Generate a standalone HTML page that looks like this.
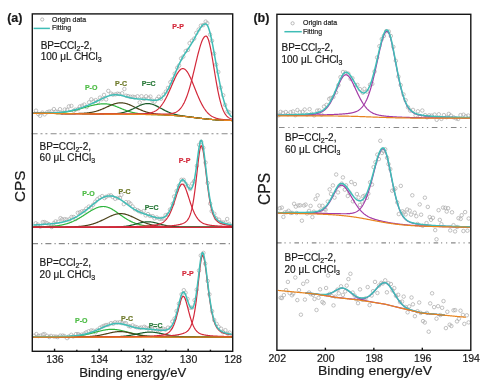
<!DOCTYPE html>
<html><head><meta charset="utf-8"><style>
html,body{margin:0;padding:0;background:#fff;}
body{filter:blur(0.3px);width:488px;height:388px;position:relative;overflow:hidden;font-family:"Liberation Sans",sans-serif;color:#1a1a1a;}
svg{position:absolute;left:0;top:0;}
.t{-webkit-text-stroke:0.2px currentColor;position:absolute;white-space:nowrap;line-height:1;}
.s{font-size:10px;}
.s sub{font-size:7px;vertical-align:baseline;position:relative;top:2px;}
.lg{font-size:7px;}
.tk{font-size:10.5px;}
.lab{font-size:13px;}
.b{font-weight:bold;}
.pk{font-size:7px;font-weight:bold;}
</style></head><body>
<svg width="488" height="388" viewBox="0 0 488 388">
<rect width="488" height="388" fill="#fff"/>
<g fill="none" stroke="#a8a8a8" stroke-width="0.7">
<circle cx="36.0" cy="110.7" r="1.75"/>
<circle cx="38.3" cy="114.1" r="1.75"/>
<circle cx="40.1" cy="115.8" r="1.75"/>
<circle cx="42.4" cy="112.6" r="1.75"/>
<circle cx="44.6" cy="114.4" r="1.75"/>
<circle cx="47.3" cy="112.2" r="1.75"/>
<circle cx="49.2" cy="111.6" r="1.75"/>
<circle cx="51.5" cy="111.4" r="1.75"/>
<circle cx="53.9" cy="109.1" r="1.75"/>
<circle cx="55.9" cy="111.5" r="1.75"/>
<circle cx="57.7" cy="111.9" r="1.75"/>
<circle cx="60.0" cy="109.2" r="1.75"/>
<circle cx="62.0" cy="112.8" r="1.75"/>
<circle cx="64.8" cy="109.5" r="1.75"/>
<circle cx="67.1" cy="109.8" r="1.75"/>
<circle cx="68.9" cy="106.4" r="1.75"/>
<circle cx="71.4" cy="105.9" r="1.75"/>
<circle cx="73.7" cy="110.8" r="1.75"/>
<circle cx="75.3" cy="109.7" r="1.75"/>
<circle cx="78.2" cy="109.0" r="1.75"/>
<circle cx="79.9" cy="106.5" r="1.75"/>
<circle cx="82.2" cy="105.7" r="1.75"/>
<circle cx="84.3" cy="104.6" r="1.75"/>
<circle cx="86.7" cy="107.0" r="1.75"/>
<circle cx="89.1" cy="102.3" r="1.75"/>
<circle cx="91.3" cy="99.3" r="1.75"/>
<circle cx="93.6" cy="101.5" r="1.75"/>
<circle cx="95.7" cy="100.1" r="1.75"/>
<circle cx="98.0" cy="101.8" r="1.75"/>
<circle cx="100.0" cy="97.6" r="1.75"/>
<circle cx="101.8" cy="99.2" r="1.75"/>
<circle cx="104.0" cy="94.9" r="1.75"/>
<circle cx="106.1" cy="99.4" r="1.75"/>
<circle cx="108.3" cy="90.9" r="1.75"/>
<circle cx="111.0" cy="93.6" r="1.75"/>
<circle cx="112.8" cy="94.7" r="1.75"/>
<circle cx="115.4" cy="94.4" r="1.75"/>
<circle cx="117.5" cy="93.7" r="1.75"/>
<circle cx="119.2" cy="94.0" r="1.75"/>
<circle cx="122.1" cy="93.3" r="1.75"/>
<circle cx="124.4" cy="89.0" r="1.75"/>
<circle cx="126.0" cy="95.7" r="1.75"/>
<circle cx="128.1" cy="96.1" r="1.75"/>
<circle cx="130.4" cy="96.8" r="1.75"/>
<circle cx="132.7" cy="96.7" r="1.75"/>
<circle cx="134.6" cy="97.2" r="1.75"/>
<circle cx="137.5" cy="96.3" r="1.75"/>
<circle cx="139.7" cy="102.4" r="1.75"/>
<circle cx="141.5" cy="96.2" r="1.75"/>
<circle cx="143.9" cy="99.0" r="1.75"/>
<circle cx="146.1" cy="96.3" r="1.75"/>
<circle cx="148.6" cy="98.0" r="1.75"/>
<circle cx="150.4" cy="96.6" r="1.75"/>
<circle cx="152.4" cy="100.6" r="1.75"/>
<circle cx="154.6" cy="101.7" r="1.75"/>
<circle cx="157.0" cy="99.0" r="1.75"/>
<circle cx="158.8" cy="96.7" r="1.75"/>
<circle cx="161.0" cy="98.7" r="1.75"/>
<circle cx="163.7" cy="94.6" r="1.75"/>
<circle cx="165.9" cy="91.6" r="1.75"/>
<circle cx="168.0" cy="87.9" r="1.75"/>
<circle cx="170.4" cy="82.2" r="1.75"/>
<circle cx="172.6" cy="79.3" r="1.75"/>
<circle cx="174.7" cy="73.7" r="1.75"/>
<circle cx="177.2" cy="67.8" r="1.75"/>
<circle cx="179.1" cy="65.5" r="1.75"/>
<circle cx="181.1" cy="58.5" r="1.75"/>
<circle cx="183.3" cy="56.6" r="1.75"/>
<circle cx="185.7" cy="51.1" r="1.75"/>
<circle cx="188.0" cy="49.9" r="1.75"/>
<circle cx="189.6" cy="43.2" r="1.75"/>
<circle cx="192.0" cy="40.7" r="1.75"/>
<circle cx="194.2" cy="38.6" r="1.75"/>
<circle cx="196.3" cy="32.9" r="1.75"/>
<circle cx="198.7" cy="29.5" r="1.75"/>
<circle cx="200.9" cy="25.7" r="1.75"/>
<circle cx="203.1" cy="25.1" r="1.75"/>
<circle cx="205.7" cy="21.6" r="1.75"/>
<circle cx="207.3" cy="23.2" r="1.75"/>
<circle cx="210.1" cy="34.6" r="1.75"/>
<circle cx="212.0" cy="40.8" r="1.75"/>
<circle cx="214.2" cy="53.5" r="1.75"/>
<circle cx="216.2" cy="64.5" r="1.75"/>
<circle cx="218.3" cy="72.0" r="1.75"/>
<circle cx="220.6" cy="87.5" r="1.75"/>
<circle cx="223.2" cy="95.3" r="1.75"/>
<circle cx="225.1" cy="104.9" r="1.75"/>
<circle cx="227.6" cy="111.4" r="1.75"/>
<circle cx="229.4" cy="112.4" r="1.75"/>
<circle cx="35.7" cy="223.3" r="1.75"/>
<circle cx="37.9" cy="224.6" r="1.75"/>
<circle cx="40.3" cy="226.6" r="1.75"/>
<circle cx="42.8" cy="222.1" r="1.75"/>
<circle cx="44.6" cy="222.1" r="1.75"/>
<circle cx="46.7" cy="223.1" r="1.75"/>
<circle cx="48.9" cy="224.1" r="1.75"/>
<circle cx="51.7" cy="227.0" r="1.75"/>
<circle cx="53.8" cy="223.1" r="1.75"/>
<circle cx="55.6" cy="221.4" r="1.75"/>
<circle cx="58.1" cy="221.8" r="1.75"/>
<circle cx="60.5" cy="218.2" r="1.75"/>
<circle cx="62.1" cy="219.3" r="1.75"/>
<circle cx="64.6" cy="219.2" r="1.75"/>
<circle cx="66.5" cy="219.5" r="1.75"/>
<circle cx="69.3" cy="219.4" r="1.75"/>
<circle cx="71.5" cy="217.0" r="1.75"/>
<circle cx="73.7" cy="217.0" r="1.75"/>
<circle cx="75.7" cy="219.0" r="1.75"/>
<circle cx="77.8" cy="212.8" r="1.75"/>
<circle cx="79.9" cy="212.3" r="1.75"/>
<circle cx="81.9" cy="211.3" r="1.75"/>
<circle cx="84.2" cy="211.0" r="1.75"/>
<circle cx="86.2" cy="208.7" r="1.75"/>
<circle cx="88.9" cy="206.6" r="1.75"/>
<circle cx="91.0" cy="207.5" r="1.75"/>
<circle cx="93.1" cy="204.8" r="1.75"/>
<circle cx="95.3" cy="201.7" r="1.75"/>
<circle cx="97.4" cy="199.2" r="1.75"/>
<circle cx="99.7" cy="197.5" r="1.75"/>
<circle cx="102.2" cy="196.1" r="1.75"/>
<circle cx="104.5" cy="198.1" r="1.75"/>
<circle cx="106.1" cy="196.8" r="1.75"/>
<circle cx="108.8" cy="195.6" r="1.75"/>
<circle cx="110.9" cy="195.3" r="1.75"/>
<circle cx="112.7" cy="197.0" r="1.75"/>
<circle cx="115.2" cy="198.8" r="1.75"/>
<circle cx="117.7" cy="197.9" r="1.75"/>
<circle cx="120.0" cy="198.0" r="1.75"/>
<circle cx="121.4" cy="194.8" r="1.75"/>
<circle cx="123.8" cy="204.1" r="1.75"/>
<circle cx="126.1" cy="202.1" r="1.75"/>
<circle cx="128.8" cy="202.4" r="1.75"/>
<circle cx="130.4" cy="203.7" r="1.75"/>
<circle cx="132.6" cy="206.5" r="1.75"/>
<circle cx="134.9" cy="209.2" r="1.75"/>
<circle cx="137.6" cy="210.2" r="1.75"/>
<circle cx="139.0" cy="211.2" r="1.75"/>
<circle cx="141.3" cy="212.3" r="1.75"/>
<circle cx="143.6" cy="211.1" r="1.75"/>
<circle cx="145.7" cy="215.4" r="1.75"/>
<circle cx="148.0" cy="214.1" r="1.75"/>
<circle cx="150.0" cy="216.0" r="1.75"/>
<circle cx="152.7" cy="216.2" r="1.75"/>
<circle cx="154.5" cy="218.4" r="1.75"/>
<circle cx="156.8" cy="217.5" r="1.75"/>
<circle cx="159.6" cy="218.9" r="1.75"/>
<circle cx="161.6" cy="218.7" r="1.75"/>
<circle cx="163.5" cy="218.6" r="1.75"/>
<circle cx="165.6" cy="215.1" r="1.75"/>
<circle cx="167.9" cy="214.5" r="1.75"/>
<circle cx="170.0" cy="209.6" r="1.75"/>
<circle cx="172.7" cy="203.8" r="1.75"/>
<circle cx="174.2" cy="196.5" r="1.75"/>
<circle cx="176.6" cy="191.0" r="1.75"/>
<circle cx="178.8" cy="185.7" r="1.75"/>
<circle cx="181.5" cy="179.8" r="1.75"/>
<circle cx="183.7" cy="179.9" r="1.75"/>
<circle cx="185.7" cy="183.8" r="1.75"/>
<circle cx="188.1" cy="186.2" r="1.75"/>
<circle cx="190.1" cy="189.1" r="1.75"/>
<circle cx="192.2" cy="183.7" r="1.75"/>
<circle cx="194.1" cy="181.2" r="1.75"/>
<circle cx="196.9" cy="165.8" r="1.75"/>
<circle cx="199.1" cy="144.8" r="1.75"/>
<circle cx="201.2" cy="141.8" r="1.75"/>
<circle cx="203.3" cy="147.8" r="1.75"/>
<circle cx="205.5" cy="162.5" r="1.75"/>
<circle cx="207.7" cy="183.0" r="1.75"/>
<circle cx="210.2" cy="203.7" r="1.75"/>
<circle cx="211.7" cy="211.2" r="1.75"/>
<circle cx="214.3" cy="213.8" r="1.75"/>
<circle cx="216.0" cy="218.2" r="1.75"/>
<circle cx="219.0" cy="219.7" r="1.75"/>
<circle cx="220.9" cy="222.3" r="1.75"/>
<circle cx="223.1" cy="222.5" r="1.75"/>
<circle cx="225.3" cy="222.6" r="1.75"/>
<circle cx="227.2" cy="219.0" r="1.75"/>
<circle cx="229.2" cy="223.8" r="1.75"/>
<circle cx="33.9" cy="335.8" r="1.75"/>
<circle cx="36.4" cy="334.1" r="1.75"/>
<circle cx="38.4" cy="336.0" r="1.75"/>
<circle cx="40.4" cy="335.7" r="1.75"/>
<circle cx="43.0" cy="334.5" r="1.75"/>
<circle cx="44.5" cy="334.1" r="1.75"/>
<circle cx="47.0" cy="335.8" r="1.75"/>
<circle cx="49.3" cy="337.0" r="1.75"/>
<circle cx="51.0" cy="335.9" r="1.75"/>
<circle cx="53.9" cy="336.5" r="1.75"/>
<circle cx="56.0" cy="336.6" r="1.75"/>
<circle cx="57.7" cy="337.1" r="1.75"/>
<circle cx="60.3" cy="335.6" r="1.75"/>
<circle cx="62.7" cy="335.6" r="1.75"/>
<circle cx="64.4" cy="336.1" r="1.75"/>
<circle cx="67.1" cy="338.1" r="1.75"/>
<circle cx="68.8" cy="336.5" r="1.75"/>
<circle cx="71.3" cy="334.8" r="1.75"/>
<circle cx="73.2" cy="336.4" r="1.75"/>
<circle cx="76.0" cy="334.1" r="1.75"/>
<circle cx="78.1" cy="334.1" r="1.75"/>
<circle cx="79.7" cy="335.1" r="1.75"/>
<circle cx="81.9" cy="334.6" r="1.75"/>
<circle cx="84.5" cy="333.6" r="1.75"/>
<circle cx="86.2" cy="332.4" r="1.75"/>
<circle cx="88.6" cy="331.3" r="1.75"/>
<circle cx="91.3" cy="330.4" r="1.75"/>
<circle cx="93.2" cy="330.7" r="1.75"/>
<circle cx="95.6" cy="332.2" r="1.75"/>
<circle cx="97.2" cy="329.9" r="1.75"/>
<circle cx="100.0" cy="327.8" r="1.75"/>
<circle cx="102.2" cy="326.6" r="1.75"/>
<circle cx="104.1" cy="325.8" r="1.75"/>
<circle cx="106.0" cy="325.0" r="1.75"/>
<circle cx="108.3" cy="324.8" r="1.75"/>
<circle cx="111.0" cy="323.2" r="1.75"/>
<circle cx="113.3" cy="323.7" r="1.75"/>
<circle cx="115.1" cy="322.3" r="1.75"/>
<circle cx="117.4" cy="322.6" r="1.75"/>
<circle cx="119.8" cy="322.2" r="1.75"/>
<circle cx="122.0" cy="323.2" r="1.75"/>
<circle cx="124.4" cy="323.3" r="1.75"/>
<circle cx="125.9" cy="323.2" r="1.75"/>
<circle cx="128.7" cy="326.0" r="1.75"/>
<circle cx="130.5" cy="326.5" r="1.75"/>
<circle cx="132.6" cy="325.4" r="1.75"/>
<circle cx="134.9" cy="326.7" r="1.75"/>
<circle cx="136.9" cy="327.3" r="1.75"/>
<circle cx="139.6" cy="327.9" r="1.75"/>
<circle cx="141.2" cy="327.5" r="1.75"/>
<circle cx="144.2" cy="326.8" r="1.75"/>
<circle cx="145.8" cy="327.7" r="1.75"/>
<circle cx="148.3" cy="328.6" r="1.75"/>
<circle cx="150.3" cy="327.3" r="1.75"/>
<circle cx="152.2" cy="328.7" r="1.75"/>
<circle cx="154.8" cy="328.6" r="1.75"/>
<circle cx="157.3" cy="330.1" r="1.75"/>
<circle cx="159.6" cy="330.4" r="1.75"/>
<circle cx="161.5" cy="329.4" r="1.75"/>
<circle cx="163.5" cy="328.9" r="1.75"/>
<circle cx="165.5" cy="329.6" r="1.75"/>
<circle cx="168.0" cy="327.6" r="1.75"/>
<circle cx="170.6" cy="327.9" r="1.75"/>
<circle cx="172.4" cy="321.6" r="1.75"/>
<circle cx="174.6" cy="318.6" r="1.75"/>
<circle cx="176.6" cy="311.0" r="1.75"/>
<circle cx="178.9" cy="303.7" r="1.75"/>
<circle cx="181.6" cy="294.3" r="1.75"/>
<circle cx="183.8" cy="290.2" r="1.75"/>
<circle cx="185.5" cy="292.7" r="1.75"/>
<circle cx="187.5" cy="298.9" r="1.75"/>
<circle cx="190.3" cy="307.8" r="1.75"/>
<circle cx="192.1" cy="307.6" r="1.75"/>
<circle cx="194.6" cy="300.2" r="1.75"/>
<circle cx="196.7" cy="289.7" r="1.75"/>
<circle cx="199.0" cy="270.6" r="1.75"/>
<circle cx="200.8" cy="255.5" r="1.75"/>
<circle cx="203.4" cy="252.9" r="1.75"/>
<circle cx="205.2" cy="263.6" r="1.75"/>
<circle cx="207.7" cy="281.0" r="1.75"/>
<circle cx="209.4" cy="294.3" r="1.75"/>
<circle cx="212.1" cy="311.2" r="1.75"/>
<circle cx="214.2" cy="320.0" r="1.75"/>
<circle cx="216.6" cy="323.9" r="1.75"/>
<circle cx="218.5" cy="326.8" r="1.75"/>
<circle cx="221.1" cy="328.7" r="1.75"/>
<circle cx="222.9" cy="332.1" r="1.75"/>
<circle cx="225.4" cy="330.2" r="1.75"/>
<circle cx="227.8" cy="333.7" r="1.75"/>
<circle cx="229.6" cy="332.6" r="1.75"/>
<circle cx="278.6" cy="115.3" r="1.75"/>
<circle cx="280.6" cy="111.9" r="1.75"/>
<circle cx="282.8" cy="112.9" r="1.75"/>
<circle cx="285.8" cy="112.0" r="1.75"/>
<circle cx="287.9" cy="114.3" r="1.75"/>
<circle cx="290.6" cy="112.2" r="1.75"/>
<circle cx="293.0" cy="111.5" r="1.75"/>
<circle cx="295.3" cy="115.2" r="1.75"/>
<circle cx="297.4" cy="110.0" r="1.75"/>
<circle cx="299.8" cy="112.3" r="1.75"/>
<circle cx="302.6" cy="111.8" r="1.75"/>
<circle cx="304.7" cy="109.5" r="1.75"/>
<circle cx="306.9" cy="114.5" r="1.75"/>
<circle cx="309.6" cy="109.2" r="1.75"/>
<circle cx="311.7" cy="113.8" r="1.75"/>
<circle cx="314.2" cy="115.4" r="1.75"/>
<circle cx="317.2" cy="110.6" r="1.75"/>
<circle cx="319.3" cy="110.4" r="1.75"/>
<circle cx="321.5" cy="114.6" r="1.75"/>
<circle cx="324.0" cy="106.6" r="1.75"/>
<circle cx="326.5" cy="104.9" r="1.75"/>
<circle cx="329.2" cy="98.9" r="1.75"/>
<circle cx="330.8" cy="98.0" r="1.75"/>
<circle cx="333.4" cy="96.9" r="1.75"/>
<circle cx="336.1" cy="92.4" r="1.75"/>
<circle cx="338.4" cy="85.2" r="1.75"/>
<circle cx="340.5" cy="77.1" r="1.75"/>
<circle cx="343.0" cy="72.0" r="1.75"/>
<circle cx="345.6" cy="72.5" r="1.75"/>
<circle cx="348.3" cy="73.6" r="1.75"/>
<circle cx="350.6" cy="78.8" r="1.75"/>
<circle cx="352.4" cy="78.2" r="1.75"/>
<circle cx="355.1" cy="85.1" r="1.75"/>
<circle cx="357.4" cy="84.9" r="1.75"/>
<circle cx="359.9" cy="89.1" r="1.75"/>
<circle cx="362.8" cy="92.7" r="1.75"/>
<circle cx="364.4" cy="88.8" r="1.75"/>
<circle cx="367.1" cy="91.6" r="1.75"/>
<circle cx="370.0" cy="84.7" r="1.75"/>
<circle cx="372.3" cy="83.9" r="1.75"/>
<circle cx="374.5" cy="71.5" r="1.75"/>
<circle cx="377.1" cy="57.5" r="1.75"/>
<circle cx="379.4" cy="46.2" r="1.75"/>
<circle cx="381.8" cy="39.1" r="1.75"/>
<circle cx="383.9" cy="35.9" r="1.75"/>
<circle cx="386.2" cy="31.2" r="1.75"/>
<circle cx="388.8" cy="31.5" r="1.75"/>
<circle cx="390.8" cy="36.0" r="1.75"/>
<circle cx="393.3" cy="46.9" r="1.75"/>
<circle cx="395.8" cy="60.8" r="1.75"/>
<circle cx="398.4" cy="76.6" r="1.75"/>
<circle cx="400.7" cy="85.1" r="1.75"/>
<circle cx="403.5" cy="94.4" r="1.75"/>
<circle cx="405.6" cy="100.2" r="1.75"/>
<circle cx="408.0" cy="107.3" r="1.75"/>
<circle cx="410.2" cy="110.6" r="1.75"/>
<circle cx="413.0" cy="109.9" r="1.75"/>
<circle cx="415.6" cy="115.5" r="1.75"/>
<circle cx="417.9" cy="111.3" r="1.75"/>
<circle cx="419.9" cy="116.0" r="1.75"/>
<circle cx="422.3" cy="110.5" r="1.75"/>
<circle cx="425.1" cy="115.1" r="1.75"/>
<circle cx="427.0" cy="117.4" r="1.75"/>
<circle cx="429.2" cy="115.3" r="1.75"/>
<circle cx="431.6" cy="115.6" r="1.75"/>
<circle cx="434.6" cy="114.6" r="1.75"/>
<circle cx="436.7" cy="119.8" r="1.75"/>
<circle cx="438.8" cy="114.3" r="1.75"/>
<circle cx="441.4" cy="118.9" r="1.75"/>
<circle cx="443.9" cy="115.1" r="1.75"/>
<circle cx="446.6" cy="117.2" r="1.75"/>
<circle cx="448.8" cy="113.9" r="1.75"/>
<circle cx="450.9" cy="115.6" r="1.75"/>
<circle cx="453.7" cy="117.4" r="1.75"/>
<circle cx="456.1" cy="118.4" r="1.75"/>
<circle cx="458.1" cy="119.0" r="1.75"/>
<circle cx="460.5" cy="115.1" r="1.75"/>
<circle cx="463.5" cy="114.7" r="1.75"/>
<circle cx="465.7" cy="116.3" r="1.75"/>
<circle cx="468.3" cy="115.6" r="1.75"/>
<circle cx="279.8" cy="208.2" r="1.75"/>
<circle cx="281.8" cy="207.6" r="1.75"/>
<circle cx="283.4" cy="216.9" r="1.75"/>
<circle cx="284.8" cy="212.4" r="1.75"/>
<circle cx="286.8" cy="212.2" r="1.75"/>
<circle cx="288.5" cy="210.8" r="1.75"/>
<circle cx="290.6" cy="212.9" r="1.75"/>
<circle cx="292.1" cy="212.9" r="1.75"/>
<circle cx="294.1" cy="203.8" r="1.75"/>
<circle cx="295.8" cy="206.6" r="1.75"/>
<circle cx="296.7" cy="213.0" r="1.75"/>
<circle cx="298.5" cy="205.4" r="1.75"/>
<circle cx="300.2" cy="205.3" r="1.75"/>
<circle cx="301.9" cy="220.7" r="1.75"/>
<circle cx="304.0" cy="205.5" r="1.75"/>
<circle cx="305.6" cy="204.6" r="1.75"/>
<circle cx="307.0" cy="213.5" r="1.75"/>
<circle cx="309.1" cy="210.9" r="1.75"/>
<circle cx="310.6" cy="205.9" r="1.75"/>
<circle cx="312.4" cy="217.1" r="1.75"/>
<circle cx="313.9" cy="211.7" r="1.75"/>
<circle cx="315.6" cy="199.1" r="1.75"/>
<circle cx="317.6" cy="195.3" r="1.75"/>
<circle cx="319.4" cy="205.7" r="1.75"/>
<circle cx="320.7" cy="210.5" r="1.75"/>
<circle cx="322.5" cy="205.8" r="1.75"/>
<circle cx="324.5" cy="209.0" r="1.75"/>
<circle cx="325.6" cy="209.7" r="1.75"/>
<circle cx="327.8" cy="201.6" r="1.75"/>
<circle cx="329.7" cy="189.4" r="1.75"/>
<circle cx="331.0" cy="193.9" r="1.75"/>
<circle cx="332.9" cy="185.4" r="1.75"/>
<circle cx="334.5" cy="197.6" r="1.75"/>
<circle cx="336.2" cy="174.5" r="1.75"/>
<circle cx="338.0" cy="192.4" r="1.75"/>
<circle cx="339.7" cy="185.5" r="1.75"/>
<circle cx="341.7" cy="183.6" r="1.75"/>
<circle cx="342.9" cy="177.4" r="1.75"/>
<circle cx="344.8" cy="189.7" r="1.75"/>
<circle cx="346.1" cy="185.3" r="1.75"/>
<circle cx="347.8" cy="196.0" r="1.75"/>
<circle cx="349.5" cy="192.5" r="1.75"/>
<circle cx="351.3" cy="182.0" r="1.75"/>
<circle cx="352.9" cy="201.3" r="1.75"/>
<circle cx="354.9" cy="184.1" r="1.75"/>
<circle cx="356.9" cy="194.0" r="1.75"/>
<circle cx="358.6" cy="197.6" r="1.75"/>
<circle cx="359.9" cy="205.0" r="1.75"/>
<circle cx="362.0" cy="201.5" r="1.75"/>
<circle cx="363.1" cy="196.3" r="1.75"/>
<circle cx="364.9" cy="195.6" r="1.75"/>
<circle cx="366.9" cy="197.9" r="1.75"/>
<circle cx="368.3" cy="193.7" r="1.75"/>
<circle cx="370.1" cy="182.3" r="1.75"/>
<circle cx="372.0" cy="184.6" r="1.75"/>
<circle cx="373.6" cy="167.1" r="1.75"/>
<circle cx="375.4" cy="162.2" r="1.75"/>
<circle cx="377.3" cy="154.6" r="1.75"/>
<circle cx="378.9" cy="159.1" r="1.75"/>
<circle cx="380.3" cy="140.8" r="1.75"/>
<circle cx="382.0" cy="153.0" r="1.75"/>
<circle cx="383.4" cy="151.2" r="1.75"/>
<circle cx="385.2" cy="149.3" r="1.75"/>
<circle cx="387.1" cy="157.8" r="1.75"/>
<circle cx="388.5" cy="164.1" r="1.75"/>
<circle cx="390.3" cy="169.1" r="1.75"/>
<circle cx="392.2" cy="190.7" r="1.75"/>
<circle cx="394.1" cy="189.7" r="1.75"/>
<circle cx="395.4" cy="188.4" r="1.75"/>
<circle cx="397.3" cy="202.5" r="1.75"/>
<circle cx="398.8" cy="214.1" r="1.75"/>
<circle cx="400.8" cy="185.9" r="1.75"/>
<circle cx="402.5" cy="211.3" r="1.75"/>
<circle cx="404.1" cy="212.4" r="1.75"/>
<circle cx="405.7" cy="214.4" r="1.75"/>
<circle cx="407.2" cy="209.5" r="1.75"/>
<circle cx="409.7" cy="210.6" r="1.75"/>
<circle cx="411.0" cy="214.6" r="1.75"/>
<circle cx="412.3" cy="195.3" r="1.75"/>
<circle cx="414.7" cy="212.7" r="1.75"/>
<circle cx="416.3" cy="216.2" r="1.75"/>
<circle cx="417.5" cy="224.0" r="1.75"/>
<circle cx="419.7" cy="204.4" r="1.75"/>
<circle cx="421.1" cy="214.7" r="1.75"/>
<circle cx="422.7" cy="225.8" r="1.75"/>
<circle cx="424.9" cy="197.7" r="1.75"/>
<circle cx="426.5" cy="223.1" r="1.75"/>
<circle cx="427.8" cy="206.9" r="1.75"/>
<circle cx="429.7" cy="217.1" r="1.75"/>
<circle cx="431.0" cy="219.8" r="1.75"/>
<circle cx="432.9" cy="217.8" r="1.75"/>
<circle cx="435.2" cy="230.1" r="1.75"/>
<circle cx="436.5" cy="239.3" r="1.75"/>
<circle cx="438.6" cy="210.2" r="1.75"/>
<circle cx="439.8" cy="219.9" r="1.75"/>
<circle cx="441.4" cy="224.2" r="1.75"/>
<circle cx="443.1" cy="207.6" r="1.75"/>
<circle cx="445.3" cy="207.8" r="1.75"/>
<circle cx="446.7" cy="211.5" r="1.75"/>
<circle cx="448.1" cy="208.2" r="1.75"/>
<circle cx="450.2" cy="230.4" r="1.75"/>
<circle cx="452.0" cy="212.3" r="1.75"/>
<circle cx="453.5" cy="225.2" r="1.75"/>
<circle cx="455.1" cy="231.4" r="1.75"/>
<circle cx="457.1" cy="227.0" r="1.75"/>
<circle cx="458.5" cy="218.2" r="1.75"/>
<circle cx="460.7" cy="218.9" r="1.75"/>
<circle cx="461.7" cy="215.2" r="1.75"/>
<circle cx="463.4" cy="231.0" r="1.75"/>
<circle cx="465.1" cy="212.1" r="1.75"/>
<circle cx="467.4" cy="230.7" r="1.75"/>
<circle cx="468.7" cy="218.5" r="1.75"/>
<circle cx="280.7" cy="297.8" r="1.75"/>
<circle cx="281.9" cy="298.1" r="1.75"/>
<circle cx="283.9" cy="295.1" r="1.75"/>
<circle cx="286.1" cy="290.1" r="1.75"/>
<circle cx="287.9" cy="281.9" r="1.75"/>
<circle cx="289.6" cy="293.0" r="1.75"/>
<circle cx="292.0" cy="295.3" r="1.75"/>
<circle cx="293.2" cy="293.7" r="1.75"/>
<circle cx="295.3" cy="277.5" r="1.75"/>
<circle cx="297.3" cy="300.1" r="1.75"/>
<circle cx="299.0" cy="290.1" r="1.75"/>
<circle cx="300.9" cy="314.7" r="1.75"/>
<circle cx="303.2" cy="283.8" r="1.75"/>
<circle cx="304.9" cy="299.6" r="1.75"/>
<circle cx="307.1" cy="281.3" r="1.75"/>
<circle cx="309.1" cy="292.5" r="1.75"/>
<circle cx="310.8" cy="294.2" r="1.75"/>
<circle cx="313.0" cy="294.8" r="1.75"/>
<circle cx="314.5" cy="299.0" r="1.75"/>
<circle cx="316.5" cy="310.0" r="1.75"/>
<circle cx="318.5" cy="297.8" r="1.75"/>
<circle cx="320.1" cy="289.3" r="1.75"/>
<circle cx="322.4" cy="302.0" r="1.75"/>
<circle cx="323.7" cy="303.2" r="1.75"/>
<circle cx="326.1" cy="288.0" r="1.75"/>
<circle cx="328.1" cy="275.5" r="1.75"/>
<circle cx="329.7" cy="293.9" r="1.75"/>
<circle cx="331.6" cy="295.8" r="1.75"/>
<circle cx="333.5" cy="305.4" r="1.75"/>
<circle cx="335.4" cy="296.7" r="1.75"/>
<circle cx="337.5" cy="289.6" r="1.75"/>
<circle cx="338.8" cy="293.4" r="1.75"/>
<circle cx="341.0" cy="286.3" r="1.75"/>
<circle cx="342.9" cy="294.9" r="1.75"/>
<circle cx="345.2" cy="291.4" r="1.75"/>
<circle cx="346.7" cy="285.6" r="1.75"/>
<circle cx="348.4" cy="279.1" r="1.75"/>
<circle cx="350.4" cy="273.8" r="1.75"/>
<circle cx="352.7" cy="292.6" r="1.75"/>
<circle cx="354.6" cy="295.5" r="1.75"/>
<circle cx="356.2" cy="299.2" r="1.75"/>
<circle cx="358.0" cy="303.2" r="1.75"/>
<circle cx="360.0" cy="289.4" r="1.75"/>
<circle cx="362.1" cy="299.7" r="1.75"/>
<circle cx="363.7" cy="299.7" r="1.75"/>
<circle cx="365.5" cy="298.5" r="1.75"/>
<circle cx="367.7" cy="287.1" r="1.75"/>
<circle cx="369.6" cy="305.1" r="1.75"/>
<circle cx="371.7" cy="295.5" r="1.75"/>
<circle cx="373.0" cy="291.2" r="1.75"/>
<circle cx="375.0" cy="281.9" r="1.75"/>
<circle cx="377.4" cy="293.0" r="1.75"/>
<circle cx="379.0" cy="285.5" r="1.75"/>
<circle cx="381.3" cy="282.8" r="1.75"/>
<circle cx="382.7" cy="283.5" r="1.75"/>
<circle cx="385.2" cy="280.3" r="1.75"/>
<circle cx="386.9" cy="292.3" r="1.75"/>
<circle cx="388.3" cy="283.1" r="1.75"/>
<circle cx="390.9" cy="284.0" r="1.75"/>
<circle cx="392.5" cy="290.5" r="1.75"/>
<circle cx="394.3" cy="288.1" r="1.75"/>
<circle cx="395.9" cy="295.8" r="1.75"/>
<circle cx="398.2" cy="294.8" r="1.75"/>
<circle cx="400.0" cy="302.1" r="1.75"/>
<circle cx="402.1" cy="301.6" r="1.75"/>
<circle cx="403.7" cy="296.6" r="1.75"/>
<circle cx="405.6" cy="307.0" r="1.75"/>
<circle cx="407.6" cy="312.3" r="1.75"/>
<circle cx="409.2" cy="306.4" r="1.75"/>
<circle cx="411.5" cy="297.5" r="1.75"/>
<circle cx="412.9" cy="304.3" r="1.75"/>
<circle cx="414.9" cy="316.2" r="1.75"/>
<circle cx="417.5" cy="311.2" r="1.75"/>
<circle cx="419.2" cy="302.5" r="1.75"/>
<circle cx="420.7" cy="312.9" r="1.75"/>
<circle cx="423.0" cy="321.1" r="1.75"/>
<circle cx="424.8" cy="322.5" r="1.75"/>
<circle cx="426.9" cy="312.9" r="1.75"/>
<circle cx="428.7" cy="331.7" r="1.75"/>
<circle cx="430.2" cy="303.4" r="1.75"/>
<circle cx="432.1" cy="293.3" r="1.75"/>
<circle cx="434.1" cy="307.1" r="1.75"/>
<circle cx="436.5" cy="318.7" r="1.75"/>
<circle cx="438.1" cy="306.2" r="1.75"/>
<circle cx="440.3" cy="315.1" r="1.75"/>
<circle cx="442.1" cy="307.8" r="1.75"/>
<circle cx="443.5" cy="301.1" r="1.75"/>
<circle cx="445.9" cy="328.1" r="1.75"/>
<circle cx="447.3" cy="311.8" r="1.75"/>
<circle cx="449.7" cy="324.7" r="1.75"/>
<circle cx="451.4" cy="326.0" r="1.75"/>
<circle cx="453.5" cy="310.3" r="1.75"/>
<circle cx="455.2" cy="310.1" r="1.75"/>
<circle cx="457.0" cy="321.4" r="1.75"/>
<circle cx="458.9" cy="318.7" r="1.75"/>
<circle cx="460.5" cy="310.7" r="1.75"/>
<circle cx="462.9" cy="314.9" r="1.75"/>
<circle cx="464.3" cy="323.9" r="1.75"/>
<circle cx="466.8" cy="315.3" r="1.75"/>
<circle cx="468.6" cy="322.4" r="1.75"/>
</g>
<path d="M33.30,113.29 L33.80,113.29 L34.30,113.30 L34.80,113.30 L35.30,113.30 L35.80,113.30 L36.30,113.31 L36.80,113.31 L37.30,113.31 L37.80,113.31 L38.30,113.31 L38.80,113.31 L39.30,113.31 L39.80,113.31 L40.30,113.31 L40.80,113.31 L41.30,113.31 L41.80,113.31 L42.30,113.31 L42.80,113.31 L43.30,113.30 L43.80,113.30 L44.30,113.29 L44.80,113.29 L45.30,113.28 L45.80,113.28 L46.30,113.27 L46.80,113.26 L47.30,113.26 L47.80,113.25 L48.30,113.24 L48.80,113.23 L49.30,113.22 L49.80,113.20 L50.30,113.19 L50.80,113.17 L51.30,113.16 L51.80,113.14 L52.30,113.12 L52.80,113.10 L53.30,113.08 L53.80,113.06 L54.30,113.04 L54.80,113.01 L55.30,112.99 L55.80,112.96 L56.30,112.93 L56.80,112.90 L57.30,112.86 L57.80,112.83 L58.30,112.79 L58.80,112.75 L59.30,112.71 L59.80,112.67 L60.30,112.62 L60.80,112.57 L61.30,112.52 L61.80,112.47 L62.30,112.42 L62.80,112.36 L63.30,112.30 L63.80,112.24 L64.30,112.18 L64.80,112.11 L65.30,112.04 L65.80,111.97 L66.30,111.90 L66.80,111.82 L67.30,111.74 L67.80,111.66 L68.30,111.57 L68.80,111.49 L69.30,111.40 L69.80,111.30 L70.30,111.21 L70.80,111.11 L71.30,111.01 L71.80,110.90 L72.30,110.80 L72.80,110.69 L73.30,110.58 L73.80,110.46 L74.30,110.34 L74.80,110.22 L75.30,110.10 L75.80,109.98 L76.30,109.85 L76.80,109.72 L77.30,109.59 L77.80,109.46 L78.30,109.33 L78.80,109.19 L79.30,109.05 L79.80,108.91 L80.30,108.77 L80.80,108.63 L81.30,108.49 L81.80,108.34 L82.30,108.20 L82.80,108.05 L83.30,107.90 L83.80,107.76 L84.30,107.61 L84.80,107.46 L85.30,107.32 L85.80,107.17 L86.30,107.03 L86.80,106.88 L87.30,106.74 L87.80,106.60 L88.30,106.46 L88.80,106.32 L89.30,106.18 L89.80,106.04 L90.30,105.91 L90.80,105.78 L91.30,105.65 L91.80,105.52 L92.30,105.40 L92.80,105.28 L93.30,105.17 L93.80,105.05 L94.30,104.95 L94.80,104.84 L95.30,104.74 L95.80,104.65 L96.30,104.56 L96.80,104.47 L97.30,104.39 L97.80,104.31 L98.30,104.24 L98.80,104.17 L99.30,104.11 L99.80,104.06 L100.30,104.01 L100.80,103.97 L101.30,103.93 L101.80,103.90 L102.30,103.87 L102.80,103.85 L103.30,103.84 L103.80,103.83 L104.30,103.83 L104.80,103.83 L105.30,103.85 L105.80,103.87 L106.30,103.91 L106.80,103.96 L107.30,104.01 L107.80,104.08 L108.30,104.16 L108.80,104.25 L109.30,104.35 L109.80,104.46 L110.30,104.57 L110.80,104.70 L111.30,104.83 L111.80,104.97 L112.30,105.12 L112.80,105.28 L113.30,105.44 L113.80,105.61 L114.30,105.79 L114.80,105.97 L115.30,106.16 L115.80,106.35 L116.30,106.54 L116.80,106.74 L117.30,106.94 L117.80,107.14 L118.30,107.35 L118.80,107.55 L119.30,107.76 L119.80,107.97 L120.30,108.17 L120.80,108.38 L121.30,108.59 L121.80,108.79 L122.30,109.00 L122.80,109.20 L123.30,109.40 L123.80,109.60 L124.30,109.79 L124.80,109.98 L125.30,110.17 L125.80,110.36 L126.30,110.54 L126.80,110.71 L127.30,110.89 L127.80,111.05 L128.30,111.22 L128.80,111.38 L129.30,111.53 L129.80,111.68 L130.30,111.83 L130.80,111.97 L131.30,112.10 L131.80,112.23 L132.30,112.36 L132.80,112.48 L133.30,112.59 L133.80,112.71 L134.30,112.81 L134.80,112.91 L135.30,113.01 L135.80,113.11 L136.30,113.20 L136.80,113.28 L137.30,113.36 L137.80,113.44 L138.30,113.51 L138.80,113.58 L139.30,113.65 L139.80,113.71 L140.30,113.77 L140.80,113.83 L141.30,113.88 L141.80,113.93 L142.30,113.98 L142.80,114.03 L143.30,114.07 L143.80,114.11 L144.30,114.15 L144.80,114.19 L145.30,114.22 L145.80,114.26 L146.30,114.29 L146.80,114.32 L147.30,114.35 L147.80,114.38 L148.30,114.40 L148.80,114.43 L149.30,114.45 L149.80,114.47 L150.30,114.50 L150.80,114.52 L151.30,114.54 L151.80,114.56 L152.30,114.58 L152.80,114.60 L153.30,114.61 L153.80,114.63 L154.30,114.65 L154.80,114.67 L155.30,114.69 L155.80,114.70 L156.30,114.72 L156.80,114.74 L157.30,114.75 L157.80,114.77 L158.30,114.79 L158.80,114.81 L159.30,114.82 L159.80,114.84 L160.30,114.86 L160.80,114.88 L161.30,114.90 L161.80,114.91 L162.30,114.93 L162.80,114.95 L163.30,114.97 L163.80,114.99 L164.30,115.01 L164.80,115.03 L165.30,115.06 L165.80,115.08 L166.30,115.10 L166.80,115.12 L167.30,115.15 L167.80,115.17 L168.30,115.20 L168.80,115.22 L169.30,115.25 L169.80,115.28 L170.30,115.30 L170.80,115.33 L171.30,115.36 L171.80,115.39 L172.30,115.42 L172.80,115.45 L173.30,115.49 L173.80,115.52 L174.30,115.55 L174.80,115.59 L175.30,115.63 L175.80,115.66 L176.30,115.70 L176.80,115.74 L177.30,115.78 L177.80,115.82 L178.30,115.86 L178.80,115.90 L179.30,115.94 L179.80,115.99 L180.30,116.03 L180.80,116.08 L181.30,116.12 L181.80,116.17 L182.30,116.22 L182.80,116.27 L183.30,116.32 L183.80,116.37 L184.30,116.42 L184.80,116.47 L185.30,116.53 L185.80,116.58 L186.30,116.64 L186.80,116.69 L187.30,116.75 L187.80,116.81 L188.30,116.86 L188.80,116.92 L189.30,116.98 L189.80,117.04 L190.30,117.10 L190.80,117.16 L191.30,117.22 L191.80,117.28 L192.30,117.34 L192.80,117.41 L193.30,117.47 L193.80,117.53 L194.30,117.59 L194.80,117.66 L195.30,117.72 L195.80,117.78 L196.30,117.84 L196.80,117.90 L197.30,117.97 L197.80,118.03 L198.30,118.09 L198.80,118.15 L199.30,118.21 L199.80,118.27 L200.30,118.33 L200.80,118.39 L201.30,118.45 L201.80,118.51 L202.30,118.56 L202.80,118.62 L203.30,118.68 L203.80,118.73 L204.30,118.79 L204.80,118.84 L205.30,118.90 L205.80,118.95 L206.30,119.00 L206.80,119.05 L207.30,119.10 L207.80,119.15 L208.30,119.20 L208.80,119.25 L209.30,119.29 L209.80,119.34 L210.30,119.38 L210.80,119.43 L211.30,119.47 L211.80,119.51 L212.30,119.55 L212.80,119.59 L213.30,119.63 L213.80,119.67 L214.30,119.71 L214.80,119.74 L215.30,119.78 L215.80,119.81 L216.30,119.85 L216.80,119.88 L217.30,119.91 L217.80,119.94 L218.30,119.97 L218.80,120.00 L219.30,120.03 L219.80,120.06 L220.30,120.09 L220.80,120.11 L221.30,120.14 L221.80,120.17 L222.30,120.19 L222.80,120.21 L223.30,120.24 L223.80,120.26 L224.30,120.28 L224.80,120.30 L225.30,120.33 L225.80,120.35 L226.30,120.37 L226.80,120.39 L227.30,120.40 L227.80,120.42 L228.30,120.44 L228.80,120.46 L229.30,120.47 L229.80,120.49 L230.30,120.51 L230.80,120.52 L231.30,120.54 L231.80,120.55" fill="none" stroke="#2db43c" stroke-width="1.2"/>
<path d="M33.30,113.27 L33.80,113.28 L34.30,113.28 L34.80,113.29 L35.30,113.29 L35.80,113.29 L36.30,113.30 L36.80,113.30 L37.30,113.31 L37.80,113.31 L38.30,113.32 L38.80,113.32 L39.30,113.33 L39.80,113.33 L40.30,113.33 L40.80,113.34 L41.30,113.34 L41.80,113.35 L42.30,113.35 L42.80,113.36 L43.30,113.36 L43.80,113.37 L44.30,113.37 L44.80,113.37 L45.30,113.38 L45.80,113.38 L46.30,113.39 L46.80,113.39 L47.30,113.40 L47.80,113.40 L48.30,113.40 L48.80,113.41 L49.30,113.41 L49.80,113.42 L50.30,113.42 L50.80,113.42 L51.30,113.43 L51.80,113.43 L52.30,113.44 L52.80,113.44 L53.30,113.45 L53.80,113.45 L54.30,113.45 L54.80,113.46 L55.30,113.46 L55.80,113.47 L56.30,113.47 L56.80,113.47 L57.30,113.48 L57.80,113.48 L58.30,113.48 L58.80,113.49 L59.30,113.49 L59.80,113.50 L60.30,113.50 L60.80,113.50 L61.30,113.51 L61.80,113.51 L62.30,113.51 L62.80,113.52 L63.30,113.52 L63.80,113.52 L64.30,113.52 L64.80,113.53 L65.30,113.53 L65.80,113.53 L66.30,113.53 L66.80,113.54 L67.30,113.54 L67.80,113.54 L68.30,113.54 L68.80,113.54 L69.30,113.55 L69.80,113.55 L70.30,113.55 L70.80,113.55 L71.30,113.55 L71.80,113.55 L72.30,113.54 L72.80,113.54 L73.30,113.54 L73.80,113.54 L74.30,113.53 L74.80,113.53 L75.30,113.53 L75.80,113.52 L76.30,113.51 L76.80,113.51 L77.30,113.50 L77.80,113.49 L78.30,113.48 L78.80,113.47 L79.30,113.45 L79.80,113.44 L80.30,113.42 L80.80,113.40 L81.30,113.38 L81.80,113.36 L82.30,113.34 L82.80,113.31 L83.30,113.28 L83.80,113.25 L84.30,113.22 L84.80,113.18 L85.30,113.14 L85.80,113.10 L86.30,113.05 L86.80,113.00 L87.30,112.95 L87.80,112.89 L88.30,112.83 L88.80,112.77 L89.30,112.70 L89.80,112.62 L90.30,112.55 L90.80,112.46 L91.30,112.38 L91.80,112.28 L92.30,112.19 L92.80,112.08 L93.30,111.97 L93.80,111.86 L94.30,111.74 L94.80,111.61 L95.30,111.48 L95.80,111.35 L96.30,111.20 L96.80,111.05 L97.30,110.90 L97.80,110.74 L98.30,110.57 L98.80,110.40 L99.30,110.23 L99.80,110.04 L100.30,109.85 L100.80,109.66 L101.30,109.46 L101.80,109.26 L102.30,109.05 L102.80,108.84 L103.30,108.63 L103.80,108.41 L104.30,108.19 L104.80,107.97 L105.30,107.74 L105.80,107.51 L106.30,107.28 L106.80,107.05 L107.30,106.82 L107.80,106.60 L108.30,106.37 L108.80,106.14 L109.30,105.92 L109.80,105.69 L110.30,105.47 L110.80,105.26 L111.30,105.05 L111.80,104.85 L112.30,104.65 L112.80,104.46 L113.30,104.27 L113.80,104.10 L114.30,103.93 L114.80,103.77 L115.30,103.62 L115.80,103.49 L116.30,103.36 L116.80,103.25 L117.30,103.14 L117.80,103.05 L118.30,102.98 L118.80,102.91 L119.30,102.87 L119.80,102.83 L120.30,102.81 L120.80,102.80 L121.30,102.81 L121.80,102.83 L122.30,102.86 L122.80,102.91 L123.30,102.98 L123.80,103.05 L124.30,103.14 L124.80,103.25 L125.30,103.36 L125.80,103.49 L126.30,103.63 L126.80,103.78 L127.30,103.94 L127.80,104.11 L128.30,104.29 L128.80,104.48 L129.30,104.68 L129.80,104.88 L130.30,105.09 L130.80,105.31 L131.30,105.53 L131.80,105.76 L132.30,105.99 L132.80,106.22 L133.30,106.46 L133.80,106.70 L134.30,106.94 L134.80,107.18 L135.30,107.42 L135.80,107.66 L136.30,107.90 L136.80,108.14 L137.30,108.38 L137.80,108.61 L138.30,108.85 L138.80,109.08 L139.30,109.30 L139.80,109.52 L140.30,109.74 L140.80,109.96 L141.30,110.17 L141.80,110.37 L142.30,110.57 L142.80,110.77 L143.30,110.95 L143.80,111.14 L144.30,111.32 L144.80,111.49 L145.30,111.66 L145.80,111.82 L146.30,111.97 L146.80,112.12 L147.30,112.27 L147.80,112.40 L148.30,112.54 L148.80,112.66 L149.30,112.79 L149.80,112.90 L150.30,113.02 L150.80,113.12 L151.30,113.23 L151.80,113.32 L152.30,113.42 L152.80,113.51 L153.30,113.59 L153.80,113.67 L154.30,113.75 L154.80,113.82 L155.30,113.89 L155.80,113.96 L156.30,114.02 L156.80,114.08 L157.30,114.14 L157.80,114.20 L158.30,114.25 L158.80,114.30 L159.30,114.35 L159.80,114.39 L160.30,114.44 L160.80,114.48 L161.30,114.52 L161.80,114.57 L162.30,114.60 L162.80,114.64 L163.30,114.68 L163.80,114.72 L164.30,114.75 L164.80,114.79 L165.30,114.82 L165.80,114.85 L166.30,114.89 L166.80,114.92 L167.30,114.95 L167.80,114.99 L168.30,115.02 L168.80,115.05 L169.30,115.09 L169.80,115.12 L170.30,115.15 L170.80,115.19 L171.30,115.22 L171.80,115.26 L172.30,115.29 L172.80,115.33 L173.30,115.36 L173.80,115.40 L174.30,115.44 L174.80,115.48 L175.30,115.51 L175.80,115.55 L176.30,115.59 L176.80,115.64 L177.30,115.68 L177.80,115.72 L178.30,115.76 L178.80,115.81 L179.30,115.85 L179.80,115.90 L180.30,115.94 L180.80,115.99 L181.30,116.04 L181.80,116.09 L182.30,116.14 L182.80,116.19 L183.30,116.24 L183.80,116.29 L184.30,116.34 L184.80,116.40 L185.30,116.45 L185.80,116.51 L186.30,116.56 L186.80,116.62 L187.30,116.68 L187.80,116.74 L188.30,116.80 L188.80,116.86 L189.30,116.92 L189.80,116.98 L190.30,117.04 L190.80,117.10 L191.30,117.16 L191.80,117.22 L192.30,117.28 L192.80,117.35 L193.30,117.41 L193.80,117.47 L194.30,117.53 L194.80,117.60 L195.30,117.66 L195.80,117.72 L196.30,117.79 L196.80,117.85 L197.30,117.91 L197.80,117.97 L198.30,118.04 L198.80,118.10 L199.30,118.16 L199.80,118.22 L200.30,118.28 L200.80,118.34 L201.30,118.40 L201.80,118.46 L202.30,118.52 L202.80,118.57 L203.30,118.63 L203.80,118.69 L204.30,118.74 L204.80,118.80 L205.30,118.85 L205.80,118.90 L206.30,118.96 L206.80,119.01 L207.30,119.06 L207.80,119.11 L208.30,119.16 L208.80,119.20 L209.30,119.25 L209.80,119.30 L210.30,119.34 L210.80,119.39 L211.30,119.43 L211.80,119.47 L212.30,119.51 L212.80,119.55 L213.30,119.59 L213.80,119.63 L214.30,119.67 L214.80,119.71 L215.30,119.74 L215.80,119.78 L216.30,119.81 L216.80,119.84 L217.30,119.88 L217.80,119.91 L218.30,119.94 L218.80,119.97 L219.30,120.00 L219.80,120.03 L220.30,120.05 L220.80,120.08 L221.30,120.11 L221.80,120.13 L222.30,120.16 L222.80,120.18 L223.30,120.21 L223.80,120.23 L224.30,120.25 L224.80,120.27 L225.30,120.30 L225.80,120.32 L226.30,120.34 L226.80,120.36 L227.30,120.38 L227.80,120.39 L228.30,120.41 L228.80,120.43 L229.30,120.45 L229.80,120.46 L230.30,120.48 L230.80,120.50 L231.30,120.51 L231.80,120.53" fill="none" stroke="#4a4018" stroke-width="1.2"/>
<path d="M33.30,113.30 L33.80,113.31 L34.30,113.31 L34.80,113.32 L35.30,113.32 L35.80,113.33 L36.30,113.33 L36.80,113.34 L37.30,113.34 L37.80,113.35 L38.30,113.35 L38.80,113.36 L39.30,113.36 L39.80,113.37 L40.30,113.37 L40.80,113.38 L41.30,113.38 L41.80,113.39 L42.30,113.39 L42.80,113.40 L43.30,113.40 L43.80,113.41 L44.30,113.41 L44.80,113.42 L45.30,113.42 L45.80,113.43 L46.30,113.43 L46.80,113.44 L47.30,113.44 L47.80,113.45 L48.30,113.45 L48.80,113.46 L49.30,113.46 L49.80,113.47 L50.30,113.47 L50.80,113.48 L51.30,113.48 L51.80,113.48 L52.30,113.49 L52.80,113.49 L53.30,113.50 L53.80,113.50 L54.30,113.51 L54.80,113.51 L55.30,113.52 L55.80,113.52 L56.30,113.53 L56.80,113.53 L57.30,113.54 L57.80,113.54 L58.30,113.55 L58.80,113.55 L59.30,113.56 L59.80,113.56 L60.30,113.57 L60.80,113.57 L61.30,113.58 L61.80,113.58 L62.30,113.59 L62.80,113.59 L63.30,113.60 L63.80,113.60 L64.30,113.61 L64.80,113.61 L65.30,113.62 L65.80,113.62 L66.30,113.63 L66.80,113.63 L67.30,113.63 L67.80,113.64 L68.30,113.64 L68.80,113.65 L69.30,113.65 L69.80,113.66 L70.30,113.66 L70.80,113.67 L71.30,113.67 L71.80,113.68 L72.30,113.68 L72.80,113.69 L73.30,113.69 L73.80,113.70 L74.30,113.70 L74.80,113.71 L75.30,113.71 L75.80,113.72 L76.30,113.72 L76.80,113.72 L77.30,113.73 L77.80,113.73 L78.30,113.74 L78.80,113.74 L79.30,113.75 L79.80,113.75 L80.30,113.76 L80.80,113.76 L81.30,113.77 L81.80,113.77 L82.30,113.78 L82.80,113.78 L83.30,113.79 L83.80,113.79 L84.30,113.79 L84.80,113.80 L85.30,113.80 L85.80,113.81 L86.30,113.81 L86.80,113.82 L87.30,113.82 L87.80,113.83 L88.30,113.83 L88.80,113.84 L89.30,113.84 L89.80,113.84 L90.30,113.85 L90.80,113.85 L91.30,113.86 L91.80,113.86 L92.30,113.87 L92.80,113.87 L93.30,113.87 L93.80,113.88 L94.30,113.88 L94.80,113.89 L95.30,113.89 L95.80,113.90 L96.30,113.90 L96.80,113.90 L97.30,113.91 L97.80,113.91 L98.30,113.91 L98.80,113.92 L99.30,113.92 L99.80,113.92 L100.30,113.93 L100.80,113.93 L101.30,113.93 L101.80,113.93 L102.30,113.94 L102.80,113.94 L103.30,113.94 L103.80,113.94 L104.30,113.94 L104.80,113.94 L105.30,113.94 L105.80,113.94 L106.30,113.93 L106.80,113.93 L107.30,113.93 L107.80,113.92 L108.30,113.92 L108.80,113.91 L109.30,113.90 L109.80,113.89 L110.30,113.88 L110.80,113.87 L111.30,113.85 L111.80,113.84 L112.30,113.82 L112.80,113.80 L113.30,113.78 L113.80,113.75 L114.30,113.72 L114.80,113.69 L115.30,113.66 L115.80,113.62 L116.30,113.58 L116.80,113.53 L117.30,113.48 L117.80,113.43 L118.30,113.37 L118.80,113.31 L119.30,113.24 L119.80,113.17 L120.30,113.09 L120.80,113.00 L121.30,112.91 L121.80,112.81 L122.30,112.71 L122.80,112.60 L123.30,112.48 L123.80,112.36 L124.30,112.23 L124.80,112.09 L125.30,111.95 L125.80,111.79 L126.30,111.63 L126.80,111.47 L127.30,111.29 L127.80,111.11 L128.30,110.92 L128.80,110.72 L129.30,110.52 L129.80,110.31 L130.30,110.10 L130.80,109.88 L131.30,109.65 L131.80,109.42 L132.30,109.18 L132.80,108.94 L133.30,108.69 L133.80,108.45 L134.30,108.20 L134.80,107.94 L135.30,107.69 L135.80,107.44 L136.30,107.19 L136.80,106.94 L137.30,106.69 L137.80,106.44 L138.30,106.20 L138.80,105.97 L139.30,105.74 L139.80,105.51 L140.30,105.30 L140.80,105.09 L141.30,104.90 L141.80,104.71 L142.30,104.53 L142.80,104.37 L143.30,104.22 L143.80,104.09 L144.30,103.97 L144.80,103.86 L145.30,103.77 L145.80,103.69 L146.30,103.64 L146.80,103.60 L147.30,103.57 L147.80,103.56 L148.30,103.58 L148.80,103.60 L149.30,103.65 L149.80,103.71 L150.30,103.79 L150.80,103.89 L151.30,104.00 L151.80,104.13 L152.30,104.28 L152.80,104.43 L153.30,104.61 L153.80,104.79 L154.30,104.99 L154.80,105.20 L155.30,105.41 L155.80,105.64 L156.30,105.88 L156.80,106.13 L157.30,106.38 L157.80,106.64 L158.30,106.90 L158.80,107.17 L159.30,107.44 L159.80,107.71 L160.30,107.99 L160.80,108.26 L161.30,108.54 L161.80,108.81 L162.30,109.09 L162.80,109.36 L163.30,109.63 L163.80,109.89 L164.30,110.16 L164.80,110.41 L165.30,110.67 L165.80,110.92 L166.30,111.16 L166.80,111.40 L167.30,111.63 L167.80,111.85 L168.30,112.07 L168.80,112.28 L169.30,112.49 L169.80,112.68 L170.30,112.88 L170.80,113.06 L171.30,113.24 L171.80,113.41 L172.30,113.58 L172.80,113.74 L173.30,113.89 L173.80,114.04 L174.30,114.18 L174.80,114.32 L175.30,114.45 L175.80,114.57 L176.30,114.69 L176.80,114.81 L177.30,114.92 L177.80,115.03 L178.30,115.13 L178.80,115.23 L179.30,115.33 L179.80,115.42 L180.30,115.51 L180.80,115.60 L181.30,115.69 L181.80,115.77 L182.30,115.85 L182.80,115.93 L183.30,116.01 L183.80,116.09 L184.30,116.16 L184.80,116.24 L185.30,116.31 L185.80,116.38 L186.30,116.45 L186.80,116.52 L187.30,116.59 L187.80,116.66 L188.30,116.73 L188.80,116.80 L189.30,116.86 L189.80,116.93 L190.30,117.00 L190.80,117.06 L191.30,117.13 L191.80,117.20 L192.30,117.26 L192.80,117.33 L193.30,117.40 L193.80,117.46 L194.30,117.53 L194.80,117.59 L195.30,117.66 L195.80,117.72 L196.30,117.79 L196.80,117.85 L197.30,117.91 L197.80,117.98 L198.30,118.04 L198.80,118.10 L199.30,118.16 L199.80,118.23 L200.30,118.29 L200.80,118.35 L201.30,118.41 L201.80,118.47 L202.30,118.52 L202.80,118.58 L203.30,118.64 L203.80,118.70 L204.30,118.75 L204.80,118.81 L205.30,118.86 L205.80,118.91 L206.30,118.97 L206.80,119.02 L207.30,119.07 L207.80,119.12 L208.30,119.17 L208.80,119.21 L209.30,119.26 L209.80,119.31 L210.30,119.35 L210.80,119.40 L211.30,119.44 L211.80,119.48 L212.30,119.52 L212.80,119.56 L213.30,119.60 L213.80,119.64 L214.30,119.68 L214.80,119.72 L215.30,119.75 L215.80,119.79 L216.30,119.82 L216.80,119.85 L217.30,119.89 L217.80,119.92 L218.30,119.95 L218.80,119.98 L219.30,120.01 L219.80,120.04 L220.30,120.06 L220.80,120.09 L221.30,120.12 L221.80,120.14 L222.30,120.17 L222.80,120.19 L223.30,120.22 L223.80,120.24 L224.30,120.26 L224.80,120.28 L225.30,120.31 L225.80,120.33 L226.30,120.35 L226.80,120.37 L227.30,120.38 L227.80,120.40 L228.30,120.42 L228.80,120.44 L229.30,120.46 L229.80,120.47 L230.30,120.49 L230.80,120.51 L231.30,120.52 L231.80,120.54" fill="none" stroke="#1a5a2a" stroke-width="1.2"/>
<path d="M33.30,113.27 L33.80,113.28 L34.30,113.28 L34.80,113.29 L35.30,113.29 L35.80,113.30 L36.30,113.30 L36.80,113.30 L37.30,113.31 L37.80,113.31 L38.30,113.32 L38.80,113.32 L39.30,113.33 L39.80,113.33 L40.30,113.34 L40.80,113.34 L41.30,113.35 L41.80,113.35 L42.30,113.36 L42.80,113.36 L43.30,113.37 L43.80,113.37 L44.30,113.38 L44.80,113.38 L45.30,113.38 L45.80,113.39 L46.30,113.39 L46.80,113.40 L47.30,113.40 L47.80,113.41 L48.30,113.41 L48.80,113.42 L49.30,113.42 L49.80,113.43 L50.30,113.43 L50.80,113.44 L51.30,113.44 L51.80,113.44 L52.30,113.45 L52.80,113.45 L53.30,113.46 L53.80,113.46 L54.30,113.47 L54.80,113.47 L55.30,113.48 L55.80,113.48 L56.30,113.49 L56.80,113.49 L57.30,113.49 L57.80,113.50 L58.30,113.50 L58.80,113.51 L59.30,113.51 L59.80,113.52 L60.30,113.52 L60.80,113.53 L61.30,113.53 L61.80,113.54 L62.30,113.54 L62.80,113.54 L63.30,113.55 L63.80,113.55 L64.30,113.56 L64.80,113.56 L65.30,113.57 L65.80,113.57 L66.30,113.58 L66.80,113.58 L67.30,113.58 L67.80,113.59 L68.30,113.59 L68.80,113.60 L69.30,113.60 L69.80,113.61 L70.30,113.61 L70.80,113.62 L71.30,113.62 L71.80,113.62 L72.30,113.63 L72.80,113.63 L73.30,113.64 L73.80,113.64 L74.30,113.65 L74.80,113.65 L75.30,113.65 L75.80,113.66 L76.30,113.66 L76.80,113.67 L77.30,113.67 L77.80,113.68 L78.30,113.68 L78.80,113.68 L79.30,113.69 L79.80,113.69 L80.30,113.70 L80.80,113.70 L81.30,113.70 L81.80,113.71 L82.30,113.71 L82.80,113.72 L83.30,113.72 L83.80,113.73 L84.30,113.73 L84.80,113.73 L85.30,113.74 L85.80,113.74 L86.30,113.75 L86.80,113.75 L87.30,113.75 L87.80,113.76 L88.30,113.76 L88.80,113.77 L89.30,113.77 L89.80,113.77 L90.30,113.78 L90.80,113.78 L91.30,113.79 L91.80,113.79 L92.30,113.79 L92.80,113.80 L93.30,113.80 L93.80,113.80 L94.30,113.81 L94.80,113.81 L95.30,113.82 L95.80,113.82 L96.30,113.82 L96.80,113.83 L97.30,113.83 L97.80,113.83 L98.30,113.84 L98.80,113.84 L99.30,113.85 L99.80,113.85 L100.30,113.85 L100.80,113.86 L101.30,113.86 L101.80,113.86 L102.30,113.87 L102.80,113.87 L103.30,113.87 L103.80,113.88 L104.30,113.88 L104.80,113.88 L105.30,113.89 L105.80,113.89 L106.30,113.89 L106.80,113.90 L107.30,113.90 L107.80,113.90 L108.30,113.91 L108.80,113.91 L109.30,113.91 L109.80,113.91 L110.30,113.92 L110.80,113.92 L111.30,113.92 L111.80,113.93 L112.30,113.93 L112.80,113.93 L113.30,113.93 L113.80,113.94 L114.30,113.94 L114.80,113.94 L115.30,113.95 L115.80,113.95 L116.30,113.95 L116.80,113.95 L117.30,113.96 L117.80,113.96 L118.30,113.96 L118.80,113.96 L119.30,113.96 L119.80,113.97 L120.30,113.97 L120.80,113.97 L121.30,113.97 L121.80,113.97 L122.30,113.98 L122.80,113.98 L123.30,113.98 L123.80,113.98 L124.30,113.98 L124.80,113.98 L125.30,113.99 L125.80,113.99 L126.30,113.99 L126.80,113.99 L127.30,113.99 L127.80,113.99 L128.30,113.99 L128.80,113.99 L129.30,113.99 L129.80,113.99 L130.30,113.99 L130.80,113.99 L131.30,113.99 L131.80,113.99 L132.30,113.99 L132.80,113.99 L133.30,113.99 L133.80,113.99 L134.30,113.99 L134.80,113.98 L135.30,113.98 L135.80,113.98 L136.30,113.97 L136.80,113.97 L137.30,113.97 L137.80,113.96 L138.30,113.95 L138.80,113.95 L139.30,113.94 L139.80,113.93 L140.30,113.92 L140.80,113.90 L141.30,113.89 L141.80,113.87 L142.30,113.85 L142.80,113.83 L143.30,113.81 L143.80,113.78 L144.30,113.75 L144.80,113.71 L145.30,113.68 L145.80,113.63 L146.30,113.58 L146.80,113.53 L147.30,113.47 L147.80,113.40 L148.30,113.33 L148.80,113.24 L149.30,113.15 L149.80,113.05 L150.30,112.94 L150.80,112.81 L151.30,112.68 L151.80,112.53 L152.30,112.36 L152.80,112.18 L153.30,111.98 L153.80,111.77 L154.30,111.54 L154.80,111.28 L155.30,111.01 L155.80,110.71 L156.30,110.39 L156.80,110.04 L157.30,109.67 L157.80,109.27 L158.30,108.84 L158.80,108.38 L159.30,107.89 L159.80,107.36 L160.30,106.81 L160.80,106.22 L161.30,105.60 L161.80,104.94 L162.30,104.25 L162.80,103.52 L163.30,102.75 L163.80,101.96 L164.30,101.12 L164.80,100.25 L165.30,99.35 L165.80,98.41 L166.30,97.45 L166.80,96.45 L167.30,95.42 L167.80,94.37 L168.30,93.30 L168.80,92.20 L169.30,91.08 L169.80,89.95 L170.30,88.80 L170.80,87.64 L171.30,86.48 L171.80,85.32 L172.30,84.16 L172.80,83.00 L173.30,81.86 L173.80,80.73 L174.30,79.63 L174.80,78.54 L175.30,77.49 L175.80,76.48 L176.30,75.50 L176.80,74.58 L177.30,73.70 L177.80,72.87 L178.30,72.11 L178.80,71.41 L179.30,70.78 L179.80,70.23 L180.30,69.75 L180.80,69.35 L181.30,69.03 L181.80,68.80 L182.30,68.65 L182.80,68.59 L183.30,68.62 L183.80,68.74 L184.30,68.95 L184.80,69.25 L185.30,69.63 L185.80,70.09 L186.30,70.64 L186.80,71.26 L187.30,71.96 L187.80,72.73 L188.30,73.56 L188.80,74.46 L189.30,75.41 L189.80,76.42 L190.30,77.47 L190.80,78.56 L191.30,79.70 L191.80,80.86 L192.30,82.05 L192.80,83.27 L193.30,84.50 L193.80,85.74 L194.30,86.99 L194.80,88.25 L195.30,89.50 L195.80,90.75 L196.30,91.99 L196.80,93.22 L197.30,94.44 L197.80,95.63 L198.30,96.80 L198.80,97.95 L199.30,99.08 L199.80,100.17 L200.30,101.23 L200.80,102.26 L201.30,103.26 L201.80,104.22 L202.30,105.15 L202.80,106.04 L203.30,106.90 L203.80,107.71 L204.30,108.50 L204.80,109.24 L205.30,109.95 L205.80,110.62 L206.30,111.26 L206.80,111.86 L207.30,112.43 L207.80,112.97 L208.30,113.48 L208.80,113.95 L209.30,114.40 L209.80,114.82 L210.30,115.21 L210.80,115.57 L211.30,115.91 L211.80,116.23 L212.30,116.53 L212.80,116.80 L213.30,117.06 L213.80,117.29 L214.30,117.51 L214.80,117.72 L215.30,117.90 L215.80,118.08 L216.30,118.24 L216.80,118.39 L217.30,118.53 L217.80,118.66 L218.30,118.77 L218.80,118.88 L219.30,118.99 L219.80,119.08 L220.30,119.17 L220.80,119.25 L221.30,119.32 L221.80,119.39 L222.30,119.46 L222.80,119.52 L223.30,119.58 L223.80,119.63 L224.30,119.68 L224.80,119.73 L225.30,119.77 L225.80,119.81 L226.30,119.85 L226.80,119.89 L227.30,119.92 L227.80,119.96 L228.30,119.99 L228.80,120.02 L229.30,120.05 L229.80,120.08 L230.30,120.10 L230.80,120.13 L231.30,120.15 L231.80,120.18" fill="none" stroke="#d3283a" stroke-width="1.2"/>
<path d="M33.30,113.26 L33.80,113.27 L34.30,113.27 L34.80,113.28 L35.30,113.28 L35.80,113.29 L36.30,113.29 L36.80,113.30 L37.30,113.30 L37.80,113.31 L38.30,113.31 L38.80,113.32 L39.30,113.32 L39.80,113.32 L40.30,113.33 L40.80,113.33 L41.30,113.34 L41.80,113.34 L42.30,113.35 L42.80,113.35 L43.30,113.36 L43.80,113.36 L44.30,113.37 L44.80,113.37 L45.30,113.38 L45.80,113.38 L46.30,113.39 L46.80,113.39 L47.30,113.39 L47.80,113.40 L48.30,113.40 L48.80,113.41 L49.30,113.41 L49.80,113.42 L50.30,113.42 L50.80,113.43 L51.30,113.43 L51.80,113.44 L52.30,113.44 L52.80,113.45 L53.30,113.45 L53.80,113.45 L54.30,113.46 L54.80,113.46 L55.30,113.47 L55.80,113.47 L56.30,113.48 L56.80,113.48 L57.30,113.49 L57.80,113.49 L58.30,113.50 L58.80,113.50 L59.30,113.51 L59.80,113.51 L60.30,113.51 L60.80,113.52 L61.30,113.52 L61.80,113.53 L62.30,113.53 L62.80,113.54 L63.30,113.54 L63.80,113.55 L64.30,113.55 L64.80,113.55 L65.30,113.56 L65.80,113.56 L66.30,113.57 L66.80,113.57 L67.30,113.58 L67.80,113.58 L68.30,113.59 L68.80,113.59 L69.30,113.59 L69.80,113.60 L70.30,113.60 L70.80,113.61 L71.30,113.61 L71.80,113.62 L72.30,113.62 L72.80,113.63 L73.30,113.63 L73.80,113.63 L74.30,113.64 L74.80,113.64 L75.30,113.65 L75.80,113.65 L76.30,113.66 L76.80,113.66 L77.30,113.67 L77.80,113.67 L78.30,113.67 L78.80,113.68 L79.30,113.68 L79.80,113.69 L80.30,113.69 L80.80,113.70 L81.30,113.70 L81.80,113.70 L82.30,113.71 L82.80,113.71 L83.30,113.72 L83.80,113.72 L84.30,113.73 L84.80,113.73 L85.30,113.73 L85.80,113.74 L86.30,113.74 L86.80,113.75 L87.30,113.75 L87.80,113.75 L88.30,113.76 L88.80,113.76 L89.30,113.77 L89.80,113.77 L90.30,113.78 L90.80,113.78 L91.30,113.78 L91.80,113.79 L92.30,113.79 L92.80,113.80 L93.30,113.80 L93.80,113.80 L94.30,113.81 L94.80,113.81 L95.30,113.82 L95.80,113.82 L96.30,113.82 L96.80,113.83 L97.30,113.83 L97.80,113.84 L98.30,113.84 L98.80,113.84 L99.30,113.85 L99.80,113.85 L100.30,113.86 L100.80,113.86 L101.30,113.86 L101.80,113.87 L102.30,113.87 L102.80,113.87 L103.30,113.88 L103.80,113.88 L104.30,113.89 L104.80,113.89 L105.30,113.89 L105.80,113.90 L106.30,113.90 L106.80,113.90 L107.30,113.91 L107.80,113.91 L108.30,113.92 L108.80,113.92 L109.30,113.92 L109.80,113.93 L110.30,113.93 L110.80,113.93 L111.30,113.94 L111.80,113.94 L112.30,113.94 L112.80,113.95 L113.30,113.95 L113.80,113.95 L114.30,113.96 L114.80,113.96 L115.30,113.96 L115.80,113.97 L116.30,113.97 L116.80,113.97 L117.30,113.98 L117.80,113.98 L118.30,113.98 L118.80,113.99 L119.30,113.99 L119.80,113.99 L120.30,114.00 L120.80,114.00 L121.30,114.00 L121.80,114.01 L122.30,114.01 L122.80,114.01 L123.30,114.02 L123.80,114.02 L124.30,114.02 L124.80,114.03 L125.30,114.03 L125.80,114.03 L126.30,114.04 L126.80,114.04 L127.30,114.04 L127.80,114.04 L128.30,114.05 L128.80,114.05 L129.30,114.05 L129.80,114.06 L130.30,114.06 L130.80,114.06 L131.30,114.06 L131.80,114.07 L132.30,114.07 L132.80,114.07 L133.30,114.08 L133.80,114.08 L134.30,114.08 L134.80,114.08 L135.30,114.09 L135.80,114.09 L136.30,114.09 L136.80,114.09 L137.30,114.10 L137.80,114.10 L138.30,114.10 L138.80,114.10 L139.30,114.11 L139.80,114.11 L140.30,114.11 L140.80,114.11 L141.30,114.12 L141.80,114.12 L142.30,114.12 L142.80,114.13 L143.30,114.13 L143.80,114.13 L144.30,114.13 L144.80,114.14 L145.30,114.14 L145.80,114.14 L146.30,114.14 L146.80,114.15 L147.30,114.15 L147.80,114.15 L148.30,114.15 L148.80,114.16 L149.30,114.16 L149.80,114.16 L150.30,114.16 L150.80,114.17 L151.30,114.17 L151.80,114.17 L152.30,114.17 L152.80,114.18 L153.30,114.18 L153.80,114.18 L154.30,114.18 L154.80,114.19 L155.30,114.19 L155.80,114.19 L156.30,114.19 L156.80,114.19 L157.30,114.20 L157.80,114.20 L158.30,114.20 L158.80,114.20 L159.30,114.20 L159.80,114.20 L160.30,114.20 L160.80,114.20 L161.30,114.20 L161.80,114.20 L162.30,114.19 L162.80,114.19 L163.30,114.18 L163.80,114.18 L164.30,114.17 L164.80,114.16 L165.30,114.14 L165.80,114.13 L166.30,114.11 L166.80,114.09 L167.30,114.06 L167.80,114.03 L168.30,113.99 L168.80,113.95 L169.30,113.90 L169.80,113.85 L170.30,113.78 L170.80,113.71 L171.30,113.63 L171.80,113.53 L172.30,113.43 L172.80,113.31 L173.30,113.17 L173.80,113.02 L174.30,112.85 L174.80,112.66 L175.30,112.45 L175.80,112.21 L176.30,111.95 L176.80,111.67 L177.30,111.35 L177.80,111.00 L178.30,110.61 L178.80,110.19 L179.30,109.73 L179.80,109.22 L180.30,108.68 L180.80,108.08 L181.30,107.44 L181.80,106.74 L182.30,105.99 L182.80,105.19 L183.30,104.32 L183.80,103.40 L184.30,102.41 L184.80,101.36 L185.30,100.24 L185.80,99.06 L186.30,97.81 L186.80,96.49 L187.30,95.10 L187.80,93.64 L188.30,92.12 L188.80,90.53 L189.30,88.88 L189.80,87.17 L190.30,85.39 L190.80,83.56 L191.30,81.67 L191.80,79.74 L192.30,77.76 L192.80,75.75 L193.30,73.70 L193.80,71.62 L194.30,69.53 L194.80,67.42 L195.30,65.31 L195.80,63.20 L196.30,61.10 L196.80,59.02 L197.30,56.98 L197.80,54.97 L198.30,53.02 L198.80,51.12 L199.30,49.30 L199.80,47.55 L200.30,45.90 L200.80,44.34 L201.30,42.89 L201.80,41.56 L202.30,40.36 L202.80,39.29 L203.30,38.37 L203.80,37.59 L204.30,36.97 L204.80,36.51 L205.30,36.21 L205.80,36.08 L206.30,36.13 L206.80,36.47 L207.30,37.14 L207.80,38.13 L208.30,39.41 L208.80,40.98 L209.30,42.81 L209.80,44.89 L210.30,47.19 L210.80,49.67 L211.30,52.32 L211.80,55.11 L212.30,58.01 L212.80,60.99 L213.30,64.03 L213.80,67.10 L214.30,70.18 L214.80,73.24 L215.30,76.26 L215.80,79.24 L216.30,82.14 L216.80,84.95 L217.30,87.66 L217.80,90.27 L218.30,92.75 L218.80,95.11 L219.30,97.34 L219.80,99.43 L220.30,101.39 L220.80,103.21 L221.30,104.91 L221.80,106.47 L222.30,107.90 L222.80,109.21 L223.30,110.41 L223.80,111.49 L224.30,112.47 L224.80,113.36 L225.30,114.15 L225.80,114.86 L226.30,115.49 L226.80,116.06 L227.30,116.55 L227.80,116.99 L228.30,117.38 L228.80,117.73 L229.30,118.03 L229.80,118.29 L230.30,118.52 L230.80,118.72 L231.30,118.90 L231.80,119.05" fill="none" stroke="#d3283a" stroke-width="1.2"/>
<path d="M33.30,113.15 L33.80,113.15 L34.30,113.15 L34.80,113.15 L35.30,113.16 L35.80,113.16 L36.30,113.16 L36.80,113.16 L37.30,113.16 L37.80,113.16 L38.30,113.16 L38.80,113.16 L39.30,113.16 L39.80,113.16 L40.30,113.15 L40.80,113.15 L41.30,113.15 L41.80,113.15 L42.30,113.14 L42.80,113.14 L43.30,113.14 L43.80,113.13 L44.30,113.13 L44.80,113.12 L45.30,113.11 L45.80,113.11 L46.30,113.10 L46.80,113.09 L47.30,113.08 L47.80,113.07 L48.30,113.06 L48.80,113.04 L49.30,113.03 L49.80,113.02 L50.30,113.00 L50.80,112.99 L51.30,112.97 L51.80,112.95 L52.30,112.93 L52.80,112.91 L53.30,112.88 L53.80,112.86 L54.30,112.83 L54.80,112.81 L55.30,112.78 L55.80,112.75 L56.30,112.72 L56.80,112.68 L57.30,112.65 L57.80,112.61 L58.30,112.57 L58.80,112.53 L59.30,112.48 L59.80,112.44 L60.30,112.39 L60.80,112.34 L61.30,112.29 L61.80,112.23 L62.30,112.18 L62.80,112.12 L63.30,112.06 L63.80,111.99 L64.30,111.92 L64.80,111.85 L65.30,111.78 L65.80,111.71 L66.30,111.63 L66.80,111.55 L67.30,111.46 L67.80,111.38 L68.30,111.29 L68.80,111.20 L69.30,111.10 L69.80,111.00 L70.30,110.90 L70.80,110.79 L71.30,110.69 L71.80,110.58 L72.30,110.46 L72.80,110.34 L73.30,110.22 L73.80,110.10 L74.30,109.97 L74.80,109.84 L75.30,109.71 L75.80,109.57 L76.30,109.43 L76.80,109.29 L77.30,109.14 L77.80,109.00 L78.30,108.84 L78.80,108.69 L79.30,108.53 L79.80,108.37 L80.30,108.20 L80.80,108.04 L81.30,107.87 L81.80,107.69 L82.30,107.52 L82.80,107.34 L83.30,107.16 L83.80,106.97 L84.30,106.78 L84.80,106.59 L85.30,106.40 L85.80,106.20 L86.30,106.00 L86.80,105.80 L87.30,105.60 L87.80,105.39 L88.30,105.18 L88.80,104.97 L89.30,104.76 L89.80,104.54 L90.30,104.32 L90.80,104.10 L91.30,103.88 L91.80,103.65 L92.30,103.42 L92.80,103.19 L93.30,102.96 L93.80,102.72 L94.30,102.49 L94.80,102.25 L95.30,102.01 L95.80,101.77 L96.30,101.53 L96.80,101.28 L97.30,101.04 L97.80,100.79 L98.30,100.55 L98.80,100.30 L99.30,100.05 L99.80,99.81 L100.30,99.56 L100.80,99.31 L101.30,99.06 L101.80,98.82 L102.30,98.58 L102.80,98.33 L103.30,98.09 L103.80,97.85 L104.30,97.62 L104.80,97.39 L105.30,97.16 L105.80,96.94 L106.30,96.74 L106.80,96.54 L107.30,96.35 L107.80,96.17 L108.30,96.00 L108.80,95.84 L109.30,95.69 L109.80,95.55 L110.30,95.43 L110.80,95.31 L111.30,95.21 L111.80,95.11 L112.30,95.03 L112.80,94.96 L113.30,94.90 L113.80,94.86 L114.30,94.82 L114.80,94.80 L115.30,94.79 L115.80,94.79 L116.30,94.80 L116.80,94.82 L117.30,94.85 L117.80,94.90 L118.30,94.95 L118.80,95.01 L119.30,95.09 L119.80,95.17 L120.30,95.26 L120.80,95.36 L121.30,95.46 L121.80,95.58 L122.30,95.70 L122.80,95.82 L123.30,95.95 L123.80,96.08 L124.30,96.22 L124.80,96.36 L125.30,96.50 L125.80,96.64 L126.30,96.78 L126.80,96.92 L127.30,97.06 L127.80,97.20 L128.30,97.33 L128.80,97.46 L129.30,97.59 L129.80,97.72 L130.30,97.83 L130.80,97.95 L131.30,98.06 L131.80,98.16 L132.30,98.26 L132.80,98.35 L133.30,98.43 L133.80,98.51 L134.30,98.58 L134.80,98.65 L135.30,98.71 L135.80,98.77 L136.30,98.82 L136.80,98.86 L137.30,98.90 L137.80,98.94 L138.30,98.97 L138.80,99.00 L139.30,99.03 L139.80,99.06 L140.30,99.08 L140.80,99.11 L141.30,99.13 L141.80,99.16 L142.30,99.18 L142.80,99.21 L143.30,99.24 L143.80,99.27 L144.30,99.31 L144.80,99.34 L145.30,99.38 L145.80,99.43 L146.30,99.48 L146.80,99.53 L147.30,99.58 L147.80,99.64 L148.30,99.70 L148.80,99.76 L149.30,99.83 L149.80,99.89 L150.30,99.96 L150.80,100.02 L151.30,100.08 L151.80,100.13 L152.30,100.18 L152.80,100.23 L153.30,100.26 L153.80,100.29 L154.30,100.30 L154.80,100.30 L155.30,100.28 L155.80,100.24 L156.30,100.19 L156.80,100.11 L157.30,100.01 L157.80,99.89 L158.30,99.73 L158.80,99.55 L159.30,99.34 L159.80,99.09 L160.30,98.81 L160.80,98.49 L161.30,98.13 L161.80,97.74 L162.30,97.30 L162.80,96.82 L163.30,96.30 L163.80,95.74 L164.30,95.14 L164.80,94.49 L165.30,93.80 L165.80,93.06 L166.30,92.29 L166.80,91.47 L167.30,90.61 L167.80,89.71 L168.30,88.78 L168.80,87.81 L169.30,86.80 L169.80,85.76 L170.30,84.69 L170.80,83.60 L171.30,82.48 L171.80,81.34 L172.30,80.18 L172.80,79.01 L173.30,77.82 L173.80,76.63 L174.30,75.43 L174.80,74.23 L175.30,73.03 L175.80,71.83 L176.30,70.65 L176.80,69.47 L177.30,68.31 L177.80,67.17 L178.30,66.04 L178.80,64.94 L179.30,63.86 L179.80,62.81 L180.30,61.79 L180.80,60.79 L181.30,59.82 L181.80,58.88 L182.30,57.97 L182.80,57.09 L183.30,56.24 L183.80,55.41 L184.30,54.60 L184.80,53.81 L185.30,53.04 L185.80,52.29 L186.30,51.55 L186.80,50.81 L187.30,50.08 L187.80,49.34 L188.30,48.61 L188.80,47.87 L189.30,47.12 L189.80,46.36 L190.30,45.58 L190.80,44.79 L191.30,43.98 L191.80,43.16 L192.30,42.31 L192.80,41.45 L193.30,40.57 L193.80,39.67 L194.30,38.76 L194.80,37.83 L195.30,36.90 L195.80,35.96 L196.30,35.02 L196.80,34.08 L197.30,33.15 L197.80,32.24 L198.30,31.34 L198.80,30.47 L199.30,29.63 L199.80,28.82 L200.30,28.06 L200.80,27.35 L201.30,26.69 L201.80,26.09 L202.30,25.56 L202.80,25.10 L203.30,24.72 L203.80,24.42 L204.30,24.20 L204.80,24.07 L205.30,24.03 L205.80,24.09 L206.30,24.25 L206.80,24.64 L207.30,25.28 L207.80,26.17 L208.30,27.30 L208.80,28.65 L209.30,30.22 L209.80,31.99 L210.30,33.93 L210.80,36.03 L211.30,38.28 L211.80,40.65 L212.30,43.13 L212.80,45.70 L213.30,48.34 L213.80,51.04 L214.30,53.78 L214.80,56.55 L215.30,59.34 L215.80,62.13 L216.30,64.91 L216.80,67.68 L217.30,70.43 L217.80,73.14 L218.30,75.80 L218.80,78.42 L219.30,80.98 L219.80,83.47 L220.30,85.90 L220.80,88.25 L221.30,90.52 L221.80,92.71 L222.30,94.80 L222.80,96.81 L223.30,98.72 L223.80,100.53 L224.30,102.25 L224.80,103.86 L225.30,105.37 L225.80,106.79 L226.30,108.10 L226.80,109.32 L227.30,110.44 L227.80,111.48 L228.30,112.42 L228.80,113.28 L229.30,114.06 L229.80,114.76 L230.30,115.39 L230.80,115.96 L231.30,116.46 L231.80,116.91" fill="none" stroke="#3fbdb6" stroke-width="1.5"/>
<path d="M33.30,113.31 L33.80,113.32 L34.30,113.32 L34.80,113.33 L35.30,113.33 L35.80,113.34 L36.30,113.34 L36.80,113.35 L37.30,113.35 L37.80,113.36 L38.30,113.36 L38.80,113.37 L39.30,113.37 L39.80,113.38 L40.30,113.38 L40.80,113.39 L41.30,113.39 L41.80,113.40 L42.30,113.40 L42.80,113.41 L43.30,113.41 L43.80,113.42 L44.30,113.42 L44.80,113.43 L45.30,113.43 L45.80,113.44 L46.30,113.44 L46.80,113.45 L47.30,113.45 L47.80,113.46 L48.30,113.46 L48.80,113.47 L49.30,113.47 L49.80,113.48 L50.30,113.48 L50.80,113.49 L51.30,113.49 L51.80,113.50 L52.30,113.50 L52.80,113.51 L53.30,113.51 L53.80,113.52 L54.30,113.52 L54.80,113.53 L55.30,113.53 L55.80,113.54 L56.30,113.54 L56.80,113.55 L57.30,113.55 L57.80,113.56 L58.30,113.56 L58.80,113.57 L59.30,113.57 L59.80,113.58 L60.30,113.58 L60.80,113.59 L61.30,113.59 L61.80,113.60 L62.30,113.60 L62.80,113.61 L63.30,113.61 L63.80,113.62 L64.30,113.62 L64.80,113.63 L65.30,113.63 L65.80,113.64 L66.30,113.64 L66.80,113.65 L67.30,113.65 L67.80,113.66 L68.30,113.66 L68.80,113.67 L69.30,113.67 L69.80,113.68 L70.30,113.68 L70.80,113.69 L71.30,113.69 L71.80,113.70 L72.30,113.70 L72.80,113.71 L73.30,113.71 L73.80,113.72 L74.30,113.72 L74.80,113.73 L75.30,113.73 L75.80,113.74 L76.30,113.74 L76.80,113.75 L77.30,113.75 L77.80,113.76 L78.30,113.76 L78.80,113.77 L79.30,113.77 L79.80,113.78 L80.30,113.78 L80.80,113.79 L81.30,113.79 L81.80,113.80 L82.30,113.80 L82.80,113.81 L83.30,113.81 L83.80,113.82 L84.30,113.82 L84.80,113.83 L85.30,113.83 L85.80,113.84 L86.30,113.84 L86.80,113.85 L87.30,113.85 L87.80,113.86 L88.30,113.86 L88.80,113.87 L89.30,113.87 L89.80,113.88 L90.30,113.88 L90.80,113.89 L91.30,113.89 L91.80,113.90 L92.30,113.90 L92.80,113.91 L93.30,113.91 L93.80,113.92 L94.30,113.92 L94.80,113.93 L95.30,113.93 L95.80,113.94 L96.30,113.94 L96.80,113.95 L97.30,113.95 L97.80,113.96 L98.30,113.96 L98.80,113.97 L99.30,113.97 L99.80,113.98 L100.30,113.99 L100.80,113.99 L101.30,114.00 L101.80,114.00 L102.30,114.01 L102.80,114.01 L103.30,114.02 L103.80,114.02 L104.30,114.03 L104.80,114.03 L105.30,114.04 L105.80,114.04 L106.30,114.05 L106.80,114.05 L107.30,114.06 L107.80,114.06 L108.30,114.07 L108.80,114.07 L109.30,114.08 L109.80,114.08 L110.30,114.09 L110.80,114.09 L111.30,114.10 L111.80,114.10 L112.30,114.11 L112.80,114.11 L113.30,114.12 L113.80,114.12 L114.30,114.13 L114.80,114.13 L115.30,114.14 L115.80,114.15 L116.30,114.15 L116.80,114.16 L117.30,114.16 L117.80,114.17 L118.30,114.17 L118.80,114.18 L119.30,114.18 L119.80,114.19 L120.30,114.19 L120.80,114.20 L121.30,114.20 L121.80,114.21 L122.30,114.22 L122.80,114.22 L123.30,114.23 L123.80,114.23 L124.30,114.24 L124.80,114.24 L125.30,114.25 L125.80,114.26 L126.30,114.26 L126.80,114.27 L127.30,114.27 L127.80,114.28 L128.30,114.28 L128.80,114.29 L129.30,114.30 L129.80,114.30 L130.30,114.31 L130.80,114.31 L131.30,114.32 L131.80,114.33 L132.30,114.33 L132.80,114.34 L133.30,114.34 L133.80,114.35 L134.30,114.36 L134.80,114.36 L135.30,114.37 L135.80,114.38 L136.30,114.38 L136.80,114.39 L137.30,114.40 L137.80,114.40 L138.30,114.41 L138.80,114.42 L139.30,114.43 L139.80,114.43 L140.30,114.44 L140.80,114.45 L141.30,114.45 L141.80,114.46 L142.30,114.47 L142.80,114.48 L143.30,114.49 L143.80,114.49 L144.30,114.50 L144.80,114.51 L145.30,114.52 L145.80,114.53 L146.30,114.54 L146.80,114.55 L147.30,114.55 L147.80,114.56 L148.30,114.57 L148.80,114.58 L149.30,114.59 L149.80,114.60 L150.30,114.61 L150.80,114.62 L151.30,114.63 L151.80,114.64 L152.30,114.66 L152.80,114.67 L153.30,114.68 L153.80,114.69 L154.30,114.70 L154.80,114.71 L155.30,114.73 L155.80,114.74 L156.30,114.75 L156.80,114.77 L157.30,114.78 L157.80,114.80 L158.30,114.81 L158.80,114.82 L159.30,114.84 L159.80,114.86 L160.30,114.87 L160.80,114.89 L161.30,114.91 L161.80,114.92 L162.30,114.94 L162.80,114.96 L163.30,114.98 L163.80,115.00 L164.30,115.02 L164.80,115.04 L165.30,115.06 L165.80,115.08 L166.30,115.10 L166.80,115.13 L167.30,115.15 L167.80,115.17 L168.30,115.20 L168.80,115.22 L169.30,115.25 L169.80,115.28 L170.30,115.31 L170.80,115.33 L171.30,115.36 L171.80,115.39 L172.30,115.42 L172.80,115.46 L173.30,115.49 L173.80,115.52 L174.30,115.55 L174.80,115.59 L175.30,115.63 L175.80,115.66 L176.30,115.70 L176.80,115.74 L177.30,115.78 L177.80,115.82 L178.30,115.86 L178.80,115.90 L179.30,115.94 L179.80,115.99 L180.30,116.03 L180.80,116.08 L181.30,116.12 L181.80,116.17 L182.30,116.22 L182.80,116.27 L183.30,116.32 L183.80,116.37 L184.30,116.42 L184.80,116.47 L185.30,116.53 L185.80,116.58 L186.30,116.64 L186.80,116.69 L187.30,116.75 L187.80,116.81 L188.30,116.86 L188.80,116.92 L189.30,116.98 L189.80,117.04 L190.30,117.10 L190.80,117.16 L191.30,117.22 L191.80,117.28 L192.30,117.34 L192.80,117.41 L193.30,117.47 L193.80,117.53 L194.30,117.59 L194.80,117.66 L195.30,117.72 L195.80,117.78 L196.30,117.84 L196.80,117.90 L197.30,117.97 L197.80,118.03 L198.30,118.09 L198.80,118.15 L199.30,118.21 L199.80,118.27 L200.30,118.33 L200.80,118.39 L201.30,118.45 L201.80,118.51 L202.30,118.56 L202.80,118.62 L203.30,118.68 L203.80,118.73 L204.30,118.79 L204.80,118.84 L205.30,118.90 L205.80,118.95 L206.30,119.00 L206.80,119.05 L207.30,119.10 L207.80,119.15 L208.30,119.20 L208.80,119.25 L209.30,119.29 L209.80,119.34 L210.30,119.38 L210.80,119.43 L211.30,119.47 L211.80,119.51 L212.30,119.55 L212.80,119.59 L213.30,119.63 L213.80,119.67 L214.30,119.71 L214.80,119.74 L215.30,119.78 L215.80,119.81 L216.30,119.85 L216.80,119.88 L217.30,119.91 L217.80,119.94 L218.30,119.97 L218.80,120.00 L219.30,120.03 L219.80,120.06 L220.30,120.09 L220.80,120.11 L221.30,120.14 L221.80,120.17 L222.30,120.19 L222.80,120.21 L223.30,120.24 L223.80,120.26 L224.30,120.28 L224.80,120.30 L225.30,120.33 L225.80,120.35 L226.30,120.37 L226.80,120.39 L227.30,120.40 L227.80,120.42 L228.30,120.44 L228.80,120.46 L229.30,120.47 L229.80,120.49 L230.30,120.51 L230.80,120.52 L231.30,120.54 L231.80,120.55" fill="none" stroke="#e8841e" stroke-width="1.2"/>
<path d="M33.30,226.91 L33.80,226.90 L34.30,226.90 L34.80,226.89 L35.30,226.88 L35.80,226.88 L36.30,226.87 L36.80,226.86 L37.30,226.85 L37.80,226.84 L38.30,226.83 L38.80,226.82 L39.30,226.81 L39.80,226.80 L40.30,226.79 L40.80,226.78 L41.30,226.77 L41.80,226.75 L42.30,226.74 L42.80,226.73 L43.30,226.71 L43.80,226.70 L44.30,226.68 L44.80,226.66 L45.30,226.64 L45.80,226.62 L46.30,226.60 L46.80,226.58 L47.30,226.56 L47.80,226.53 L48.30,226.51 L48.80,226.48 L49.30,226.45 L49.80,226.42 L50.30,226.39 L50.80,226.36 L51.30,226.32 L51.80,226.29 L52.30,226.25 L52.80,226.20 L53.30,226.16 L53.80,226.12 L54.30,226.07 L54.80,226.02 L55.30,225.96 L55.80,225.91 L56.30,225.85 L56.80,225.79 L57.30,225.72 L57.80,225.65 L58.30,225.58 L58.80,225.51 L59.30,225.43 L59.80,225.35 L60.30,225.26 L60.80,225.17 L61.30,225.07 L61.80,224.97 L62.30,224.87 L62.80,224.76 L63.30,224.65 L63.80,224.53 L64.30,224.41 L64.80,224.28 L65.30,224.15 L65.80,224.01 L66.30,223.87 L66.80,223.72 L67.30,223.57 L67.80,223.41 L68.30,223.24 L68.80,223.07 L69.30,222.89 L69.80,222.71 L70.30,222.52 L70.80,222.33 L71.30,222.13 L71.80,221.92 L72.30,221.70 L72.80,221.49 L73.30,221.26 L73.80,221.03 L74.30,220.79 L74.80,220.55 L75.30,220.30 L75.80,220.04 L76.30,219.78 L76.80,219.52 L77.30,219.24 L77.80,218.97 L78.30,218.69 L78.80,218.40 L79.30,218.11 L79.80,217.81 L80.30,217.51 L80.80,217.21 L81.30,216.90 L81.80,216.59 L82.30,216.27 L82.80,215.96 L83.30,215.64 L83.80,215.32 L84.30,214.99 L84.80,214.67 L85.30,214.35 L85.80,214.02 L86.30,213.69 L86.80,213.37 L87.30,213.05 L87.80,212.72 L88.30,212.40 L88.80,212.09 L89.30,211.77 L89.80,211.46 L90.30,211.15 L90.80,210.85 L91.30,210.55 L91.80,210.26 L92.30,209.98 L92.80,209.70 L93.30,209.43 L93.80,209.17 L94.30,208.92 L94.80,208.68 L95.30,208.44 L95.80,208.22 L96.30,208.01 L96.80,207.81 L97.30,207.62 L97.80,207.45 L98.30,207.29 L98.80,207.14 L99.30,207.01 L99.80,206.89 L100.30,206.79 L100.80,206.70 L101.30,206.63 L101.80,206.57 L102.30,206.53 L102.80,206.51 L103.30,206.50 L103.80,206.51 L104.30,206.54 L104.80,206.59 L105.30,206.66 L105.80,206.74 L106.30,206.85 L106.80,206.97 L107.30,207.12 L107.80,207.27 L108.30,207.45 L108.80,207.64 L109.30,207.85 L109.80,208.07 L110.30,208.31 L110.80,208.56 L111.30,208.82 L111.80,209.09 L112.30,209.38 L112.80,209.67 L113.30,209.98 L113.80,210.29 L114.30,210.61 L114.80,210.94 L115.30,211.28 L115.80,211.62 L116.30,211.96 L116.80,212.31 L117.30,212.66 L117.80,213.01 L118.30,213.37 L118.80,213.73 L119.30,214.09 L119.80,214.44 L120.30,214.80 L120.80,215.16 L121.30,215.51 L121.80,215.86 L122.30,216.21 L122.80,216.56 L123.30,216.90 L123.80,217.24 L124.30,217.57 L124.80,217.90 L125.30,218.22 L125.80,218.54 L126.30,218.86 L126.80,219.16 L127.30,219.46 L127.80,219.76 L128.30,220.04 L128.80,220.32 L129.30,220.60 L129.80,220.86 L130.30,221.12 L130.80,221.37 L131.30,221.62 L131.80,221.85 L132.30,222.08 L132.80,222.31 L133.30,222.52 L133.80,222.73 L134.30,222.93 L134.80,223.12 L135.30,223.31 L135.80,223.49 L136.30,223.66 L136.80,223.83 L137.30,223.99 L137.80,224.14 L138.30,224.28 L138.80,224.42 L139.30,224.56 L139.80,224.69 L140.30,224.81 L140.80,224.92 L141.30,225.03 L141.80,225.14 L142.30,225.24 L142.80,225.34 L143.30,225.43 L143.80,225.51 L144.30,225.60 L144.80,225.67 L145.30,225.75 L145.80,225.82 L146.30,225.88 L146.80,225.95 L147.30,226.01 L147.80,226.06 L148.30,226.12 L148.80,226.17 L149.30,226.21 L149.80,226.26 L150.30,226.30 L150.80,226.34 L151.30,226.38 L151.80,226.41 L152.30,226.45 L152.80,226.48 L153.30,226.51 L153.80,226.54 L154.30,226.56 L154.80,226.59 L155.30,226.61 L155.80,226.63 L156.30,226.65 L156.80,226.67 L157.30,226.69 L157.80,226.71 L158.30,226.73 L158.80,226.74 L159.30,226.76 L159.80,226.77 L160.30,226.78 L160.80,226.80 L161.30,226.81 L161.80,226.82 L162.30,226.83 L162.80,226.84 L163.30,226.85 L163.80,226.86 L164.30,226.87 L164.80,226.88 L165.30,226.89 L165.80,226.89 L166.30,226.90 L166.80,226.91 L167.30,226.92 L167.80,226.92 L168.30,226.93 L168.80,226.94 L169.30,226.94 L169.80,226.95 L170.30,226.95 L170.80,226.96 L171.30,226.96 L171.80,226.97 L172.30,226.97 L172.80,226.98 L173.30,226.98 L173.80,226.99 L174.30,226.99 L174.80,227.00 L175.30,227.00 L175.80,227.00 L176.30,227.01 L176.80,227.01 L177.30,227.02 L177.80,227.02 L178.30,227.02 L178.80,227.03 L179.30,227.03 L179.80,227.03 L180.30,227.04 L180.80,227.04 L181.30,227.04 L181.80,227.05 L182.30,227.05 L182.80,227.05 L183.30,227.06 L183.80,227.06 L184.30,227.06 L184.80,227.06 L185.30,227.07 L185.80,227.07 L186.30,227.07 L186.80,227.07 L187.30,227.08 L187.80,227.08 L188.30,227.08 L188.80,227.08 L189.30,227.09 L189.80,227.09 L190.30,227.09 L190.80,227.09 L191.30,227.10 L191.80,227.10 L192.30,227.10 L192.80,227.10 L193.30,227.10 L193.80,227.11 L194.30,227.11 L194.80,227.11 L195.30,227.11 L195.80,227.11 L196.30,227.12 L196.80,227.12 L197.30,227.12 L197.80,227.12 L198.30,227.12 L198.80,227.13 L199.30,227.13 L199.80,227.13 L200.30,227.13 L200.80,227.13 L201.30,227.13 L201.80,227.14 L202.30,227.14 L202.80,227.14 L203.30,227.14 L203.80,227.14 L204.30,227.14 L204.80,227.14 L205.30,227.15 L205.80,227.15 L206.30,227.15 L206.80,227.15 L207.30,227.15 L207.80,227.15 L208.30,227.15 L208.80,227.16 L209.30,227.16 L209.80,227.16 L210.30,227.16 L210.80,227.16 L211.30,227.16 L211.80,227.16 L212.30,227.16 L212.80,227.17 L213.30,227.17 L213.80,227.17 L214.30,227.17 L214.80,227.17 L215.30,227.17 L215.80,227.17 L216.30,227.17 L216.80,227.17 L217.30,227.18 L217.80,227.18 L218.30,227.18 L218.80,227.18 L219.30,227.18 L219.80,227.18 L220.30,227.18 L220.80,227.18 L221.30,227.18 L221.80,227.18 L222.30,227.19 L222.80,227.19 L223.30,227.19 L223.80,227.19 L224.30,227.19 L224.80,227.19 L225.30,227.19 L225.80,227.19 L226.30,227.19 L226.80,227.19 L227.30,227.19 L227.80,227.20 L228.30,227.20 L228.80,227.20 L229.30,227.20 L229.80,227.20 L230.30,227.20 L230.80,227.20 L231.30,227.20 L231.80,227.20" fill="none" stroke="#2db43c" stroke-width="1.2"/>
<path d="M33.30,227.18 L33.80,227.17 L34.30,227.17 L34.80,227.17 L35.30,227.17 L35.80,227.17 L36.30,227.17 L36.80,227.17 L37.30,227.16 L37.80,227.16 L38.30,227.16 L38.80,227.16 L39.30,227.16 L39.80,227.16 L40.30,227.16 L40.80,227.15 L41.30,227.15 L41.80,227.15 L42.30,227.15 L42.80,227.15 L43.30,227.14 L43.80,227.14 L44.30,227.14 L44.80,227.14 L45.30,227.14 L45.80,227.13 L46.30,227.13 L46.80,227.13 L47.30,227.13 L47.80,227.13 L48.30,227.12 L48.80,227.12 L49.30,227.12 L49.80,227.12 L50.30,227.11 L50.80,227.11 L51.30,227.11 L51.80,227.11 L52.30,227.10 L52.80,227.10 L53.30,227.10 L53.80,227.09 L54.30,227.09 L54.80,227.09 L55.30,227.08 L55.80,227.08 L56.30,227.08 L56.80,227.07 L57.30,227.07 L57.80,227.07 L58.30,227.06 L58.80,227.06 L59.30,227.05 L59.80,227.05 L60.30,227.04 L60.80,227.04 L61.30,227.03 L61.80,227.03 L62.30,227.02 L62.80,227.02 L63.30,227.01 L63.80,227.00 L64.30,227.00 L64.80,226.99 L65.30,226.98 L65.80,226.97 L66.30,226.96 L66.80,226.96 L67.30,226.95 L67.80,226.94 L68.30,226.93 L68.80,226.91 L69.30,226.90 L69.80,226.89 L70.30,226.88 L70.80,226.86 L71.30,226.85 L71.80,226.83 L72.30,226.81 L72.80,226.79 L73.30,226.77 L73.80,226.75 L74.30,226.73 L74.80,226.71 L75.30,226.68 L75.80,226.66 L76.30,226.63 L76.80,226.60 L77.30,226.56 L77.80,226.53 L78.30,226.49 L78.80,226.46 L79.30,226.42 L79.80,226.37 L80.30,226.33 L80.80,226.28 L81.30,226.23 L81.80,226.17 L82.30,226.12 L82.80,226.05 L83.30,225.99 L83.80,225.92 L84.30,225.85 L84.80,225.78 L85.30,225.70 L85.80,225.62 L86.30,225.53 L86.80,225.44 L87.30,225.34 L87.80,225.24 L88.30,225.14 L88.80,225.03 L89.30,224.92 L89.80,224.80 L90.30,224.67 L90.80,224.54 L91.30,224.41 L91.80,224.27 L92.30,224.12 L92.80,223.97 L93.30,223.82 L93.80,223.66 L94.30,223.49 L94.80,223.32 L95.30,223.14 L95.80,222.96 L96.30,222.77 L96.80,222.58 L97.30,222.38 L97.80,222.18 L98.30,221.97 L98.80,221.76 L99.30,221.54 L99.80,221.32 L100.30,221.10 L100.80,220.87 L101.30,220.64 L101.80,220.40 L102.30,220.16 L102.80,219.92 L103.30,219.68 L103.80,219.44 L104.30,219.19 L104.80,218.94 L105.30,218.70 L105.80,218.45 L106.30,218.20 L106.80,217.95 L107.30,217.71 L107.80,217.46 L108.30,217.22 L108.80,216.98 L109.30,216.75 L109.80,216.51 L110.30,216.29 L110.80,216.07 L111.30,215.85 L111.80,215.64 L112.30,215.44 L112.80,215.24 L113.30,215.05 L113.80,214.88 L114.30,214.71 L114.80,214.55 L115.30,214.40 L115.80,214.26 L116.30,214.14 L116.80,214.03 L117.30,213.93 L117.80,213.84 L118.30,213.76 L118.80,213.70 L119.30,213.66 L119.80,213.62 L120.30,213.60 L120.80,213.60 L121.30,213.61 L121.80,213.63 L122.30,213.67 L122.80,213.73 L123.30,213.79 L123.80,213.87 L124.30,213.96 L124.80,214.07 L125.30,214.19 L125.80,214.32 L126.30,214.46 L126.80,214.61 L127.30,214.77 L127.80,214.95 L128.30,215.13 L128.80,215.32 L129.30,215.52 L129.80,215.72 L130.30,215.93 L130.80,216.15 L131.30,216.38 L131.80,216.61 L132.30,216.84 L132.80,217.08 L133.30,217.32 L133.80,217.56 L134.30,217.80 L134.80,218.05 L135.30,218.30 L135.80,218.55 L136.30,218.79 L136.80,219.04 L137.30,219.29 L137.80,219.53 L138.30,219.78 L138.80,220.02 L139.30,220.26 L139.80,220.50 L140.30,220.73 L140.80,220.96 L141.30,221.19 L141.80,221.41 L142.30,221.63 L142.80,221.84 L143.30,222.05 L143.80,222.26 L144.30,222.46 L144.80,222.66 L145.30,222.85 L145.80,223.03 L146.30,223.21 L146.80,223.39 L147.30,223.56 L147.80,223.72 L148.30,223.88 L148.80,224.03 L149.30,224.18 L149.80,224.32 L150.30,224.46 L150.80,224.59 L151.30,224.72 L151.80,224.84 L152.30,224.96 L152.80,225.07 L153.30,225.18 L153.80,225.28 L154.30,225.38 L154.80,225.48 L155.30,225.56 L155.80,225.65 L156.30,225.73 L156.80,225.81 L157.30,225.88 L157.80,225.95 L158.30,226.02 L158.80,226.08 L159.30,226.14 L159.80,226.19 L160.30,226.25 L160.80,226.30 L161.30,226.35 L161.80,226.39 L162.30,226.43 L162.80,226.47 L163.30,226.51 L163.80,226.54 L164.30,226.58 L164.80,226.61 L165.30,226.64 L165.80,226.67 L166.30,226.69 L166.80,226.72 L167.30,226.74 L167.80,226.76 L168.30,226.78 L168.80,226.80 L169.30,226.82 L169.80,226.84 L170.30,226.85 L170.80,226.87 L171.30,226.88 L171.80,226.89 L172.30,226.91 L172.80,226.92 L173.30,226.93 L173.80,226.94 L174.30,226.95 L174.80,226.96 L175.30,226.97 L175.80,226.98 L176.30,226.98 L176.80,226.99 L177.30,227.00 L177.80,227.01 L178.30,227.01 L178.80,227.02 L179.30,227.02 L179.80,227.03 L180.30,227.04 L180.80,227.04 L181.30,227.05 L181.80,227.05 L182.30,227.05 L182.80,227.06 L183.30,227.06 L183.80,227.07 L184.30,227.07 L184.80,227.07 L185.30,227.08 L185.80,227.08 L186.30,227.09 L186.80,227.09 L187.30,227.09 L187.80,227.09 L188.30,227.10 L188.80,227.10 L189.30,227.10 L189.80,227.11 L190.30,227.11 L190.80,227.11 L191.30,227.11 L191.80,227.12 L192.30,227.12 L192.80,227.12 L193.30,227.12 L193.80,227.13 L194.30,227.13 L194.80,227.13 L195.30,227.13 L195.80,227.13 L196.30,227.14 L196.80,227.14 L197.30,227.14 L197.80,227.14 L198.30,227.14 L198.80,227.15 L199.30,227.15 L199.80,227.15 L200.30,227.15 L200.80,227.15 L201.30,227.16 L201.80,227.16 L202.30,227.16 L202.80,227.16 L203.30,227.16 L203.80,227.16 L204.30,227.17 L204.80,227.17 L205.30,227.17 L205.80,227.17 L206.30,227.17 L206.80,227.17 L207.30,227.17 L207.80,227.18 L208.30,227.18 L208.80,227.18 L209.30,227.18 L209.80,227.18 L210.30,227.18 L210.80,227.18 L211.30,227.18 L211.80,227.19 L212.30,227.19 L212.80,227.19 L213.30,227.19 L213.80,227.19 L214.30,227.19 L214.80,227.19 L215.30,227.19 L215.80,227.19 L216.30,227.20 L216.80,227.20 L217.30,227.20 L217.80,227.20 L218.30,227.20 L218.80,227.20 L219.30,227.20 L219.80,227.20 L220.30,227.20 L220.80,227.20 L221.30,227.21 L221.80,227.21 L222.30,227.21 L222.80,227.21 L223.30,227.21 L223.80,227.21 L224.30,227.21 L224.80,227.21 L225.30,227.21 L225.80,227.21 L226.30,227.21 L226.80,227.21 L227.30,227.22 L227.80,227.22 L228.30,227.22 L228.80,227.22 L229.30,227.22 L229.80,227.22 L230.30,227.22 L230.80,227.22 L231.30,227.22 L231.80,227.22" fill="none" stroke="#4a4018" stroke-width="1.2"/>
<path d="M33.30,227.28 L33.80,227.28 L34.30,227.28 L34.80,227.28 L35.30,227.28 L35.80,227.28 L36.30,227.28 L36.80,227.28 L37.30,227.28 L37.80,227.28 L38.30,227.28 L38.80,227.28 L39.30,227.28 L39.80,227.28 L40.30,227.28 L40.80,227.28 L41.30,227.28 L41.80,227.28 L42.30,227.28 L42.80,227.28 L43.30,227.28 L43.80,227.28 L44.30,227.28 L44.80,227.28 L45.30,227.28 L45.80,227.28 L46.30,227.28 L46.80,227.28 L47.30,227.28 L47.80,227.28 L48.30,227.28 L48.80,227.28 L49.30,227.28 L49.80,227.28 L50.30,227.28 L50.80,227.28 L51.30,227.28 L51.80,227.28 L52.30,227.28 L52.80,227.28 L53.30,227.28 L53.80,227.28 L54.30,227.28 L54.80,227.28 L55.30,227.28 L55.80,227.28 L56.30,227.27 L56.80,227.27 L57.30,227.27 L57.80,227.27 L58.30,227.27 L58.80,227.27 L59.30,227.27 L59.80,227.27 L60.30,227.27 L60.80,227.27 L61.30,227.27 L61.80,227.27 L62.30,227.27 L62.80,227.27 L63.30,227.27 L63.80,227.27 L64.30,227.27 L64.80,227.27 L65.30,227.27 L65.80,227.27 L66.30,227.27 L66.80,227.27 L67.30,227.27 L67.80,227.27 L68.30,227.27 L68.80,227.27 L69.30,227.27 L69.80,227.27 L70.30,227.27 L70.80,227.26 L71.30,227.26 L71.80,227.26 L72.30,227.26 L72.80,227.26 L73.30,227.26 L73.80,227.26 L74.30,227.26 L74.80,227.26 L75.30,227.26 L75.80,227.26 L76.30,227.26 L76.80,227.26 L77.30,227.26 L77.80,227.26 L78.30,227.26 L78.80,227.26 L79.30,227.26 L79.80,227.26 L80.30,227.25 L80.80,227.25 L81.30,227.25 L81.80,227.25 L82.30,227.25 L82.80,227.25 L83.30,227.25 L83.80,227.25 L84.30,227.25 L84.80,227.25 L85.30,227.25 L85.80,227.25 L86.30,227.25 L86.80,227.25 L87.30,227.24 L87.80,227.24 L88.30,227.24 L88.80,227.24 L89.30,227.24 L89.80,227.24 L90.30,227.24 L90.80,227.24 L91.30,227.24 L91.80,227.24 L92.30,227.23 L92.80,227.23 L93.30,227.23 L93.80,227.23 L94.30,227.23 L94.80,227.23 L95.30,227.23 L95.80,227.23 L96.30,227.22 L96.80,227.22 L97.30,227.22 L97.80,227.22 L98.30,227.22 L98.80,227.22 L99.30,227.22 L99.80,227.21 L100.30,227.21 L100.80,227.21 L101.30,227.21 L101.80,227.21 L102.30,227.20 L102.80,227.20 L103.30,227.20 L103.80,227.20 L104.30,227.19 L104.80,227.19 L105.30,227.19 L105.80,227.18 L106.30,227.18 L106.80,227.18 L107.30,227.17 L107.80,227.17 L108.30,227.16 L108.80,227.16 L109.30,227.15 L109.80,227.14 L110.30,227.14 L110.80,227.13 L111.30,227.12 L111.80,227.11 L112.30,227.10 L112.80,227.09 L113.30,227.08 L113.80,227.07 L114.30,227.06 L114.80,227.04 L115.30,227.03 L115.80,227.01 L116.30,226.99 L116.80,226.97 L117.30,226.95 L117.80,226.93 L118.30,226.91 L118.80,226.88 L119.30,226.85 L119.80,226.82 L120.30,226.78 L120.80,226.75 L121.30,226.71 L121.80,226.67 L122.30,226.62 L122.80,226.57 L123.30,226.52 L123.80,226.47 L124.30,226.41 L124.80,226.35 L125.30,226.29 L125.80,226.22 L126.30,226.14 L126.80,226.07 L127.30,225.99 L127.80,225.90 L128.30,225.82 L128.80,225.72 L129.30,225.63 L129.80,225.53 L130.30,225.42 L130.80,225.32 L131.30,225.20 L131.80,225.09 L132.30,224.97 L132.80,224.85 L133.30,224.73 L133.80,224.60 L134.30,224.47 L134.80,224.34 L135.30,224.21 L135.80,224.08 L136.30,223.94 L136.80,223.81 L137.30,223.67 L137.80,223.54 L138.30,223.40 L138.80,223.27 L139.30,223.14 L139.80,223.01 L140.30,222.89 L140.80,222.77 L141.30,222.65 L141.80,222.54 L142.30,222.43 L142.80,222.33 L143.30,222.24 L143.80,222.16 L144.30,222.08 L144.80,222.01 L145.30,221.95 L145.80,221.90 L146.30,221.86 L146.80,221.83 L147.30,221.81 L147.80,221.80 L148.30,221.80 L148.80,221.81 L149.30,221.84 L149.80,221.87 L150.30,221.91 L150.80,221.96 L151.30,222.02 L151.80,222.09 L152.30,222.17 L152.80,222.26 L153.30,222.35 L153.80,222.45 L154.30,222.56 L154.80,222.67 L155.30,222.79 L155.80,222.91 L156.30,223.04 L156.80,223.17 L157.30,223.30 L157.80,223.43 L158.30,223.56 L158.80,223.70 L159.30,223.83 L159.80,223.97 L160.30,224.10 L160.80,224.24 L161.30,224.37 L161.80,224.50 L162.30,224.63 L162.80,224.75 L163.30,224.88 L163.80,225.00 L164.30,225.11 L164.80,225.23 L165.30,225.34 L165.80,225.44 L166.30,225.55 L166.80,225.65 L167.30,225.74 L167.80,225.83 L168.30,225.92 L168.80,226.00 L169.30,226.08 L169.80,226.16 L170.30,226.23 L170.80,226.30 L171.30,226.36 L171.80,226.42 L172.30,226.48 L172.80,226.53 L173.30,226.58 L173.80,226.63 L174.30,226.68 L174.80,226.72 L175.30,226.76 L175.80,226.79 L176.30,226.82 L176.80,226.86 L177.30,226.88 L177.80,226.91 L178.30,226.94 L178.80,226.96 L179.30,226.98 L179.80,227.00 L180.30,227.02 L180.80,227.03 L181.30,227.05 L181.80,227.06 L182.30,227.07 L182.80,227.09 L183.30,227.10 L183.80,227.11 L184.30,227.12 L184.80,227.12 L185.30,227.13 L185.80,227.14 L186.30,227.15 L186.80,227.15 L187.30,227.16 L187.80,227.16 L188.30,227.17 L188.80,227.17 L189.30,227.18 L189.80,227.18 L190.30,227.18 L190.80,227.19 L191.30,227.19 L191.80,227.19 L192.30,227.20 L192.80,227.20 L193.30,227.20 L193.80,227.20 L194.30,227.21 L194.80,227.21 L195.30,227.21 L195.80,227.21 L196.30,227.21 L196.80,227.22 L197.30,227.22 L197.80,227.22 L198.30,227.22 L198.80,227.22 L199.30,227.22 L199.80,227.22 L200.30,227.23 L200.80,227.23 L201.30,227.23 L201.80,227.23 L202.30,227.23 L202.80,227.23 L203.30,227.23 L203.80,227.23 L204.30,227.24 L204.80,227.24 L205.30,227.24 L205.80,227.24 L206.30,227.24 L206.80,227.24 L207.30,227.24 L207.80,227.24 L208.30,227.24 L208.80,227.24 L209.30,227.25 L209.80,227.25 L210.30,227.25 L210.80,227.25 L211.30,227.25 L211.80,227.25 L212.30,227.25 L212.80,227.25 L213.30,227.25 L213.80,227.25 L214.30,227.25 L214.80,227.25 L215.30,227.25 L215.80,227.26 L216.30,227.26 L216.80,227.26 L217.30,227.26 L217.80,227.26 L218.30,227.26 L218.80,227.26 L219.30,227.26 L219.80,227.26 L220.30,227.26 L220.80,227.26 L221.30,227.26 L221.80,227.26 L222.30,227.26 L222.80,227.26 L223.30,227.26 L223.80,227.26 L224.30,227.26 L224.80,227.26 L225.30,227.27 L225.80,227.27 L226.30,227.27 L226.80,227.27 L227.30,227.27 L227.80,227.27 L228.30,227.27 L228.80,227.27 L229.30,227.27 L229.80,227.27 L230.30,227.27 L230.80,227.27 L231.30,227.27 L231.80,227.27" fill="none" stroke="#1a5a2a" stroke-width="1.2"/>
<path d="M33.30,227.22 L33.80,227.22 L34.30,227.22 L34.80,227.22 L35.30,227.22 L35.80,227.22 L36.30,227.22 L36.80,227.22 L37.30,227.22 L37.80,227.22 L38.30,227.21 L38.80,227.21 L39.30,227.21 L39.80,227.21 L40.30,227.21 L40.80,227.21 L41.30,227.21 L41.80,227.21 L42.30,227.21 L42.80,227.21 L43.30,227.21 L43.80,227.21 L44.30,227.21 L44.80,227.21 L45.30,227.21 L45.80,227.20 L46.30,227.20 L46.80,227.20 L47.30,227.20 L47.80,227.20 L48.30,227.20 L48.80,227.20 L49.30,227.20 L49.80,227.20 L50.30,227.20 L50.80,227.20 L51.30,227.20 L51.80,227.20 L52.30,227.20 L52.80,227.19 L53.30,227.19 L53.80,227.19 L54.30,227.19 L54.80,227.19 L55.30,227.19 L55.80,227.19 L56.30,227.19 L56.80,227.19 L57.30,227.19 L57.80,227.19 L58.30,227.18 L58.80,227.18 L59.30,227.18 L59.80,227.18 L60.30,227.18 L60.80,227.18 L61.30,227.18 L61.80,227.18 L62.30,227.18 L62.80,227.18 L63.30,227.17 L63.80,227.17 L64.30,227.17 L64.80,227.17 L65.30,227.17 L65.80,227.17 L66.30,227.17 L66.80,227.17 L67.30,227.17 L67.80,227.16 L68.30,227.16 L68.80,227.16 L69.30,227.16 L69.80,227.16 L70.30,227.16 L70.80,227.16 L71.30,227.16 L71.80,227.16 L72.30,227.15 L72.80,227.15 L73.30,227.15 L73.80,227.15 L74.30,227.15 L74.80,227.15 L75.30,227.15 L75.80,227.14 L76.30,227.14 L76.80,227.14 L77.30,227.14 L77.80,227.14 L78.30,227.14 L78.80,227.13 L79.30,227.13 L79.80,227.13 L80.30,227.13 L80.80,227.13 L81.30,227.13 L81.80,227.13 L82.30,227.12 L82.80,227.12 L83.30,227.12 L83.80,227.12 L84.30,227.12 L84.80,227.11 L85.30,227.11 L85.80,227.11 L86.30,227.11 L86.80,227.11 L87.30,227.10 L87.80,227.10 L88.30,227.10 L88.80,227.10 L89.30,227.10 L89.80,227.09 L90.30,227.09 L90.80,227.09 L91.30,227.09 L91.80,227.08 L92.30,227.08 L92.80,227.08 L93.30,227.08 L93.80,227.07 L94.30,227.07 L94.80,227.07 L95.30,227.07 L95.80,227.06 L96.30,227.06 L96.80,227.06 L97.30,227.06 L97.80,227.05 L98.30,227.05 L98.80,227.05 L99.30,227.04 L99.80,227.04 L100.30,227.04 L100.80,227.03 L101.30,227.03 L101.80,227.03 L102.30,227.03 L102.80,227.02 L103.30,227.02 L103.80,227.01 L104.30,227.01 L104.80,227.01 L105.30,227.00 L105.80,227.00 L106.30,227.00 L106.80,226.99 L107.30,226.99 L107.80,226.98 L108.30,226.98 L108.80,226.98 L109.30,226.97 L109.80,226.97 L110.30,226.96 L110.80,226.96 L111.30,226.95 L111.80,226.95 L112.30,226.94 L112.80,226.94 L113.30,226.93 L113.80,226.93 L114.30,226.92 L114.80,226.92 L115.30,226.91 L115.80,226.90 L116.30,226.90 L116.80,226.89 L117.30,226.89 L117.80,226.88 L118.30,226.87 L118.80,226.87 L119.30,226.86 L119.80,226.85 L120.30,226.85 L120.80,226.84 L121.30,226.83 L121.80,226.82 L122.30,226.82 L122.80,226.81 L123.30,226.80 L123.80,226.79 L124.30,226.78 L124.80,226.77 L125.30,226.76 L125.80,226.76 L126.30,226.75 L126.80,226.74 L127.30,226.73 L127.80,226.72 L128.30,226.71 L128.80,226.69 L129.30,226.68 L129.80,226.67 L130.30,226.66 L130.80,226.65 L131.30,226.64 L131.80,226.62 L132.30,226.61 L132.80,226.60 L133.30,226.58 L133.80,226.57 L134.30,226.55 L134.80,226.54 L135.30,226.52 L135.80,226.51 L136.30,226.49 L136.80,226.47 L137.30,226.45 L137.80,226.44 L138.30,226.42 L138.80,226.40 L139.30,226.38 L139.80,226.36 L140.30,226.33 L140.80,226.31 L141.30,226.29 L141.80,226.26 L142.30,226.24 L142.80,226.21 L143.30,226.19 L143.80,226.16 L144.30,226.13 L144.80,226.10 L145.30,226.07 L145.80,226.04 L146.30,226.01 L146.80,225.97 L147.30,225.93 L147.80,225.90 L148.30,225.86 L148.80,225.82 L149.30,225.77 L149.80,225.73 L150.30,225.68 L150.80,225.63 L151.30,225.58 L151.80,225.53 L152.30,225.47 L152.80,225.41 L153.30,225.35 L153.80,225.28 L154.30,225.21 L154.80,225.13 L155.30,225.05 L155.80,224.96 L156.30,224.86 L156.80,224.76 L157.30,224.65 L157.80,224.53 L158.30,224.40 L158.80,224.25 L159.30,224.10 L159.80,223.92 L160.30,223.74 L160.80,223.53 L161.30,223.30 L161.80,223.05 L162.30,222.77 L162.80,222.47 L163.30,222.14 L163.80,221.77 L164.30,221.36 L164.80,220.92 L165.30,220.43 L165.80,219.90 L166.30,219.32 L166.80,218.69 L167.30,218.01 L167.80,217.27 L168.30,216.47 L168.80,215.61 L169.30,214.68 L169.80,213.69 L170.30,212.64 L170.80,211.53 L171.30,210.35 L171.80,209.11 L172.30,207.81 L172.80,206.45 L173.30,205.05 L173.80,203.59 L174.30,202.10 L174.80,200.57 L175.30,199.03 L175.80,197.47 L176.30,195.92 L176.80,194.38 L177.30,192.88 L177.80,191.42 L178.30,190.05 L178.80,188.76 L179.30,187.59 L179.80,186.55 L180.30,185.68 L180.80,184.98 L181.30,184.48 L181.80,184.18 L182.30,184.10 L182.80,184.24 L183.30,184.58 L183.80,185.13 L184.30,185.87 L184.80,186.79 L185.30,187.86 L185.80,189.06 L186.30,190.37 L186.80,191.77 L187.30,193.23 L187.80,194.75 L188.30,196.29 L188.80,197.85 L189.30,199.40 L189.80,200.94 L190.30,202.46 L190.80,203.95 L191.30,205.39 L191.80,206.78 L192.30,208.13 L192.80,209.41 L193.30,210.64 L193.80,211.80 L194.30,212.90 L194.80,213.94 L195.30,214.91 L195.80,215.82 L196.30,216.66 L196.80,217.45 L197.30,218.18 L197.80,218.85 L198.30,219.47 L198.80,220.03 L199.30,220.55 L199.80,221.03 L200.30,221.46 L200.80,221.86 L201.30,222.22 L201.80,222.55 L202.30,222.84 L202.80,223.11 L203.30,223.36 L203.80,223.58 L204.30,223.78 L204.80,223.97 L205.30,224.13 L205.80,224.29 L206.30,224.43 L206.80,224.56 L207.30,224.68 L207.80,224.79 L208.30,224.89 L208.80,224.98 L209.30,225.07 L209.80,225.15 L210.30,225.22 L210.80,225.30 L211.30,225.36 L211.80,225.43 L212.30,225.48 L212.80,225.54 L213.30,225.60 L213.80,225.65 L214.30,225.69 L214.80,225.74 L215.30,225.79 L215.80,225.83 L216.30,225.87 L216.80,225.91 L217.30,225.94 L217.80,225.98 L218.30,226.01 L218.80,226.05 L219.30,226.08 L219.80,226.11 L220.30,226.14 L220.80,226.17 L221.30,226.19 L221.80,226.22 L222.30,226.25 L222.80,226.27 L223.30,226.29 L223.80,226.32 L224.30,226.34 L224.80,226.36 L225.30,226.38 L225.80,226.40 L226.30,226.42 L226.80,226.44 L227.30,226.46 L227.80,226.48 L228.30,226.49 L228.80,226.51 L229.30,226.53 L229.80,226.54 L230.30,226.56 L230.80,226.57 L231.30,226.59 L231.80,226.60" fill="none" stroke="#d3283a" stroke-width="1.2"/>
<path d="M33.30,227.25 L33.80,227.25 L34.30,227.25 L34.80,227.25 L35.30,227.25 L35.80,227.25 L36.30,227.25 L36.80,227.25 L37.30,227.25 L37.80,227.25 L38.30,227.25 L38.80,227.25 L39.30,227.25 L39.80,227.25 L40.30,227.25 L40.80,227.25 L41.30,227.25 L41.80,227.24 L42.30,227.24 L42.80,227.24 L43.30,227.24 L43.80,227.24 L44.30,227.24 L44.80,227.24 L45.30,227.24 L45.80,227.24 L46.30,227.24 L46.80,227.24 L47.30,227.24 L47.80,227.24 L48.30,227.24 L48.80,227.24 L49.30,227.24 L49.80,227.24 L50.30,227.24 L50.80,227.24 L51.30,227.24 L51.80,227.24 L52.30,227.24 L52.80,227.24 L53.30,227.24 L53.80,227.24 L54.30,227.23 L54.80,227.23 L55.30,227.23 L55.80,227.23 L56.30,227.23 L56.80,227.23 L57.30,227.23 L57.80,227.23 L58.30,227.23 L58.80,227.23 L59.30,227.23 L59.80,227.23 L60.30,227.23 L60.80,227.23 L61.30,227.23 L61.80,227.23 L62.30,227.23 L62.80,227.23 L63.30,227.23 L63.80,227.23 L64.30,227.23 L64.80,227.22 L65.30,227.22 L65.80,227.22 L66.30,227.22 L66.80,227.22 L67.30,227.22 L67.80,227.22 L68.30,227.22 L68.80,227.22 L69.30,227.22 L69.80,227.22 L70.30,227.22 L70.80,227.22 L71.30,227.22 L71.80,227.22 L72.30,227.22 L72.80,227.21 L73.30,227.21 L73.80,227.21 L74.30,227.21 L74.80,227.21 L75.30,227.21 L75.80,227.21 L76.30,227.21 L76.80,227.21 L77.30,227.21 L77.80,227.21 L78.30,227.21 L78.80,227.21 L79.30,227.21 L79.80,227.20 L80.30,227.20 L80.80,227.20 L81.30,227.20 L81.80,227.20 L82.30,227.20 L82.80,227.20 L83.30,227.20 L83.80,227.20 L84.30,227.20 L84.80,227.20 L85.30,227.20 L85.80,227.19 L86.30,227.19 L86.80,227.19 L87.30,227.19 L87.80,227.19 L88.30,227.19 L88.80,227.19 L89.30,227.19 L89.80,227.19 L90.30,227.19 L90.80,227.18 L91.30,227.18 L91.80,227.18 L92.30,227.18 L92.80,227.18 L93.30,227.18 L93.80,227.18 L94.30,227.18 L94.80,227.18 L95.30,227.18 L95.80,227.17 L96.30,227.17 L96.80,227.17 L97.30,227.17 L97.80,227.17 L98.30,227.17 L98.80,227.17 L99.30,227.17 L99.80,227.16 L100.30,227.16 L100.80,227.16 L101.30,227.16 L101.80,227.16 L102.30,227.16 L102.80,227.16 L103.30,227.15 L103.80,227.15 L104.30,227.15 L104.80,227.15 L105.30,227.15 L105.80,227.15 L106.30,227.14 L106.80,227.14 L107.30,227.14 L107.80,227.14 L108.30,227.14 L108.80,227.14 L109.30,227.13 L109.80,227.13 L110.30,227.13 L110.80,227.13 L111.30,227.13 L111.80,227.12 L112.30,227.12 L112.80,227.12 L113.30,227.12 L113.80,227.12 L114.30,227.11 L114.80,227.11 L115.30,227.11 L115.80,227.11 L116.30,227.11 L116.80,227.10 L117.30,227.10 L117.80,227.10 L118.30,227.10 L118.80,227.09 L119.30,227.09 L119.80,227.09 L120.30,227.09 L120.80,227.08 L121.30,227.08 L121.80,227.08 L122.30,227.08 L122.80,227.07 L123.30,227.07 L123.80,227.07 L124.30,227.06 L124.80,227.06 L125.30,227.06 L125.80,227.05 L126.30,227.05 L126.80,227.05 L127.30,227.04 L127.80,227.04 L128.30,227.04 L128.80,227.03 L129.30,227.03 L129.80,227.03 L130.30,227.02 L130.80,227.02 L131.30,227.01 L131.80,227.01 L132.30,227.01 L132.80,227.00 L133.30,227.00 L133.80,226.99 L134.30,226.99 L134.80,226.98 L135.30,226.98 L135.80,226.97 L136.30,226.97 L136.80,226.96 L137.30,226.96 L137.80,226.95 L138.30,226.95 L138.80,226.94 L139.30,226.94 L139.80,226.93 L140.30,226.93 L140.80,226.92 L141.30,226.91 L141.80,226.91 L142.30,226.90 L142.80,226.89 L143.30,226.89 L143.80,226.88 L144.30,226.87 L144.80,226.86 L145.30,226.86 L145.80,226.85 L146.30,226.84 L146.80,226.83 L147.30,226.82 L147.80,226.81 L148.30,226.81 L148.80,226.80 L149.30,226.79 L149.80,226.78 L150.30,226.77 L150.80,226.76 L151.30,226.74 L151.80,226.73 L152.30,226.72 L152.80,226.71 L153.30,226.70 L153.80,226.69 L154.30,226.67 L154.80,226.66 L155.30,226.65 L155.80,226.63 L156.30,226.62 L156.80,226.60 L157.30,226.59 L157.80,226.57 L158.30,226.55 L158.80,226.54 L159.30,226.52 L159.80,226.50 L160.30,226.48 L160.80,226.46 L161.30,226.44 L161.80,226.42 L162.30,226.40 L162.80,226.37 L163.30,226.35 L163.80,226.32 L164.30,226.30 L164.80,226.27 L165.30,226.24 L165.80,226.21 L166.30,226.18 L166.80,226.15 L167.30,226.12 L167.80,226.08 L168.30,226.05 L168.80,226.01 L169.30,225.97 L169.80,225.93 L170.30,225.89 L170.80,225.84 L171.30,225.80 L171.80,225.75 L172.30,225.70 L172.80,225.64 L173.30,225.58 L173.80,225.52 L174.30,225.46 L174.80,225.39 L175.30,225.32 L175.80,225.25 L176.30,225.17 L176.80,225.09 L177.30,225.00 L177.80,224.91 L178.30,224.81 L178.80,224.70 L179.30,224.59 L179.80,224.47 L180.30,224.34 L180.80,224.20 L181.30,224.06 L181.80,223.90 L182.30,223.72 L182.80,223.53 L183.30,223.32 L183.80,223.09 L184.30,222.83 L184.80,222.54 L185.30,222.21 L185.80,221.84 L186.30,221.41 L186.80,220.92 L187.30,220.36 L187.80,219.71 L188.30,218.95 L188.80,218.07 L189.30,217.05 L189.80,215.87 L190.30,214.51 L190.80,212.95 L191.30,211.17 L191.80,209.15 L192.30,206.86 L192.80,204.31 L193.30,201.47 L193.80,198.34 L194.30,194.92 L194.80,191.23 L195.30,187.29 L195.80,183.11 L196.30,178.76 L196.80,174.28 L197.30,169.74 L197.80,165.25 L198.30,160.91 L198.80,156.84 L199.30,153.21 L199.80,150.15 L200.30,147.82 L200.80,146.34 L201.30,145.80 L201.80,146.18 L202.30,147.38 L202.80,149.35 L203.30,151.99 L203.80,155.19 L204.30,158.82 L204.80,162.75 L205.30,166.89 L205.80,171.11 L206.30,175.35 L206.80,179.52 L207.30,183.58 L207.80,187.47 L208.30,191.16 L208.80,194.62 L209.30,197.85 L209.80,200.82 L210.30,203.54 L210.80,206.02 L211.30,208.25 L211.80,210.25 L212.30,212.03 L212.80,213.60 L213.30,214.99 L213.80,216.21 L214.30,217.27 L214.80,218.20 L215.30,219.01 L215.80,219.71 L216.30,220.33 L216.80,220.86 L217.30,221.33 L217.80,221.74 L218.30,222.10 L218.80,222.42 L219.30,222.71 L219.80,222.96 L220.30,223.19 L220.80,223.40 L221.30,223.59 L221.80,223.76 L222.30,223.92 L222.80,224.07 L223.30,224.21 L223.80,224.34 L224.30,224.46 L224.80,224.57 L225.30,224.68 L225.80,224.78 L226.30,224.87 L226.80,224.96 L227.30,225.05 L227.80,225.13 L228.30,225.20 L228.80,225.27 L229.30,225.34 L229.80,225.41 L230.30,225.47 L230.80,225.53 L231.30,225.58 L231.80,225.64" fill="none" stroke="#d3283a" stroke-width="1.2"/>
<path d="M33.30,225.03 L33.80,225.00 L34.30,224.97 L34.80,224.94 L35.30,224.92 L35.80,224.89 L36.30,224.86 L36.80,224.83 L37.30,224.80 L37.80,224.77 L38.30,224.74 L38.80,224.72 L39.30,224.69 L39.80,224.66 L40.30,224.63 L40.80,224.60 L41.30,224.57 L41.80,224.53 L42.30,224.50 L42.80,224.47 L43.30,224.44 L43.80,224.41 L44.30,224.37 L44.80,224.34 L45.30,224.30 L45.80,224.27 L46.30,224.23 L46.80,224.19 L47.30,224.16 L47.80,224.12 L48.30,224.08 L48.80,224.04 L49.30,223.99 L49.80,223.95 L50.30,223.91 L50.80,223.86 L51.30,223.81 L51.80,223.76 L52.30,223.71 L52.80,223.66 L53.30,223.61 L53.80,223.55 L54.30,223.49 L54.80,223.43 L55.30,223.37 L55.80,223.30 L56.30,223.24 L56.80,223.16 L57.30,223.09 L57.80,223.02 L58.30,222.94 L58.80,222.85 L59.30,222.77 L59.80,222.68 L60.30,222.59 L60.80,222.49 L61.30,222.39 L61.80,222.28 L62.30,222.17 L62.80,222.06 L63.30,221.94 L63.80,221.82 L64.30,221.69 L64.80,221.56 L65.30,221.42 L65.80,221.28 L66.30,221.13 L66.80,220.98 L67.30,220.82 L67.80,220.66 L68.30,220.48 L68.80,220.31 L69.30,220.12 L69.80,219.93 L70.30,219.74 L70.80,219.54 L71.30,219.33 L71.80,219.11 L72.30,218.89 L72.80,218.66 L73.30,218.42 L73.80,218.18 L74.30,217.93 L74.80,217.67 L75.30,217.41 L75.80,217.14 L76.30,216.86 L76.80,216.58 L77.30,216.28 L77.80,215.98 L78.30,215.68 L78.80,215.37 L79.30,215.05 L79.80,214.72 L80.30,214.39 L80.80,214.05 L81.30,213.70 L81.80,213.35 L82.30,212.99 L82.80,212.63 L83.30,212.26 L83.80,211.89 L84.30,211.51 L84.80,211.12 L85.30,210.73 L85.80,210.34 L86.30,209.94 L86.80,209.54 L87.30,209.14 L87.80,208.73 L88.30,208.32 L88.80,207.91 L89.30,207.49 L89.80,207.08 L90.30,206.66 L90.80,206.25 L91.30,205.83 L91.80,205.42 L92.30,205.00 L92.80,204.59 L93.30,204.18 L93.80,203.77 L94.30,203.37 L94.80,202.97 L95.30,202.57 L95.80,202.18 L96.30,201.80 L96.80,201.42 L97.30,201.05 L97.80,200.69 L98.30,200.33 L98.80,199.99 L99.30,199.65 L99.80,199.33 L100.30,199.01 L100.80,198.71 L101.30,198.41 L101.80,198.14 L102.30,197.87 L102.80,197.61 L103.30,197.37 L103.80,197.15 L104.30,196.94 L104.80,196.76 L105.30,196.58 L105.80,196.43 L106.30,196.30 L106.80,196.18 L107.30,196.09 L107.80,196.01 L108.30,195.95 L108.80,195.91 L109.30,195.88 L109.80,195.88 L110.30,195.89 L110.80,195.92 L111.30,195.97 L111.80,196.03 L112.30,196.11 L112.80,196.21 L113.30,196.33 L113.80,196.46 L114.30,196.60 L114.80,196.77 L115.30,196.94 L115.80,197.13 L116.30,197.34 L116.80,197.56 L117.30,197.80 L117.80,198.04 L118.30,198.30 L118.80,198.58 L119.30,198.86 L119.80,199.16 L120.30,199.47 L120.80,199.78 L121.30,200.11 L121.80,200.45 L122.30,200.79 L122.80,201.14 L123.30,201.50 L123.80,201.86 L124.30,202.23 L124.80,202.60 L125.30,202.97 L125.80,203.35 L126.30,203.73 L126.80,204.11 L127.30,204.49 L127.80,204.86 L128.30,205.24 L128.80,205.61 L129.30,205.98 L129.80,206.34 L130.30,206.70 L130.80,207.06 L131.30,207.41 L131.80,207.75 L132.30,208.08 L132.80,208.41 L133.30,208.73 L133.80,209.04 L134.30,209.35 L134.80,209.64 L135.30,209.93 L135.80,210.21 L136.30,210.48 L136.80,210.74 L137.30,210.99 L137.80,211.24 L138.30,211.48 L138.80,211.71 L139.30,211.93 L139.80,212.14 L140.30,212.35 L140.80,212.55 L141.30,212.75 L141.80,212.94 L142.30,213.13 L142.80,213.31 L143.30,213.49 L143.80,213.67 L144.30,213.84 L144.80,214.01 L145.30,214.18 L145.80,214.35 L146.30,214.52 L146.80,214.68 L147.30,214.85 L147.80,215.02 L148.30,215.19 L148.80,215.35 L149.30,215.52 L149.80,215.69 L150.30,215.86 L150.80,216.03 L151.30,216.19 L151.80,216.36 L152.30,216.52 L152.80,216.68 L153.30,216.84 L153.80,216.99 L154.30,217.14 L154.80,217.28 L155.30,217.42 L155.80,217.54 L156.30,217.66 L156.80,217.77 L157.30,217.87 L157.80,217.95 L158.30,218.02 L158.80,218.08 L159.30,218.11 L159.80,218.13 L160.30,218.12 L160.80,218.09 L161.30,218.04 L161.80,217.95 L162.30,217.84 L162.80,217.69 L163.30,217.50 L163.80,217.27 L164.30,217.00 L164.80,216.69 L165.30,216.32 L165.80,215.91 L166.30,215.43 L166.80,214.90 L167.30,214.31 L167.80,213.66 L168.30,212.93 L168.80,212.14 L169.30,211.29 L169.80,210.36 L170.30,209.36 L170.80,208.29 L171.30,207.14 L171.80,205.93 L172.30,204.66 L172.80,203.32 L173.30,201.92 L173.80,200.47 L174.30,198.97 L174.80,197.43 L175.30,195.87 L175.80,194.29 L176.30,192.70 L176.80,191.12 L177.30,189.57 L177.80,188.06 L178.30,186.62 L178.80,185.26 L179.30,184.01 L179.80,182.88 L180.30,181.91 L180.80,181.10 L181.30,180.47 L181.80,180.03 L182.30,179.80 L182.80,179.76 L183.30,179.91 L183.80,180.25 L184.30,180.75 L184.80,181.39 L185.30,182.14 L185.80,182.98 L186.30,183.88 L186.80,184.80 L187.30,185.72 L187.80,186.59 L188.30,187.38 L188.80,188.07 L189.30,188.62 L189.80,188.99 L190.30,189.16 L190.80,189.09 L191.30,188.76 L191.80,188.14 L192.30,187.20 L192.80,185.94 L193.30,184.33 L193.80,182.37 L194.30,180.07 L194.80,177.42 L195.30,174.45 L195.80,171.19 L196.30,167.69 L196.80,164.00 L197.30,160.20 L197.80,156.38 L198.30,152.66 L198.80,149.17 L199.30,146.06 L199.80,143.49 L200.30,141.59 L200.80,140.52 L201.30,140.34 L201.80,141.04 L202.30,142.55 L202.80,144.79 L203.30,147.68 L203.80,151.11 L204.30,154.94 L204.80,159.07 L205.30,163.37 L205.80,167.76 L206.30,172.14 L206.80,176.45 L207.30,180.62 L207.80,184.62 L208.30,188.42 L208.80,191.98 L209.30,195.29 L209.80,198.35 L210.30,201.16 L210.80,203.70 L211.30,206.01 L211.80,208.07 L212.30,209.91 L212.80,211.55 L213.30,212.99 L213.80,214.26 L214.30,215.38 L214.80,216.36 L215.30,217.22 L215.80,217.96 L216.30,218.62 L216.80,219.20 L217.30,219.70 L217.80,220.15 L218.30,220.55 L218.80,220.91 L219.30,221.22 L219.80,221.51 L220.30,221.77 L220.80,222.01 L221.30,222.23 L221.80,222.44 L222.30,222.63 L222.80,222.80 L223.30,222.97 L223.80,223.12 L224.30,223.26 L224.80,223.40 L225.30,223.53 L225.80,223.65 L226.30,223.77 L226.80,223.88 L227.30,223.98 L227.80,224.08 L228.30,224.18 L228.80,224.27 L229.30,224.35 L229.80,224.44 L230.30,224.51 L230.80,224.59 L231.30,224.66 L231.80,224.73" fill="none" stroke="#3fbdb6" stroke-width="1.5"/>
<path d="M33.30,227.30 L33.80,227.30 L34.30,227.30 L34.80,227.30 L35.30,227.30 L35.80,227.30 L36.30,227.30 L36.80,227.30 L37.30,227.30 L37.80,227.30 L38.30,227.30 L38.80,227.30 L39.30,227.30 L39.80,227.30 L40.30,227.30 L40.80,227.30 L41.30,227.30 L41.80,227.30 L42.30,227.30 L42.80,227.30 L43.30,227.30 L43.80,227.30 L44.30,227.30 L44.80,227.30 L45.30,227.30 L45.80,227.30 L46.30,227.30 L46.80,227.30 L47.30,227.30 L47.80,227.30 L48.30,227.30 L48.80,227.30 L49.30,227.30 L49.80,227.30 L50.30,227.30 L50.80,227.30 L51.30,227.30 L51.80,227.30 L52.30,227.30 L52.80,227.30 L53.30,227.30 L53.80,227.30 L54.30,227.30 L54.80,227.30 L55.30,227.30 L55.80,227.30 L56.30,227.30 L56.80,227.30 L57.30,227.30 L57.80,227.30 L58.30,227.30 L58.80,227.30 L59.30,227.30 L59.80,227.30 L60.30,227.30 L60.80,227.30 L61.30,227.30 L61.80,227.30 L62.30,227.30 L62.80,227.30 L63.30,227.30 L63.80,227.30 L64.30,227.30 L64.80,227.30 L65.30,227.30 L65.80,227.30 L66.30,227.30 L66.80,227.30 L67.30,227.30 L67.80,227.30 L68.30,227.30 L68.80,227.30 L69.30,227.30 L69.80,227.30 L70.30,227.30 L70.80,227.30 L71.30,227.30 L71.80,227.30 L72.30,227.30 L72.80,227.30 L73.30,227.30 L73.80,227.30 L74.30,227.30 L74.80,227.30 L75.30,227.30 L75.80,227.30 L76.30,227.30 L76.80,227.30 L77.30,227.30 L77.80,227.30 L78.30,227.30 L78.80,227.30 L79.30,227.30 L79.80,227.30 L80.30,227.30 L80.80,227.30 L81.30,227.30 L81.80,227.30 L82.30,227.30 L82.80,227.30 L83.30,227.30 L83.80,227.30 L84.30,227.30 L84.80,227.30 L85.30,227.30 L85.80,227.30 L86.30,227.30 L86.80,227.30 L87.30,227.30 L87.80,227.30 L88.30,227.30 L88.80,227.30 L89.30,227.30 L89.80,227.30 L90.30,227.30 L90.80,227.30 L91.30,227.30 L91.80,227.30 L92.30,227.30 L92.80,227.30 L93.30,227.30 L93.80,227.30 L94.30,227.30 L94.80,227.30 L95.30,227.30 L95.80,227.30 L96.30,227.30 L96.80,227.30 L97.30,227.30 L97.80,227.30 L98.30,227.30 L98.80,227.30 L99.30,227.30 L99.80,227.30 L100.30,227.30 L100.80,227.30 L101.30,227.30 L101.80,227.30 L102.30,227.30 L102.80,227.30 L103.30,227.30 L103.80,227.30 L104.30,227.30 L104.80,227.30 L105.30,227.30 L105.80,227.30 L106.30,227.30 L106.80,227.30 L107.30,227.30 L107.80,227.30 L108.30,227.30 L108.80,227.30 L109.30,227.30 L109.80,227.30 L110.30,227.30 L110.80,227.30 L111.30,227.30 L111.80,227.30 L112.30,227.30 L112.80,227.30 L113.30,227.30 L113.80,227.30 L114.30,227.30 L114.80,227.30 L115.30,227.30 L115.80,227.30 L116.30,227.30 L116.80,227.30 L117.30,227.30 L117.80,227.30 L118.30,227.30 L118.80,227.30 L119.30,227.30 L119.80,227.30 L120.30,227.30 L120.80,227.30 L121.30,227.30 L121.80,227.30 L122.30,227.30 L122.80,227.30 L123.30,227.30 L123.80,227.30 L124.30,227.30 L124.80,227.30 L125.30,227.30 L125.80,227.30 L126.30,227.30 L126.80,227.30 L127.30,227.30 L127.80,227.30 L128.30,227.30 L128.80,227.30 L129.30,227.30 L129.80,227.30 L130.30,227.30 L130.80,227.30 L131.30,227.30 L131.80,227.30 L132.30,227.30 L132.80,227.30 L133.30,227.30 L133.80,227.30 L134.30,227.30 L134.80,227.30 L135.30,227.30 L135.80,227.30 L136.30,227.30 L136.80,227.30 L137.30,227.30 L137.80,227.30 L138.30,227.30 L138.80,227.30 L139.30,227.30 L139.80,227.30 L140.30,227.30 L140.80,227.30 L141.30,227.30 L141.80,227.30 L142.30,227.30 L142.80,227.30 L143.30,227.30 L143.80,227.30 L144.30,227.30 L144.80,227.30 L145.30,227.30 L145.80,227.30 L146.30,227.30 L146.80,227.30 L147.30,227.30 L147.80,227.30 L148.30,227.30 L148.80,227.30 L149.30,227.30 L149.80,227.30 L150.30,227.30 L150.80,227.30 L151.30,227.30 L151.80,227.30 L152.30,227.30 L152.80,227.30 L153.30,227.30 L153.80,227.30 L154.30,227.30 L154.80,227.30 L155.30,227.30 L155.80,227.30 L156.30,227.30 L156.80,227.30 L157.30,227.30 L157.80,227.30 L158.30,227.30 L158.80,227.30 L159.30,227.30 L159.80,227.30 L160.30,227.30 L160.80,227.30 L161.30,227.30 L161.80,227.30 L162.30,227.30 L162.80,227.30 L163.30,227.30 L163.80,227.30 L164.30,227.30 L164.80,227.30 L165.30,227.30 L165.80,227.30 L166.30,227.30 L166.80,227.30 L167.30,227.30 L167.80,227.30 L168.30,227.30 L168.80,227.30 L169.30,227.30 L169.80,227.30 L170.30,227.30 L170.80,227.30 L171.30,227.30 L171.80,227.30 L172.30,227.30 L172.80,227.30 L173.30,227.30 L173.80,227.30 L174.30,227.30 L174.80,227.30 L175.30,227.30 L175.80,227.30 L176.30,227.30 L176.80,227.30 L177.30,227.30 L177.80,227.30 L178.30,227.30 L178.80,227.30 L179.30,227.30 L179.80,227.30 L180.30,227.30 L180.80,227.30 L181.30,227.30 L181.80,227.30 L182.30,227.30 L182.80,227.30 L183.30,227.30 L183.80,227.30 L184.30,227.30 L184.80,227.30 L185.30,227.30 L185.80,227.30 L186.30,227.30 L186.80,227.30 L187.30,227.30 L187.80,227.30 L188.30,227.30 L188.80,227.30 L189.30,227.30 L189.80,227.30 L190.30,227.30 L190.80,227.30 L191.30,227.30 L191.80,227.30 L192.30,227.30 L192.80,227.30 L193.30,227.30 L193.80,227.30 L194.30,227.30 L194.80,227.30 L195.30,227.30 L195.80,227.30 L196.30,227.30 L196.80,227.30 L197.30,227.30 L197.80,227.30 L198.30,227.30 L198.80,227.30 L199.30,227.30 L199.80,227.30 L200.30,227.30 L200.80,227.30 L201.30,227.30 L201.80,227.30 L202.30,227.30 L202.80,227.30 L203.30,227.30 L203.80,227.30 L204.30,227.30 L204.80,227.30 L205.30,227.30 L205.80,227.30 L206.30,227.30 L206.80,227.30 L207.30,227.30 L207.80,227.30 L208.30,227.30 L208.80,227.30 L209.30,227.30 L209.80,227.30 L210.30,227.30 L210.80,227.30 L211.30,227.30 L211.80,227.30 L212.30,227.30 L212.80,227.30 L213.30,227.30 L213.80,227.30 L214.30,227.30 L214.80,227.30 L215.30,227.30 L215.80,227.30 L216.30,227.30 L216.80,227.30 L217.30,227.30 L217.80,227.30 L218.30,227.30 L218.80,227.30 L219.30,227.30 L219.80,227.30 L220.30,227.30 L220.80,227.30 L221.30,227.30 L221.80,227.30 L222.30,227.30 L222.80,227.30 L223.30,227.30 L223.80,227.30 L224.30,227.30 L224.80,227.30 L225.30,227.30 L225.80,227.30 L226.30,227.30 L226.80,227.30 L227.30,227.30 L227.80,227.30 L228.30,227.30 L228.80,227.30 L229.30,227.30 L229.80,227.30 L230.30,227.30 L230.80,227.30 L231.30,227.30 L231.80,227.30" fill="none" stroke="#d3283a" stroke-width="1.2"/>
<path d="M33.30,337.00 L33.80,337.00 L34.30,337.00 L34.80,337.00 L35.30,337.00 L35.80,337.00 L36.30,337.00 L36.80,337.00 L37.30,336.99 L37.80,336.99 L38.30,336.99 L38.80,336.99 L39.30,336.99 L39.80,336.99 L40.30,336.99 L40.80,336.98 L41.30,336.98 L41.80,336.98 L42.30,336.98 L42.80,336.98 L43.30,336.98 L43.80,336.97 L44.30,336.97 L44.80,336.97 L45.30,336.97 L45.80,336.97 L46.30,336.96 L46.80,336.96 L47.30,336.96 L47.80,336.96 L48.30,336.95 L48.80,336.95 L49.30,336.95 L49.80,336.94 L50.30,336.94 L50.80,336.94 L51.30,336.94 L51.80,336.93 L52.30,336.93 L52.80,336.92 L53.30,336.92 L53.80,336.92 L54.30,336.91 L54.80,336.91 L55.30,336.90 L55.80,336.90 L56.30,336.89 L56.80,336.88 L57.30,336.88 L57.80,336.87 L58.30,336.86 L58.80,336.86 L59.30,336.85 L59.80,336.84 L60.30,336.83 L60.80,336.82 L61.30,336.81 L61.80,336.80 L62.30,336.79 L62.80,336.78 L63.30,336.77 L63.80,336.75 L64.30,336.74 L64.80,336.73 L65.30,336.71 L65.80,336.69 L66.30,336.67 L66.80,336.66 L67.30,336.64 L67.80,336.62 L68.30,336.59 L68.80,336.57 L69.30,336.54 L69.80,336.52 L70.30,336.49 L70.80,336.46 L71.30,336.43 L71.80,336.40 L72.30,336.36 L72.80,336.33 L73.30,336.29 L73.80,336.25 L74.30,336.21 L74.80,336.17 L75.30,336.12 L75.80,336.07 L76.30,336.02 L76.80,335.97 L77.30,335.91 L77.80,335.86 L78.30,335.80 L78.80,335.74 L79.30,335.67 L79.80,335.60 L80.30,335.53 L80.80,335.46 L81.30,335.39 L81.80,335.31 L82.30,335.23 L82.80,335.14 L83.30,335.06 L83.80,334.97 L84.30,334.88 L84.80,334.78 L85.30,334.69 L85.80,334.59 L86.30,334.48 L86.80,334.38 L87.30,334.27 L87.80,334.16 L88.30,334.05 L88.80,333.93 L89.30,333.82 L89.80,333.70 L90.30,333.58 L90.80,333.45 L91.30,333.33 L91.80,333.20 L92.30,333.07 L92.80,332.94 L93.30,332.81 L93.80,332.68 L94.30,332.55 L94.80,332.41 L95.30,332.28 L95.80,332.14 L96.30,332.01 L96.80,331.88 L97.30,331.74 L97.80,331.61 L98.30,331.48 L98.80,331.35 L99.30,331.22 L99.80,331.09 L100.30,330.97 L100.80,330.84 L101.30,330.72 L101.80,330.60 L102.30,330.49 L102.80,330.38 L103.30,330.27 L103.80,330.17 L104.30,330.07 L104.80,329.98 L105.30,329.89 L105.80,329.81 L106.30,329.73 L106.80,329.66 L107.30,329.59 L107.80,329.53 L108.30,329.48 L108.80,329.43 L109.30,329.39 L109.80,329.36 L110.30,329.33 L110.80,329.31 L111.30,329.30 L111.80,329.30 L112.30,329.30 L112.80,329.31 L113.30,329.33 L113.80,329.36 L114.30,329.39 L114.80,329.43 L115.30,329.48 L115.80,329.53 L116.30,329.59 L116.80,329.66 L117.30,329.73 L117.80,329.81 L118.30,329.89 L118.80,329.98 L119.30,330.07 L119.80,330.17 L120.30,330.27 L120.80,330.38 L121.30,330.49 L121.80,330.60 L122.30,330.72 L122.80,330.84 L123.30,330.97 L123.80,331.09 L124.30,331.22 L124.80,331.35 L125.30,331.48 L125.80,331.61 L126.30,331.74 L126.80,331.88 L127.30,332.01 L127.80,332.14 L128.30,332.28 L128.80,332.41 L129.30,332.55 L129.80,332.68 L130.30,332.81 L130.80,332.94 L131.30,333.07 L131.80,333.20 L132.30,333.33 L132.80,333.45 L133.30,333.58 L133.80,333.70 L134.30,333.82 L134.80,333.93 L135.30,334.05 L135.80,334.16 L136.30,334.27 L136.80,334.38 L137.30,334.48 L137.80,334.59 L138.30,334.69 L138.80,334.78 L139.30,334.88 L139.80,334.97 L140.30,335.06 L140.80,335.14 L141.30,335.23 L141.80,335.31 L142.30,335.39 L142.80,335.46 L143.30,335.53 L143.80,335.60 L144.30,335.67 L144.80,335.74 L145.30,335.80 L145.80,335.86 L146.30,335.91 L146.80,335.97 L147.30,336.02 L147.80,336.07 L148.30,336.12 L148.80,336.17 L149.30,336.21 L149.80,336.25 L150.30,336.29 L150.80,336.33 L151.30,336.36 L151.80,336.40 L152.30,336.43 L152.80,336.46 L153.30,336.49 L153.80,336.52 L154.30,336.54 L154.80,336.57 L155.30,336.59 L155.80,336.62 L156.30,336.64 L156.80,336.66 L157.30,336.67 L157.80,336.69 L158.30,336.71 L158.80,336.73 L159.30,336.74 L159.80,336.75 L160.30,336.77 L160.80,336.78 L161.30,336.79 L161.80,336.80 L162.30,336.81 L162.80,336.82 L163.30,336.83 L163.80,336.84 L164.30,336.85 L164.80,336.86 L165.30,336.86 L165.80,336.87 L166.30,336.88 L166.80,336.88 L167.30,336.89 L167.80,336.90 L168.30,336.90 L168.80,336.91 L169.30,336.91 L169.80,336.92 L170.30,336.92 L170.80,336.92 L171.30,336.93 L171.80,336.93 L172.30,336.94 L172.80,336.94 L173.30,336.94 L173.80,336.94 L174.30,336.95 L174.80,336.95 L175.30,336.95 L175.80,336.96 L176.30,336.96 L176.80,336.96 L177.30,336.96 L177.80,336.97 L178.30,336.97 L178.80,336.97 L179.30,336.97 L179.80,336.97 L180.30,336.98 L180.80,336.98 L181.30,336.98 L181.80,336.98 L182.30,336.98 L182.80,336.98 L183.30,336.99 L183.80,336.99 L184.30,336.99 L184.80,336.99 L185.30,336.99 L185.80,336.99 L186.30,336.99 L186.80,337.00 L187.30,337.00 L187.80,337.00 L188.30,337.00 L188.80,337.00 L189.30,337.00 L189.80,337.00 L190.30,337.00 L190.80,337.01 L191.30,337.01 L191.80,337.01 L192.30,337.01 L192.80,337.01 L193.30,337.01 L193.80,337.01 L194.30,337.01 L194.80,337.01 L195.30,337.02 L195.80,337.02 L196.30,337.02 L196.80,337.02 L197.30,337.02 L197.80,337.02 L198.30,337.02 L198.80,337.02 L199.30,337.02 L199.80,337.02 L200.30,337.02 L200.80,337.03 L201.30,337.03 L201.80,337.03 L202.30,337.03 L202.80,337.03 L203.30,337.03 L203.80,337.03 L204.30,337.03 L204.80,337.03 L205.30,337.03 L205.80,337.03 L206.30,337.03 L206.80,337.03 L207.30,337.03 L207.80,337.04 L208.30,337.04 L208.80,337.04 L209.30,337.04 L209.80,337.04 L210.30,337.04 L210.80,337.04 L211.30,337.04 L211.80,337.04 L212.30,337.04 L212.80,337.04 L213.30,337.04 L213.80,337.04 L214.30,337.04 L214.80,337.04 L215.30,337.04 L215.80,337.04 L216.30,337.04 L216.80,337.05 L217.30,337.05 L217.80,337.05 L218.30,337.05 L218.80,337.05 L219.30,337.05 L219.80,337.05 L220.30,337.05 L220.80,337.05 L221.30,337.05 L221.80,337.05 L222.30,337.05 L222.80,337.05 L223.30,337.05 L223.80,337.05 L224.30,337.05 L224.80,337.05 L225.30,337.05 L225.80,337.05 L226.30,337.05 L226.80,337.05 L227.30,337.05 L227.80,337.05 L228.30,337.06 L228.80,337.06 L229.30,337.06 L229.80,337.06 L230.30,337.06 L230.80,337.06 L231.30,337.06 L231.80,337.06" fill="none" stroke="#2db43c" stroke-width="1.2"/>
<path d="M33.30,337.06 L33.80,337.06 L34.30,337.06 L34.80,337.06 L35.30,337.06 L35.80,337.06 L36.30,337.06 L36.80,337.06 L37.30,337.06 L37.80,337.06 L38.30,337.06 L38.80,337.06 L39.30,337.06 L39.80,337.06 L40.30,337.06 L40.80,337.06 L41.30,337.06 L41.80,337.06 L42.30,337.06 L42.80,337.05 L43.30,337.05 L43.80,337.05 L44.30,337.05 L44.80,337.05 L45.30,337.05 L45.80,337.05 L46.30,337.05 L46.80,337.05 L47.30,337.05 L47.80,337.05 L48.30,337.05 L48.80,337.05 L49.30,337.05 L49.80,337.05 L50.30,337.04 L50.80,337.04 L51.30,337.04 L51.80,337.04 L52.30,337.04 L52.80,337.04 L53.30,337.04 L53.80,337.04 L54.30,337.04 L54.80,337.04 L55.30,337.04 L55.80,337.04 L56.30,337.03 L56.80,337.03 L57.30,337.03 L57.80,337.03 L58.30,337.03 L58.80,337.03 L59.30,337.03 L59.80,337.03 L60.30,337.03 L60.80,337.02 L61.30,337.02 L61.80,337.02 L62.30,337.02 L62.80,337.02 L63.30,337.02 L63.80,337.02 L64.30,337.02 L64.80,337.01 L65.30,337.01 L65.80,337.01 L66.30,337.01 L66.80,337.01 L67.30,337.00 L67.80,337.00 L68.30,337.00 L68.80,337.00 L69.30,337.00 L69.80,336.99 L70.30,336.99 L70.80,336.99 L71.30,336.99 L71.80,336.98 L72.30,336.98 L72.80,336.98 L73.30,336.97 L73.80,336.97 L74.30,336.96 L74.80,336.96 L75.30,336.96 L75.80,336.95 L76.30,336.94 L76.80,336.94 L77.30,336.93 L77.80,336.93 L78.30,336.92 L78.80,336.91 L79.30,336.90 L79.80,336.89 L80.30,336.88 L80.80,336.87 L81.30,336.86 L81.80,336.85 L82.30,336.84 L82.80,336.82 L83.30,336.81 L83.80,336.79 L84.30,336.78 L84.80,336.76 L85.30,336.74 L85.80,336.72 L86.30,336.69 L86.80,336.67 L87.30,336.64 L87.80,336.62 L88.30,336.59 L88.80,336.56 L89.30,336.52 L89.80,336.49 L90.30,336.45 L90.80,336.41 L91.30,336.37 L91.80,336.32 L92.30,336.27 L92.80,336.22 L93.30,336.17 L93.80,336.12 L94.30,336.06 L94.80,336.00 L95.30,335.93 L95.80,335.86 L96.30,335.79 L96.80,335.72 L97.30,335.64 L97.80,335.57 L98.30,335.48 L98.80,335.40 L99.30,335.31 L99.80,335.22 L100.30,335.12 L100.80,335.03 L101.30,334.93 L101.80,334.83 L102.30,334.72 L102.80,334.61 L103.30,334.51 L103.80,334.39 L104.30,334.28 L104.80,334.17 L105.30,334.05 L105.80,333.94 L106.30,333.82 L106.80,333.70 L107.30,333.58 L107.80,333.46 L108.30,333.35 L108.80,333.23 L109.30,333.11 L109.80,333.00 L110.30,332.89 L110.80,332.77 L111.30,332.67 L111.80,332.56 L112.30,332.46 L112.80,332.36 L113.30,332.27 L113.80,332.18 L114.30,332.09 L114.80,332.02 L115.30,331.94 L115.80,331.88 L116.30,331.82 L116.80,331.76 L117.30,331.72 L117.80,331.68 L118.30,331.65 L118.80,331.62 L119.30,331.61 L119.80,331.60 L120.30,331.60 L120.80,331.61 L121.30,331.63 L121.80,331.65 L122.30,331.68 L122.80,331.73 L123.30,331.77 L123.80,331.83 L124.30,331.89 L124.80,331.96 L125.30,332.03 L125.80,332.11 L126.30,332.20 L126.80,332.29 L127.30,332.38 L127.80,332.48 L128.30,332.58 L128.80,332.69 L129.30,332.80 L129.80,332.91 L130.30,333.02 L130.80,333.14 L131.30,333.25 L131.80,333.37 L132.30,333.49 L132.80,333.61 L133.30,333.72 L133.80,333.84 L134.30,333.96 L134.80,334.08 L135.30,334.19 L135.80,334.30 L136.30,334.42 L136.80,334.53 L137.30,334.64 L137.80,334.74 L138.30,334.85 L138.80,334.95 L139.30,335.05 L139.80,335.14 L140.30,335.24 L140.80,335.33 L141.30,335.42 L141.80,335.50 L142.30,335.58 L142.80,335.66 L143.30,335.74 L143.80,335.81 L144.30,335.88 L144.80,335.94 L145.30,336.01 L145.80,336.07 L146.30,336.13 L146.80,336.18 L147.30,336.23 L147.80,336.28 L148.30,336.33 L148.80,336.37 L149.30,336.42 L149.80,336.46 L150.30,336.49 L150.80,336.53 L151.30,336.56 L151.80,336.59 L152.30,336.62 L152.80,336.65 L153.30,336.68 L153.80,336.70 L154.30,336.72 L154.80,336.74 L155.30,336.76 L155.80,336.78 L156.30,336.80 L156.80,336.81 L157.30,336.83 L157.80,336.84 L158.30,336.85 L158.80,336.87 L159.30,336.88 L159.80,336.89 L160.30,336.90 L160.80,336.90 L161.30,336.91 L161.80,336.92 L162.30,336.93 L162.80,336.93 L163.30,336.94 L163.80,336.95 L164.30,336.95 L164.80,336.96 L165.30,336.96 L165.80,336.97 L166.30,336.97 L166.80,336.97 L167.30,336.98 L167.80,336.98 L168.30,336.98 L168.80,336.99 L169.30,336.99 L169.80,336.99 L170.30,336.99 L170.80,337.00 L171.30,337.00 L171.80,337.00 L172.30,337.00 L172.80,337.01 L173.30,337.01 L173.80,337.01 L174.30,337.01 L174.80,337.01 L175.30,337.01 L175.80,337.02 L176.30,337.02 L176.80,337.02 L177.30,337.02 L177.80,337.02 L178.30,337.02 L178.80,337.02 L179.30,337.03 L179.80,337.03 L180.30,337.03 L180.80,337.03 L181.30,337.03 L181.80,337.03 L182.30,337.03 L182.80,337.03 L183.30,337.03 L183.80,337.03 L184.30,337.04 L184.80,337.04 L185.30,337.04 L185.80,337.04 L186.30,337.04 L186.80,337.04 L187.30,337.04 L187.80,337.04 L188.30,337.04 L188.80,337.04 L189.30,337.04 L189.80,337.05 L190.30,337.05 L190.80,337.05 L191.30,337.05 L191.80,337.05 L192.30,337.05 L192.80,337.05 L193.30,337.05 L193.80,337.05 L194.30,337.05 L194.80,337.05 L195.30,337.05 L195.80,337.05 L196.30,337.05 L196.80,337.05 L197.30,337.05 L197.80,337.06 L198.30,337.06 L198.80,337.06 L199.30,337.06 L199.80,337.06 L200.30,337.06 L200.80,337.06 L201.30,337.06 L201.80,337.06 L202.30,337.06 L202.80,337.06 L203.30,337.06 L203.80,337.06 L204.30,337.06 L204.80,337.06 L205.30,337.06 L205.80,337.06 L206.30,337.06 L206.80,337.06 L207.30,337.06 L207.80,337.06 L208.30,337.07 L208.80,337.07 L209.30,337.07 L209.80,337.07 L210.30,337.07 L210.80,337.07 L211.30,337.07 L211.80,337.07 L212.30,337.07 L212.80,337.07 L213.30,337.07 L213.80,337.07 L214.30,337.07 L214.80,337.07 L215.30,337.07 L215.80,337.07 L216.30,337.07 L216.80,337.07 L217.30,337.07 L217.80,337.07 L218.30,337.07 L218.80,337.07 L219.30,337.07 L219.80,337.07 L220.30,337.07 L220.80,337.07 L221.30,337.07 L221.80,337.07 L222.30,337.07 L222.80,337.07 L223.30,337.07 L223.80,337.07 L224.30,337.07 L224.80,337.07 L225.30,337.08 L225.80,337.08 L226.30,337.08 L226.80,337.08 L227.30,337.08 L227.80,337.08 L228.30,337.08 L228.80,337.08 L229.30,337.08 L229.80,337.08 L230.30,337.08 L230.80,337.08 L231.30,337.08 L231.80,337.08" fill="none" stroke="#4a4018" stroke-width="1.2"/>
<path d="M33.30,337.08 L33.80,337.08 L34.30,337.08 L34.80,337.08 L35.30,337.08 L35.80,337.08 L36.30,337.08 L36.80,337.08 L37.30,337.08 L37.80,337.08 L38.30,337.08 L38.80,337.08 L39.30,337.08 L39.80,337.08 L40.30,337.08 L40.80,337.08 L41.30,337.08 L41.80,337.08 L42.30,337.08 L42.80,337.08 L43.30,337.08 L43.80,337.08 L44.30,337.08 L44.80,337.08 L45.30,337.08 L45.80,337.08 L46.30,337.08 L46.80,337.08 L47.30,337.08 L47.80,337.08 L48.30,337.08 L48.80,337.08 L49.30,337.08 L49.80,337.08 L50.30,337.07 L50.80,337.07 L51.30,337.07 L51.80,337.07 L52.30,337.07 L52.80,337.07 L53.30,337.07 L53.80,337.07 L54.30,337.07 L54.80,337.07 L55.30,337.07 L55.80,337.07 L56.30,337.07 L56.80,337.07 L57.30,337.07 L57.80,337.07 L58.30,337.07 L58.80,337.07 L59.30,337.07 L59.80,337.07 L60.30,337.07 L60.80,337.07 L61.30,337.07 L61.80,337.07 L62.30,337.07 L62.80,337.07 L63.30,337.07 L63.80,337.07 L64.30,337.07 L64.80,337.07 L65.30,337.07 L65.80,337.07 L66.30,337.06 L66.80,337.06 L67.30,337.06 L67.80,337.06 L68.30,337.06 L68.80,337.06 L69.30,337.06 L69.80,337.06 L70.30,337.06 L70.80,337.06 L71.30,337.06 L71.80,337.06 L72.30,337.06 L72.80,337.06 L73.30,337.06 L73.80,337.06 L74.30,337.06 L74.80,337.06 L75.30,337.06 L75.80,337.06 L76.30,337.05 L76.80,337.05 L77.30,337.05 L77.80,337.05 L78.30,337.05 L78.80,337.05 L79.30,337.05 L79.80,337.05 L80.30,337.05 L80.80,337.05 L81.30,337.05 L81.80,337.05 L82.30,337.05 L82.80,337.05 L83.30,337.05 L83.80,337.04 L84.30,337.04 L84.80,337.04 L85.30,337.04 L85.80,337.04 L86.30,337.04 L86.80,337.04 L87.30,337.04 L87.80,337.04 L88.30,337.04 L88.80,337.04 L89.30,337.03 L89.80,337.03 L90.30,337.03 L90.80,337.03 L91.30,337.03 L91.80,337.03 L92.30,337.03 L92.80,337.03 L93.30,337.03 L93.80,337.02 L94.30,337.02 L94.80,337.02 L95.30,337.02 L95.80,337.02 L96.30,337.02 L96.80,337.02 L97.30,337.01 L97.80,337.01 L98.30,337.01 L98.80,337.01 L99.30,337.01 L99.80,337.00 L100.30,337.00 L100.80,337.00 L101.30,337.00 L101.80,336.99 L102.30,336.99 L102.80,336.99 L103.30,336.98 L103.80,336.98 L104.30,336.98 L104.80,336.97 L105.30,336.97 L105.80,336.96 L106.30,336.96 L106.80,336.95 L107.30,336.95 L107.80,336.94 L108.30,336.94 L108.80,336.93 L109.30,336.92 L109.80,336.91 L110.30,336.90 L110.80,336.89 L111.30,336.88 L111.80,336.87 L112.30,336.86 L112.80,336.85 L113.30,336.84 L113.80,336.82 L114.30,336.81 L114.80,336.79 L115.30,336.77 L115.80,336.75 L116.30,336.73 L116.80,336.71 L117.30,336.69 L117.80,336.66 L118.30,336.63 L118.80,336.61 L119.30,336.57 L119.80,336.54 L120.30,336.51 L120.80,336.47 L121.30,336.43 L121.80,336.39 L122.30,336.35 L122.80,336.30 L123.30,336.26 L123.80,336.20 L124.30,336.15 L124.80,336.10 L125.30,336.04 L125.80,335.98 L126.30,335.91 L126.80,335.85 L127.30,335.78 L127.80,335.70 L128.30,335.63 L128.80,335.55 L129.30,335.47 L129.80,335.39 L130.30,335.30 L130.80,335.22 L131.30,335.13 L131.80,335.03 L132.30,334.94 L132.80,334.84 L133.30,334.74 L133.80,334.64 L134.30,334.54 L134.80,334.43 L135.30,334.33 L135.80,334.22 L136.30,334.12 L136.80,334.01 L137.30,333.90 L137.80,333.79 L138.30,333.69 L138.80,333.58 L139.30,333.48 L139.80,333.37 L140.30,333.27 L140.80,333.17 L141.30,333.07 L141.80,332.97 L142.30,332.88 L142.80,332.79 L143.30,332.71 L143.80,332.63 L144.30,332.55 L144.80,332.48 L145.30,332.41 L145.80,332.35 L146.30,332.30 L146.80,332.25 L147.30,332.21 L147.80,332.17 L148.30,332.14 L148.80,332.12 L149.30,332.11 L149.80,332.10 L150.30,332.10 L150.80,332.11 L151.30,332.12 L151.80,332.15 L152.30,332.18 L152.80,332.21 L153.30,332.26 L153.80,332.31 L154.30,332.36 L154.80,332.42 L155.30,332.49 L155.80,332.56 L156.30,332.64 L156.80,332.72 L157.30,332.81 L157.80,332.90 L158.30,332.99 L158.80,333.09 L159.30,333.19 L159.80,333.29 L160.30,333.39 L160.80,333.50 L161.30,333.60 L161.80,333.71 L162.30,333.82 L162.80,333.92 L163.30,334.03 L163.80,334.14 L164.30,334.24 L164.80,334.35 L165.30,334.46 L165.80,334.56 L166.30,334.66 L166.80,334.76 L167.30,334.86 L167.80,334.96 L168.30,335.05 L168.80,335.14 L169.30,335.23 L169.80,335.32 L170.30,335.41 L170.80,335.49 L171.30,335.57 L171.80,335.65 L172.30,335.72 L172.80,335.79 L173.30,335.86 L173.80,335.93 L174.30,335.99 L174.80,336.05 L175.30,336.11 L175.80,336.16 L176.30,336.22 L176.80,336.27 L177.30,336.31 L177.80,336.36 L178.30,336.40 L178.80,336.44 L179.30,336.48 L179.80,336.51 L180.30,336.55 L180.80,336.58 L181.30,336.61 L181.80,336.64 L182.30,336.67 L182.80,336.69 L183.30,336.71 L183.80,336.74 L184.30,336.76 L184.80,336.77 L185.30,336.79 L185.80,336.81 L186.30,336.82 L186.80,336.84 L187.30,336.85 L187.80,336.86 L188.30,336.88 L188.80,336.89 L189.30,336.90 L189.80,336.91 L190.30,336.91 L190.80,336.92 L191.30,336.93 L191.80,336.94 L192.30,336.94 L192.80,336.95 L193.30,336.95 L193.80,336.96 L194.30,336.96 L194.80,336.97 L195.30,336.97 L195.80,336.98 L196.30,336.98 L196.80,336.98 L197.30,336.99 L197.80,336.99 L198.30,336.99 L198.80,337.00 L199.30,337.00 L199.80,337.00 L200.30,337.00 L200.80,337.01 L201.30,337.01 L201.80,337.01 L202.30,337.01 L202.80,337.01 L203.30,337.02 L203.80,337.02 L204.30,337.02 L204.80,337.02 L205.30,337.02 L205.80,337.02 L206.30,337.02 L206.80,337.03 L207.30,337.03 L207.80,337.03 L208.30,337.03 L208.80,337.03 L209.30,337.03 L209.80,337.03 L210.30,337.03 L210.80,337.04 L211.30,337.04 L211.80,337.04 L212.30,337.04 L212.80,337.04 L213.30,337.04 L213.80,337.04 L214.30,337.04 L214.80,337.04 L215.30,337.04 L215.80,337.04 L216.30,337.04 L216.80,337.05 L217.30,337.05 L217.80,337.05 L218.30,337.05 L218.80,337.05 L219.30,337.05 L219.80,337.05 L220.30,337.05 L220.80,337.05 L221.30,337.05 L221.80,337.05 L222.30,337.05 L222.80,337.05 L223.30,337.05 L223.80,337.06 L224.30,337.06 L224.80,337.06 L225.30,337.06 L225.80,337.06 L226.30,337.06 L226.80,337.06 L227.30,337.06 L227.80,337.06 L228.30,337.06 L228.80,337.06 L229.30,337.06 L229.80,337.06 L230.30,337.06 L230.80,337.06 L231.30,337.06 L231.80,337.06" fill="none" stroke="#1a5a2a" stroke-width="1.2"/>
<path d="M33.30,337.06 L33.80,337.05 L34.30,337.05 L34.80,337.05 L35.30,337.05 L35.80,337.05 L36.30,337.05 L36.80,337.05 L37.30,337.05 L37.80,337.05 L38.30,337.05 L38.80,337.05 L39.30,337.05 L39.80,337.05 L40.30,337.05 L40.80,337.05 L41.30,337.05 L41.80,337.05 L42.30,337.05 L42.80,337.05 L43.30,337.05 L43.80,337.05 L44.30,337.05 L44.80,337.05 L45.30,337.05 L45.80,337.05 L46.30,337.05 L46.80,337.05 L47.30,337.05 L47.80,337.05 L48.30,337.04 L48.80,337.04 L49.30,337.04 L49.80,337.04 L50.30,337.04 L50.80,337.04 L51.30,337.04 L51.80,337.04 L52.30,337.04 L52.80,337.04 L53.30,337.04 L53.80,337.04 L54.30,337.04 L54.80,337.04 L55.30,337.04 L55.80,337.04 L56.30,337.04 L56.80,337.04 L57.30,337.04 L57.80,337.04 L58.30,337.04 L58.80,337.04 L59.30,337.03 L59.80,337.03 L60.30,337.03 L60.80,337.03 L61.30,337.03 L61.80,337.03 L62.30,337.03 L62.80,337.03 L63.30,337.03 L63.80,337.03 L64.30,337.03 L64.80,337.03 L65.30,337.03 L65.80,337.03 L66.30,337.03 L66.80,337.03 L67.30,337.03 L67.80,337.02 L68.30,337.02 L68.80,337.02 L69.30,337.02 L69.80,337.02 L70.30,337.02 L70.80,337.02 L71.30,337.02 L71.80,337.02 L72.30,337.02 L72.80,337.02 L73.30,337.02 L73.80,337.02 L74.30,337.02 L74.80,337.01 L75.30,337.01 L75.80,337.01 L76.30,337.01 L76.80,337.01 L77.30,337.01 L77.80,337.01 L78.30,337.01 L78.80,337.01 L79.30,337.01 L79.80,337.01 L80.30,337.01 L80.80,337.00 L81.30,337.00 L81.80,337.00 L82.30,337.00 L82.80,337.00 L83.30,337.00 L83.80,337.00 L84.30,337.00 L84.80,337.00 L85.30,337.00 L85.80,336.99 L86.30,336.99 L86.80,336.99 L87.30,336.99 L87.80,336.99 L88.30,336.99 L88.80,336.99 L89.30,336.99 L89.80,336.99 L90.30,336.98 L90.80,336.98 L91.30,336.98 L91.80,336.98 L92.30,336.98 L92.80,336.98 L93.30,336.98 L93.80,336.97 L94.30,336.97 L94.80,336.97 L95.30,336.97 L95.80,336.97 L96.30,336.97 L96.80,336.97 L97.30,336.96 L97.80,336.96 L98.30,336.96 L98.80,336.96 L99.30,336.96 L99.80,336.96 L100.30,336.95 L100.80,336.95 L101.30,336.95 L101.80,336.95 L102.30,336.95 L102.80,336.95 L103.30,336.94 L103.80,336.94 L104.30,336.94 L104.80,336.94 L105.30,336.94 L105.80,336.93 L106.30,336.93 L106.80,336.93 L107.30,336.93 L107.80,336.92 L108.30,336.92 L108.80,336.92 L109.30,336.92 L109.80,336.91 L110.30,336.91 L110.80,336.91 L111.30,336.91 L111.80,336.90 L112.30,336.90 L112.80,336.90 L113.30,336.90 L113.80,336.89 L114.30,336.89 L114.80,336.89 L115.30,336.88 L115.80,336.88 L116.30,336.88 L116.80,336.87 L117.30,336.87 L117.80,336.87 L118.30,336.86 L118.80,336.86 L119.30,336.86 L119.80,336.85 L120.30,336.85 L120.80,336.84 L121.30,336.84 L121.80,336.84 L122.30,336.83 L122.80,336.83 L123.30,336.82 L123.80,336.82 L124.30,336.81 L124.80,336.81 L125.30,336.80 L125.80,336.80 L126.30,336.79 L126.80,336.79 L127.30,336.78 L127.80,336.78 L128.30,336.77 L128.80,336.77 L129.30,336.76 L129.80,336.75 L130.30,336.75 L130.80,336.74 L131.30,336.73 L131.80,336.73 L132.30,336.72 L132.80,336.71 L133.30,336.70 L133.80,336.70 L134.30,336.69 L134.80,336.68 L135.30,336.67 L135.80,336.66 L136.30,336.65 L136.80,336.64 L137.30,336.63 L137.80,336.62 L138.30,336.61 L138.80,336.60 L139.30,336.59 L139.80,336.58 L140.30,336.57 L140.80,336.55 L141.30,336.54 L141.80,336.53 L142.30,336.51 L142.80,336.50 L143.30,336.49 L143.80,336.47 L144.30,336.45 L144.80,336.44 L145.30,336.42 L145.80,336.40 L146.30,336.39 L146.80,336.37 L147.30,336.35 L147.80,336.33 L148.30,336.30 L148.80,336.28 L149.30,336.26 L149.80,336.23 L150.30,336.21 L150.80,336.18 L151.30,336.15 L151.80,336.13 L152.30,336.09 L152.80,336.06 L153.30,336.03 L153.80,335.99 L154.30,335.96 L154.80,335.92 L155.30,335.88 L155.80,335.84 L156.30,335.79 L156.80,335.75 L157.30,335.70 L157.80,335.64 L158.30,335.59 L158.80,335.53 L159.30,335.47 L159.80,335.40 L160.30,335.33 L160.80,335.26 L161.30,335.17 L161.80,335.09 L162.30,334.99 L162.80,334.89 L163.30,334.78 L163.80,334.66 L164.30,334.53 L164.80,334.39 L165.30,334.23 L165.80,334.05 L166.30,333.85 L166.80,333.62 L167.30,333.37 L167.80,333.08 L168.30,332.76 L168.80,332.39 L169.30,331.98 L169.80,331.50 L170.30,330.97 L170.80,330.37 L171.30,329.69 L171.80,328.94 L172.30,328.09 L172.80,327.14 L173.30,326.10 L173.80,324.95 L174.30,323.68 L174.80,322.31 L175.30,320.83 L175.80,319.24 L176.30,317.55 L176.80,315.76 L177.30,313.89 L177.80,311.95 L178.30,309.97 L178.80,307.97 L179.30,305.98 L179.80,304.05 L180.30,302.22 L180.80,300.54 L181.30,299.07 L181.80,297.87 L182.30,296.98 L182.80,296.45 L183.30,296.30 L183.80,296.53 L184.30,297.12 L184.80,298.03 L185.30,299.24 L185.80,300.69 L186.30,302.33 L186.80,304.11 L187.30,305.99 L187.80,307.92 L188.30,309.86 L188.80,311.79 L189.30,313.68 L189.80,315.50 L190.30,317.25 L190.80,318.91 L191.30,320.48 L191.80,321.94 L192.30,323.30 L192.80,324.56 L193.30,325.71 L193.80,326.77 L194.30,327.72 L194.80,328.58 L195.30,329.36 L195.80,330.05 L196.30,330.67 L196.80,331.22 L197.30,331.71 L197.80,332.15 L198.30,332.53 L198.80,332.87 L199.30,333.17 L199.80,333.44 L200.30,333.68 L200.80,333.89 L201.30,334.08 L201.80,334.25 L202.30,334.41 L202.80,334.55 L203.30,334.67 L203.80,334.79 L204.30,334.90 L204.80,334.99 L205.30,335.08 L205.80,335.17 L206.30,335.25 L206.80,335.32 L207.30,335.39 L207.80,335.46 L208.30,335.52 L208.80,335.57 L209.30,335.63 L209.80,335.68 L210.30,335.73 L210.80,335.78 L211.30,335.82 L211.80,335.86 L212.30,335.90 L212.80,335.94 L213.30,335.98 L213.80,336.01 L214.30,336.04 L214.80,336.08 L215.30,336.11 L215.80,336.14 L216.30,336.16 L216.80,336.19 L217.30,336.22 L217.80,336.24 L218.30,336.26 L218.80,336.29 L219.30,336.31 L219.80,336.33 L220.30,336.35 L220.80,336.37 L221.30,336.39 L221.80,336.40 L222.30,336.42 L222.80,336.44 L223.30,336.45 L223.80,336.47 L224.30,336.48 L224.80,336.50 L225.30,336.51 L225.80,336.53 L226.30,336.54 L226.80,336.55 L227.30,336.56 L227.80,336.57 L228.30,336.59 L228.80,336.60 L229.30,336.61 L229.80,336.62 L230.30,336.63 L230.80,336.64 L231.30,336.65 L231.80,336.66" fill="none" stroke="#d3283a" stroke-width="1.2"/>
<path d="M33.30,337.05 L33.80,337.05 L34.30,337.05 L34.80,337.05 L35.30,337.05 L35.80,337.05 L36.30,337.05 L36.80,337.05 L37.30,337.04 L37.80,337.04 L38.30,337.04 L38.80,337.04 L39.30,337.04 L39.80,337.04 L40.30,337.04 L40.80,337.04 L41.30,337.04 L41.80,337.04 L42.30,337.04 L42.80,337.04 L43.30,337.04 L43.80,337.04 L44.30,337.04 L44.80,337.04 L45.30,337.04 L45.80,337.04 L46.30,337.04 L46.80,337.04 L47.30,337.04 L47.80,337.04 L48.30,337.04 L48.80,337.04 L49.30,337.04 L49.80,337.04 L50.30,337.04 L50.80,337.03 L51.30,337.03 L51.80,337.03 L52.30,337.03 L52.80,337.03 L53.30,337.03 L53.80,337.03 L54.30,337.03 L54.80,337.03 L55.30,337.03 L55.80,337.03 L56.30,337.03 L56.80,337.03 L57.30,337.03 L57.80,337.03 L58.30,337.03 L58.80,337.03 L59.30,337.03 L59.80,337.03 L60.30,337.03 L60.80,337.03 L61.30,337.02 L61.80,337.02 L62.30,337.02 L62.80,337.02 L63.30,337.02 L63.80,337.02 L64.30,337.02 L64.80,337.02 L65.30,337.02 L65.80,337.02 L66.30,337.02 L66.80,337.02 L67.30,337.02 L67.80,337.02 L68.30,337.02 L68.80,337.02 L69.30,337.02 L69.80,337.01 L70.30,337.01 L70.80,337.01 L71.30,337.01 L71.80,337.01 L72.30,337.01 L72.80,337.01 L73.30,337.01 L73.80,337.01 L74.30,337.01 L74.80,337.01 L75.30,337.01 L75.80,337.01 L76.30,337.01 L76.80,337.00 L77.30,337.00 L77.80,337.00 L78.30,337.00 L78.80,337.00 L79.30,337.00 L79.80,337.00 L80.30,337.00 L80.80,337.00 L81.30,337.00 L81.80,337.00 L82.30,337.00 L82.80,337.00 L83.30,336.99 L83.80,336.99 L84.30,336.99 L84.80,336.99 L85.30,336.99 L85.80,336.99 L86.30,336.99 L86.80,336.99 L87.30,336.99 L87.80,336.99 L88.30,336.98 L88.80,336.98 L89.30,336.98 L89.80,336.98 L90.30,336.98 L90.80,336.98 L91.30,336.98 L91.80,336.98 L92.30,336.98 L92.80,336.98 L93.30,336.97 L93.80,336.97 L94.30,336.97 L94.80,336.97 L95.30,336.97 L95.80,336.97 L96.30,336.97 L96.80,336.97 L97.30,336.96 L97.80,336.96 L98.30,336.96 L98.80,336.96 L99.30,336.96 L99.80,336.96 L100.30,336.96 L100.80,336.95 L101.30,336.95 L101.80,336.95 L102.30,336.95 L102.80,336.95 L103.30,336.95 L103.80,336.95 L104.30,336.94 L104.80,336.94 L105.30,336.94 L105.80,336.94 L106.30,336.94 L106.80,336.94 L107.30,336.93 L107.80,336.93 L108.30,336.93 L108.80,336.93 L109.30,336.93 L109.80,336.93 L110.30,336.92 L110.80,336.92 L111.30,336.92 L111.80,336.92 L112.30,336.92 L112.80,336.91 L113.30,336.91 L113.80,336.91 L114.30,336.91 L114.80,336.91 L115.30,336.90 L115.80,336.90 L116.30,336.90 L116.80,336.90 L117.30,336.89 L117.80,336.89 L118.30,336.89 L118.80,336.89 L119.30,336.88 L119.80,336.88 L120.30,336.88 L120.80,336.88 L121.30,336.87 L121.80,336.87 L122.30,336.87 L122.80,336.86 L123.30,336.86 L123.80,336.86 L124.30,336.86 L124.80,336.85 L125.30,336.85 L125.80,336.85 L126.30,336.84 L126.80,336.84 L127.30,336.84 L127.80,336.83 L128.30,336.83 L128.80,336.82 L129.30,336.82 L129.80,336.82 L130.30,336.81 L130.80,336.81 L131.30,336.80 L131.80,336.80 L132.30,336.80 L132.80,336.79 L133.30,336.79 L133.80,336.78 L134.30,336.78 L134.80,336.77 L135.30,336.77 L135.80,336.76 L136.30,336.76 L136.80,336.75 L137.30,336.75 L137.80,336.74 L138.30,336.74 L138.80,336.73 L139.30,336.73 L139.80,336.72 L140.30,336.71 L140.80,336.71 L141.30,336.70 L141.80,336.70 L142.30,336.69 L142.80,336.68 L143.30,336.67 L143.80,336.67 L144.30,336.66 L144.80,336.65 L145.30,336.64 L145.80,336.64 L146.30,336.63 L146.80,336.62 L147.30,336.61 L147.80,336.60 L148.30,336.59 L148.80,336.58 L149.30,336.57 L149.80,336.56 L150.30,336.55 L150.80,336.54 L151.30,336.53 L151.80,336.52 L152.30,336.51 L152.80,336.50 L153.30,336.49 L153.80,336.47 L154.30,336.46 L154.80,336.45 L155.30,336.44 L155.80,336.42 L156.30,336.41 L156.80,336.39 L157.30,336.38 L157.80,336.36 L158.30,336.34 L158.80,336.33 L159.30,336.31 L159.80,336.29 L160.30,336.27 L160.80,336.25 L161.30,336.23 L161.80,336.21 L162.30,336.19 L162.80,336.17 L163.30,336.14 L163.80,336.12 L164.30,336.09 L164.80,336.07 L165.30,336.04 L165.80,336.01 L166.30,335.98 L166.80,335.95 L167.30,335.92 L167.80,335.89 L168.30,335.85 L168.80,335.82 L169.30,335.78 L169.80,335.74 L170.30,335.70 L170.80,335.66 L171.30,335.61 L171.80,335.56 L172.30,335.51 L172.80,335.46 L173.30,335.41 L173.80,335.35 L174.30,335.29 L174.80,335.23 L175.30,335.16 L175.80,335.09 L176.30,335.02 L176.80,334.94 L177.30,334.86 L177.80,334.77 L178.30,334.68 L178.80,334.58 L179.30,334.48 L179.80,334.37 L180.30,334.26 L180.80,334.13 L181.30,334.00 L181.80,333.86 L182.30,333.71 L182.80,333.54 L183.30,333.37 L183.80,333.17 L184.30,332.97 L184.80,332.74 L185.30,332.49 L185.80,332.21 L186.30,331.90 L186.80,331.56 L187.30,331.17 L187.80,330.72 L188.30,330.22 L188.80,329.64 L189.30,328.97 L189.80,328.20 L190.30,327.31 L190.80,326.28 L191.30,325.10 L191.80,323.73 L192.30,322.17 L192.80,320.38 L193.30,318.35 L193.80,316.06 L194.30,313.49 L194.80,310.64 L195.30,307.49 L195.80,304.04 L196.30,300.30 L196.80,296.30 L197.30,292.06 L197.80,287.62 L198.30,283.05 L198.80,278.43 L199.30,273.86 L199.80,269.46 L200.30,265.39 L200.80,261.81 L201.30,258.90 L201.80,256.82 L202.30,255.69 L202.80,255.56 L203.30,256.28 L203.80,257.75 L204.30,259.92 L204.80,262.67 L205.30,265.90 L205.80,269.49 L206.30,273.33 L206.80,277.32 L207.30,281.37 L207.80,285.40 L208.30,289.36 L208.80,293.20 L209.30,296.88 L209.80,300.37 L210.30,303.65 L210.80,306.71 L211.30,309.55 L211.80,312.16 L212.30,314.55 L212.80,316.71 L213.30,318.67 L213.80,320.43 L214.30,322.00 L214.80,323.40 L215.30,324.65 L215.80,325.75 L216.30,326.72 L216.80,327.57 L217.30,328.33 L217.80,328.99 L218.30,329.58 L218.80,330.10 L219.30,330.56 L219.80,330.97 L220.30,331.33 L220.80,331.66 L221.30,331.96 L221.80,332.22 L222.30,332.47 L222.80,332.69 L223.30,332.89 L223.80,333.08 L224.30,333.26 L224.80,333.42 L225.30,333.57 L225.80,333.71 L226.30,333.85 L226.80,333.97 L227.30,334.09 L227.80,334.20 L228.30,334.31 L228.80,334.41 L229.30,334.50 L229.80,334.59 L230.30,334.67 L230.80,334.76 L231.30,334.83 L231.80,334.91" fill="none" stroke="#d3283a" stroke-width="1.2"/>
<path d="M33.30,336.85 L33.80,336.85 L34.30,336.85 L34.80,336.85 L35.30,336.84 L35.80,336.84 L36.30,336.84 L36.80,336.84 L37.30,336.83 L37.80,336.83 L38.30,336.83 L38.80,336.82 L39.30,336.82 L39.80,336.82 L40.30,336.82 L40.80,336.81 L41.30,336.81 L41.80,336.81 L42.30,336.80 L42.80,336.80 L43.30,336.80 L43.80,336.79 L44.30,336.79 L44.80,336.79 L45.30,336.78 L45.80,336.78 L46.30,336.78 L46.80,336.77 L47.30,336.77 L47.80,336.76 L48.30,336.76 L48.80,336.75 L49.30,336.75 L49.80,336.74 L50.30,336.74 L50.80,336.73 L51.30,336.73 L51.80,336.72 L52.30,336.72 L52.80,336.71 L53.30,336.71 L53.80,336.70 L54.30,336.69 L54.80,336.69 L55.30,336.68 L55.80,336.67 L56.30,336.66 L56.80,336.66 L57.30,336.65 L57.80,336.64 L58.30,336.63 L58.80,336.62 L59.30,336.61 L59.80,336.60 L60.30,336.59 L60.80,336.57 L61.30,336.56 L61.80,336.55 L62.30,336.54 L62.80,336.52 L63.30,336.51 L63.80,336.49 L64.30,336.47 L64.80,336.45 L65.30,336.43 L65.80,336.41 L66.30,336.39 L66.80,336.37 L67.30,336.35 L67.80,336.32 L68.30,336.30 L68.80,336.27 L69.30,336.24 L69.80,336.21 L70.30,336.18 L70.80,336.14 L71.30,336.11 L71.80,336.07 L72.30,336.03 L72.80,335.99 L73.30,335.95 L73.80,335.90 L74.30,335.85 L74.80,335.80 L75.30,335.75 L75.80,335.70 L76.30,335.64 L76.80,335.58 L77.30,335.52 L77.80,335.45 L78.30,335.38 L78.80,335.31 L79.30,335.23 L79.80,335.15 L80.30,335.07 L80.80,334.99 L81.30,334.90 L81.80,334.81 L82.30,334.71 L82.80,334.61 L83.30,334.51 L83.80,334.40 L84.30,334.29 L84.80,334.17 L85.30,334.05 L85.80,333.93 L86.30,333.80 L86.80,333.67 L87.30,333.53 L87.80,333.39 L88.30,333.25 L88.80,333.10 L89.30,332.94 L89.80,332.78 L90.30,332.62 L90.80,332.45 L91.30,332.28 L91.80,332.11 L92.30,331.93 L92.80,331.75 L93.30,331.56 L93.80,331.37 L94.30,331.17 L94.80,330.97 L95.30,330.77 L95.80,330.56 L96.30,330.36 L96.80,330.14 L97.30,329.93 L97.80,329.71 L98.30,329.49 L98.80,329.27 L99.30,329.05 L99.80,328.83 L100.30,328.60 L100.80,328.38 L101.30,328.15 L101.80,327.93 L102.30,327.70 L102.80,327.48 L103.30,327.25 L103.80,327.03 L104.30,326.81 L104.80,326.60 L105.30,326.39 L105.80,326.18 L106.30,325.97 L106.80,325.78 L107.30,325.58 L107.80,325.39 L108.30,325.21 L108.80,325.04 L109.30,324.87 L109.80,324.71 L110.30,324.56 L110.80,324.42 L111.30,324.28 L111.80,324.16 L112.30,324.04 L112.80,323.94 L113.30,323.84 L113.80,323.76 L114.30,323.69 L114.80,323.63 L115.30,323.58 L115.80,323.54 L116.30,323.51 L116.80,323.50 L117.30,323.49 L117.80,323.50 L118.30,323.52 L118.80,323.55 L119.30,323.59 L119.80,323.65 L120.30,323.71 L120.80,323.78 L121.30,323.86 L121.80,323.96 L122.30,324.06 L122.80,324.16 L123.30,324.28 L123.80,324.40 L124.30,324.53 L124.80,324.66 L125.30,324.80 L125.80,324.94 L126.30,325.09 L126.80,325.24 L127.30,325.39 L127.80,325.54 L128.30,325.69 L128.80,325.84 L129.30,325.99 L129.80,326.15 L130.30,326.29 L130.80,326.44 L131.30,326.59 L131.80,326.73 L132.30,326.87 L132.80,327.00 L133.30,327.13 L133.80,327.26 L134.30,327.38 L134.80,327.50 L135.30,327.61 L135.80,327.71 L136.30,327.82 L136.80,327.91 L137.30,328.00 L137.80,328.09 L138.30,328.17 L138.80,328.25 L139.30,328.32 L139.80,328.38 L140.30,328.44 L140.80,328.50 L141.30,328.56 L141.80,328.61 L142.30,328.65 L142.80,328.70 L143.30,328.74 L143.80,328.78 L144.30,328.81 L144.80,328.85 L145.30,328.88 L145.80,328.92 L146.30,328.95 L146.80,328.99 L147.30,329.02 L147.80,329.05 L148.30,329.09 L148.80,329.13 L149.30,329.17 L149.80,329.21 L150.30,329.25 L150.80,329.29 L151.30,329.34 L151.80,329.39 L152.30,329.44 L152.80,329.49 L153.30,329.54 L153.80,329.59 L154.30,329.65 L154.80,329.70 L155.30,329.76 L155.80,329.82 L156.30,329.87 L156.80,329.93 L157.30,329.98 L157.80,330.04 L158.30,330.09 L158.80,330.14 L159.30,330.18 L159.80,330.22 L160.30,330.26 L160.80,330.29 L161.30,330.31 L161.80,330.33 L162.30,330.34 L162.80,330.34 L163.30,330.33 L163.80,330.31 L164.30,330.27 L164.80,330.22 L165.30,330.15 L165.80,330.05 L166.30,329.94 L166.80,329.79 L167.30,329.62 L167.80,329.40 L168.30,329.15 L168.80,328.84 L169.30,328.49 L169.80,328.07 L170.30,327.59 L170.80,327.04 L171.30,326.40 L171.80,325.68 L172.30,324.86 L172.80,323.94 L173.30,322.91 L173.80,321.78 L174.30,320.52 L174.80,319.15 L175.30,317.67 L175.80,316.07 L176.30,314.36 L176.80,312.54 L177.30,310.64 L177.80,308.67 L178.30,306.64 L178.80,304.58 L179.30,302.54 L179.80,300.53 L180.30,298.62 L180.80,296.86 L181.30,295.29 L181.80,293.98 L182.30,292.97 L182.80,292.30 L183.30,292.00 L183.80,292.06 L184.30,292.46 L184.80,293.17 L185.30,294.15 L185.80,295.34 L186.30,296.69 L186.80,298.14 L187.30,299.64 L187.80,301.14 L188.30,302.60 L188.80,303.96 L189.30,305.19 L189.80,306.26 L190.30,307.13 L190.80,307.77 L191.30,308.16 L191.80,308.27 L192.30,308.08 L192.80,307.55 L193.30,306.68 L193.80,305.45 L194.30,303.84 L194.80,301.85 L195.30,299.48 L195.80,296.74 L196.30,293.63 L196.80,290.18 L197.30,286.43 L197.80,282.43 L198.30,278.25 L198.80,273.98 L199.30,269.71 L199.80,265.58 L200.30,261.76 L200.80,258.40 L201.30,255.68 L201.80,253.77 L202.30,252.79 L202.80,252.81 L203.30,253.66 L203.80,255.25 L204.30,257.52 L204.80,260.38 L205.30,263.70 L205.80,267.38 L206.30,271.30 L206.80,275.37 L207.30,279.49 L207.80,283.59 L208.30,287.61 L208.80,291.51 L209.30,295.24 L209.80,298.78 L210.30,302.12 L210.80,305.23 L211.30,308.11 L211.80,310.77 L212.30,313.20 L212.80,315.40 L213.30,317.40 L213.80,319.19 L214.30,320.80 L214.80,322.24 L215.30,323.51 L215.80,324.64 L216.30,325.64 L216.80,326.53 L217.30,327.31 L217.80,328.00 L218.30,328.61 L218.80,329.15 L219.30,329.64 L219.80,330.07 L220.30,330.45 L220.80,330.80 L221.30,331.12 L221.80,331.40 L222.30,331.67 L222.80,331.91 L223.30,332.13 L223.80,332.33 L224.30,332.52 L224.80,332.70 L225.30,332.87 L225.80,333.03 L226.30,333.17 L226.80,333.31 L227.30,333.44 L227.80,333.57 L228.30,333.68 L228.80,333.80 L229.30,333.90 L229.80,334.00 L230.30,334.10 L230.80,334.19 L231.30,334.28 L231.80,334.36" fill="none" stroke="#3fbdb6" stroke-width="1.5"/>
<path d="M33.30,337.10 L33.80,337.10 L34.30,337.10 L34.80,337.10 L35.30,337.10 L35.80,337.10 L36.30,337.10 L36.80,337.10 L37.30,337.10 L37.80,337.10 L38.30,337.10 L38.80,337.10 L39.30,337.10 L39.80,337.10 L40.30,337.10 L40.80,337.10 L41.30,337.10 L41.80,337.10 L42.30,337.10 L42.80,337.10 L43.30,337.10 L43.80,337.10 L44.30,337.10 L44.80,337.10 L45.30,337.10 L45.80,337.10 L46.30,337.10 L46.80,337.10 L47.30,337.10 L47.80,337.10 L48.30,337.10 L48.80,337.10 L49.30,337.10 L49.80,337.10 L50.30,337.10 L50.80,337.10 L51.30,337.10 L51.80,337.10 L52.30,337.10 L52.80,337.10 L53.30,337.10 L53.80,337.10 L54.30,337.10 L54.80,337.10 L55.30,337.10 L55.80,337.10 L56.30,337.10 L56.80,337.10 L57.30,337.10 L57.80,337.10 L58.30,337.10 L58.80,337.10 L59.30,337.10 L59.80,337.10 L60.30,337.10 L60.80,337.10 L61.30,337.10 L61.80,337.10 L62.30,337.10 L62.80,337.10 L63.30,337.10 L63.80,337.10 L64.30,337.10 L64.80,337.10 L65.30,337.10 L65.80,337.10 L66.30,337.10 L66.80,337.10 L67.30,337.10 L67.80,337.10 L68.30,337.10 L68.80,337.10 L69.30,337.10 L69.80,337.10 L70.30,337.10 L70.80,337.10 L71.30,337.10 L71.80,337.10 L72.30,337.10 L72.80,337.10 L73.30,337.10 L73.80,337.10 L74.30,337.10 L74.80,337.10 L75.30,337.10 L75.80,337.10 L76.30,337.10 L76.80,337.10 L77.30,337.10 L77.80,337.10 L78.30,337.10 L78.80,337.10 L79.30,337.10 L79.80,337.10 L80.30,337.10 L80.80,337.10 L81.30,337.10 L81.80,337.10 L82.30,337.10 L82.80,337.10 L83.30,337.10 L83.80,337.10 L84.30,337.10 L84.80,337.10 L85.30,337.10 L85.80,337.10 L86.30,337.10 L86.80,337.10 L87.30,337.10 L87.80,337.10 L88.30,337.10 L88.80,337.10 L89.30,337.10 L89.80,337.10 L90.30,337.10 L90.80,337.10 L91.30,337.10 L91.80,337.10 L92.30,337.10 L92.80,337.10 L93.30,337.10 L93.80,337.10 L94.30,337.10 L94.80,337.10 L95.30,337.10 L95.80,337.10 L96.30,337.10 L96.80,337.10 L97.30,337.10 L97.80,337.10 L98.30,337.10 L98.80,337.10 L99.30,337.10 L99.80,337.10 L100.30,337.10 L100.80,337.10 L101.30,337.10 L101.80,337.10 L102.30,337.10 L102.80,337.10 L103.30,337.10 L103.80,337.10 L104.30,337.10 L104.80,337.10 L105.30,337.10 L105.80,337.10 L106.30,337.10 L106.80,337.10 L107.30,337.10 L107.80,337.10 L108.30,337.10 L108.80,337.10 L109.30,337.10 L109.80,337.10 L110.30,337.10 L110.80,337.10 L111.30,337.10 L111.80,337.10 L112.30,337.10 L112.80,337.10 L113.30,337.10 L113.80,337.10 L114.30,337.10 L114.80,337.10 L115.30,337.10 L115.80,337.10 L116.30,337.10 L116.80,337.10 L117.30,337.10 L117.80,337.10 L118.30,337.10 L118.80,337.10 L119.30,337.10 L119.80,337.10 L120.30,337.10 L120.80,337.10 L121.30,337.10 L121.80,337.10 L122.30,337.10 L122.80,337.10 L123.30,337.10 L123.80,337.10 L124.30,337.10 L124.80,337.10 L125.30,337.10 L125.80,337.10 L126.30,337.10 L126.80,337.10 L127.30,337.10 L127.80,337.10 L128.30,337.10 L128.80,337.10 L129.30,337.10 L129.80,337.10 L130.30,337.10 L130.80,337.10 L131.30,337.10 L131.80,337.10 L132.30,337.10 L132.80,337.10 L133.30,337.10 L133.80,337.10 L134.30,337.10 L134.80,337.10 L135.30,337.10 L135.80,337.10 L136.30,337.10 L136.80,337.10 L137.30,337.10 L137.80,337.10 L138.30,337.10 L138.80,337.10 L139.30,337.10 L139.80,337.10 L140.30,337.10 L140.80,337.10 L141.30,337.10 L141.80,337.10 L142.30,337.10 L142.80,337.10 L143.30,337.10 L143.80,337.10 L144.30,337.10 L144.80,337.10 L145.30,337.10 L145.80,337.10 L146.30,337.10 L146.80,337.10 L147.30,337.10 L147.80,337.10 L148.30,337.10 L148.80,337.10 L149.30,337.10 L149.80,337.10 L150.30,337.10 L150.80,337.10 L151.30,337.10 L151.80,337.10 L152.30,337.10 L152.80,337.10 L153.30,337.10 L153.80,337.10 L154.30,337.10 L154.80,337.10 L155.30,337.10 L155.80,337.10 L156.30,337.10 L156.80,337.10 L157.30,337.10 L157.80,337.10 L158.30,337.10 L158.80,337.10 L159.30,337.10 L159.80,337.10 L160.30,337.10 L160.80,337.10 L161.30,337.10 L161.80,337.10 L162.30,337.10 L162.80,337.10 L163.30,337.10 L163.80,337.10 L164.30,337.10 L164.80,337.10 L165.30,337.10 L165.80,337.10 L166.30,337.10 L166.80,337.10 L167.30,337.10 L167.80,337.10 L168.30,337.10 L168.80,337.10 L169.30,337.10 L169.80,337.10 L170.30,337.10 L170.80,337.10 L171.30,337.10 L171.80,337.10 L172.30,337.10 L172.80,337.10 L173.30,337.10 L173.80,337.10 L174.30,337.10 L174.80,337.10 L175.30,337.10 L175.80,337.10 L176.30,337.10 L176.80,337.10 L177.30,337.10 L177.80,337.10 L178.30,337.10 L178.80,337.10 L179.30,337.10 L179.80,337.10 L180.30,337.10 L180.80,337.10 L181.30,337.10 L181.80,337.10 L182.30,337.10 L182.80,337.10 L183.30,337.10 L183.80,337.10 L184.30,337.10 L184.80,337.10 L185.30,337.10 L185.80,337.10 L186.30,337.10 L186.80,337.10 L187.30,337.10 L187.80,337.10 L188.30,337.10 L188.80,337.10 L189.30,337.10 L189.80,337.10 L190.30,337.10 L190.80,337.10 L191.30,337.10 L191.80,337.10 L192.30,337.10 L192.80,337.10 L193.30,337.10 L193.80,337.10 L194.30,337.10 L194.80,337.10 L195.30,337.10 L195.80,337.10 L196.30,337.10 L196.80,337.10 L197.30,337.10 L197.80,337.10 L198.30,337.10 L198.80,337.10 L199.30,337.10 L199.80,337.10 L200.30,337.10 L200.80,337.10 L201.30,337.10 L201.80,337.10 L202.30,337.10 L202.80,337.10 L203.30,337.10 L203.80,337.10 L204.30,337.10 L204.80,337.10 L205.30,337.10 L205.80,337.10 L206.30,337.10 L206.80,337.10 L207.30,337.10 L207.80,337.10 L208.30,337.10 L208.80,337.10 L209.30,337.10 L209.80,337.10 L210.30,337.10 L210.80,337.10 L211.30,337.10 L211.80,337.10 L212.30,337.10 L212.80,337.10 L213.30,337.10 L213.80,337.10 L214.30,337.10 L214.80,337.10 L215.30,337.10 L215.80,337.10 L216.30,337.10 L216.80,337.10 L217.30,337.10 L217.80,337.10 L218.30,337.10 L218.80,337.10 L219.30,337.10 L219.80,337.10 L220.30,337.10 L220.80,337.10 L221.30,337.10 L221.80,337.10 L222.30,337.10 L222.80,337.10 L223.30,337.10 L223.80,337.10 L224.30,337.10 L224.80,337.10 L225.30,337.10 L225.80,337.10 L226.30,337.10 L226.80,337.10 L227.30,337.10 L227.80,337.10 L228.30,337.10 L228.80,337.10 L229.30,337.10 L229.80,337.10 L230.30,337.10 L230.80,337.10 L231.30,337.10 L231.80,337.10" fill="none" stroke="#e8841e" stroke-width="1.2"/>
<path d="M277.90,115.42 L278.40,115.41 L278.90,115.41 L279.40,115.40 L279.90,115.39 L280.40,115.39 L280.90,115.38 L281.40,115.38 L281.90,115.37 L282.40,115.36 L282.90,115.36 L283.40,115.35 L283.90,115.34 L284.40,115.34 L284.90,115.33 L285.40,115.32 L285.90,115.31 L286.40,115.31 L286.90,115.30 L287.40,115.29 L287.90,115.28 L288.40,115.27 L288.90,115.26 L289.40,115.26 L289.90,115.25 L290.40,115.24 L290.90,115.23 L291.40,115.22 L291.90,115.21 L292.40,115.20 L292.90,115.19 L293.40,115.17 L293.90,115.16 L294.40,115.15 L294.90,115.14 L295.40,115.13 L295.90,115.11 L296.40,115.10 L296.90,115.09 L297.40,115.07 L297.90,115.06 L298.40,115.05 L298.90,115.03 L299.40,115.01 L299.90,115.00 L300.40,114.98 L300.90,114.97 L301.40,114.95 L301.90,114.93 L302.40,114.91 L302.90,114.89 L303.40,114.87 L303.90,114.85 L304.40,114.83 L304.90,114.80 L305.40,114.78 L305.90,114.76 L306.40,114.73 L306.90,114.70 L307.40,114.68 L307.90,114.65 L308.40,114.61 L308.90,114.58 L309.40,114.55 L309.90,114.51 L310.40,114.47 L310.90,114.43 L311.40,114.38 L311.90,114.34 L312.40,114.29 L312.90,114.23 L313.40,114.17 L313.90,114.11 L314.40,114.04 L314.90,113.96 L315.40,113.88 L315.90,113.79 L316.40,113.69 L316.90,113.59 L317.40,113.47 L317.90,113.35 L318.40,113.21 L318.90,113.06 L319.40,112.89 L319.90,112.71 L320.40,112.52 L320.90,112.30 L321.40,112.07 L321.90,111.81 L322.40,111.54 L322.90,111.24 L323.40,110.91 L323.90,110.56 L324.40,110.17 L324.90,109.76 L325.40,109.31 L325.90,108.83 L326.40,108.32 L326.90,107.77 L327.40,107.18 L327.90,106.56 L328.40,105.89 L328.90,105.18 L329.40,104.44 L329.90,103.65 L330.40,102.82 L330.90,101.95 L331.40,101.04 L331.90,100.09 L332.40,99.11 L332.90,98.09 L333.40,97.03 L333.90,95.94 L334.40,94.83 L334.90,93.69 L335.40,92.53 L335.90,91.35 L336.40,90.16 L336.90,88.97 L337.40,87.77 L337.90,86.58 L338.40,85.40 L338.90,84.24 L339.40,83.11 L339.90,82.01 L340.40,80.96 L340.90,79.96 L341.40,79.03 L341.90,78.16 L342.40,77.38 L342.90,76.68 L343.40,76.08 L343.90,75.59 L344.40,75.20 L344.90,74.94 L345.40,74.79 L345.90,74.76 L346.40,74.84 L346.90,75.01 L347.40,75.28 L347.90,75.65 L348.40,76.10 L348.90,76.63 L349.40,77.24 L349.90,77.93 L350.40,78.69 L350.90,79.50 L351.40,80.37 L351.90,81.29 L352.40,82.25 L352.90,83.24 L353.40,84.27 L353.90,85.32 L354.40,86.38 L354.90,87.46 L355.40,88.55 L355.90,89.64 L356.40,90.72 L356.90,91.81 L357.40,92.88 L357.90,93.94 L358.40,94.98 L358.90,96.01 L359.40,97.01 L359.90,97.99 L360.40,98.94 L360.90,99.87 L361.40,100.77 L361.90,101.64 L362.40,102.48 L362.90,103.28 L363.40,104.06 L363.90,104.80 L364.40,105.51 L364.90,106.18 L365.40,106.83 L365.90,107.44 L366.40,108.02 L366.90,108.57 L367.40,109.09 L367.90,109.58 L368.40,110.05 L368.90,110.48 L369.40,110.89 L369.90,111.28 L370.40,111.64 L370.90,111.97 L371.40,112.29 L371.90,112.58 L372.40,112.86 L372.90,113.12 L373.40,113.36 L373.90,113.58 L374.40,113.79 L374.90,113.98 L375.40,114.16 L375.90,114.33 L376.40,114.49 L376.90,114.64 L377.40,114.77 L377.90,114.90 L378.40,115.02 L378.90,115.14 L379.40,115.24 L379.90,115.34 L380.40,115.43 L380.90,115.52 L381.40,115.60 L381.90,115.68 L382.40,115.76 L382.90,115.83 L383.40,115.89 L383.90,115.96 L384.40,116.02 L384.90,116.07 L385.40,116.13 L385.90,116.18 L386.40,116.23 L386.90,116.28 L387.40,116.33 L387.90,116.37 L388.40,116.42 L388.90,116.46 L389.40,116.50 L389.90,116.54 L390.40,116.58 L390.90,116.61 L391.40,116.65 L391.90,116.69 L392.40,116.72 L392.90,116.75 L393.40,116.78 L393.90,116.82 L394.40,116.85 L394.90,116.88 L395.40,116.90 L395.90,116.93 L396.40,116.96 L396.90,116.99 L397.40,117.01 L397.90,117.04 L398.40,117.06 L398.90,117.08 L399.40,117.11 L399.90,117.13 L400.40,117.15 L400.90,117.17 L401.40,117.20 L401.90,117.22 L402.40,117.24 L402.90,117.26 L403.40,117.27 L403.90,117.29 L404.40,117.31 L404.90,117.33 L405.40,117.35 L405.90,117.36 L406.40,117.38 L406.90,117.39 L407.40,117.41 L407.90,117.43 L408.40,117.44 L408.90,117.45 L409.40,117.47 L409.90,117.48 L410.40,117.50 L410.90,117.51 L411.40,117.52 L411.90,117.53 L412.40,117.55 L412.90,117.56 L413.40,117.57 L413.90,117.58 L414.40,117.59 L414.90,117.60 L415.40,117.61 L415.90,117.62 L416.40,117.63 L416.90,117.64 L417.40,117.65 L417.90,117.66 L418.40,117.67 L418.90,117.68 L419.40,117.69 L419.90,117.70 L420.40,117.71 L420.90,117.71 L421.40,117.72 L421.90,117.73 L422.40,117.74 L422.90,117.74 L423.40,117.75 L423.90,117.76 L424.40,117.77 L424.90,117.77 L425.40,117.78 L425.90,117.79 L426.40,117.79 L426.90,117.80 L427.40,117.80 L427.90,117.81 L428.40,117.82 L428.90,117.82 L429.40,117.83 L429.90,117.83 L430.40,117.84 L430.90,117.84 L431.40,117.85 L431.90,117.85 L432.40,117.86 L432.90,117.86 L433.40,117.87 L433.90,117.87 L434.40,117.88 L434.90,117.88 L435.40,117.88 L435.90,117.89 L436.40,117.89 L436.90,117.90 L437.40,117.90 L437.90,117.90 L438.40,117.91 L438.90,117.91 L439.40,117.91 L439.90,117.92 L440.40,117.92 L440.90,117.93 L441.40,117.93 L441.90,117.93 L442.40,117.94 L442.90,117.94 L443.40,117.94 L443.90,117.94 L444.40,117.95 L444.90,117.95 L445.40,117.95 L445.90,117.96 L446.40,117.96 L446.90,117.96 L447.40,117.96 L447.90,117.97 L448.40,117.97 L448.90,117.97 L449.40,117.97 L449.90,117.98 L450.40,117.98 L450.90,117.98 L451.40,117.98 L451.90,117.99 L452.40,117.99 L452.90,117.99 L453.40,117.99 L453.90,118.00 L454.40,118.00 L454.90,118.00 L455.40,118.00 L455.90,118.00 L456.40,118.01 L456.90,118.01 L457.40,118.01 L457.90,118.01 L458.40,118.01 L458.90,118.01 L459.40,118.02 L459.90,118.02 L460.40,118.02 L460.90,118.02 L461.40,118.02 L461.90,118.02 L462.40,118.03 L462.90,118.03 L463.40,118.03 L463.90,118.03 L464.40,118.03 L464.90,118.03 L465.40,118.04 L465.90,118.04 L466.40,118.04 L466.90,118.04 L467.40,118.04 L467.90,118.04 L468.40,118.04 L468.90,118.05 L469.40,118.05 L469.90,118.05" fill="none" stroke="#a23aa6" stroke-width="1.2"/>
<path d="M277.90,115.44 L278.40,115.43 L278.90,115.43 L279.40,115.43 L279.90,115.42 L280.40,115.42 L280.90,115.42 L281.40,115.41 L281.90,115.41 L282.40,115.40 L282.90,115.40 L283.40,115.40 L283.90,115.39 L284.40,115.39 L284.90,115.39 L285.40,115.38 L285.90,115.38 L286.40,115.37 L286.90,115.37 L287.40,115.37 L287.90,115.36 L288.40,115.36 L288.90,115.35 L289.40,115.35 L289.90,115.35 L290.40,115.34 L290.90,115.34 L291.40,115.33 L291.90,115.33 L292.40,115.32 L292.90,115.32 L293.40,115.31 L293.90,115.31 L294.40,115.30 L294.90,115.30 L295.40,115.29 L295.90,115.29 L296.40,115.28 L296.90,115.28 L297.40,115.27 L297.90,115.27 L298.40,115.26 L298.90,115.26 L299.40,115.25 L299.90,115.24 L300.40,115.24 L300.90,115.23 L301.40,115.23 L301.90,115.22 L302.40,115.21 L302.90,115.21 L303.40,115.20 L303.90,115.19 L304.40,115.19 L304.90,115.18 L305.40,115.17 L305.90,115.17 L306.40,115.16 L306.90,115.15 L307.40,115.15 L307.90,115.14 L308.40,115.13 L308.90,115.12 L309.40,115.12 L309.90,115.11 L310.40,115.10 L310.90,115.09 L311.40,115.08 L311.90,115.07 L312.40,115.07 L312.90,115.06 L313.40,115.05 L313.90,115.04 L314.40,115.03 L314.90,115.02 L315.40,115.01 L315.90,115.00 L316.40,114.99 L316.90,114.98 L317.40,114.97 L317.90,114.96 L318.40,114.95 L318.90,114.94 L319.40,114.93 L319.90,114.92 L320.40,114.90 L320.90,114.89 L321.40,114.88 L321.90,114.87 L322.40,114.86 L322.90,114.84 L323.40,114.83 L323.90,114.82 L324.40,114.80 L324.90,114.79 L325.40,114.78 L325.90,114.76 L326.40,114.75 L326.90,114.73 L327.40,114.72 L327.90,114.70 L328.40,114.68 L328.90,114.67 L329.40,114.65 L329.90,114.63 L330.40,114.62 L330.90,114.60 L331.40,114.58 L331.90,114.56 L332.40,114.54 L332.90,114.52 L333.40,114.50 L333.90,114.48 L334.40,114.46 L334.90,114.44 L335.40,114.41 L335.90,114.39 L336.40,114.36 L336.90,114.34 L337.40,114.31 L337.90,114.29 L338.40,114.26 L338.90,114.23 L339.40,114.20 L339.90,114.17 L340.40,114.14 L340.90,114.11 L341.40,114.08 L341.90,114.04 L342.40,114.01 L342.90,113.97 L343.40,113.93 L343.90,113.89 L344.40,113.85 L344.90,113.81 L345.40,113.76 L345.90,113.71 L346.40,113.66 L346.90,113.61 L347.40,113.55 L347.90,113.49 L348.40,113.43 L348.90,113.36 L349.40,113.29 L349.90,113.21 L350.40,113.13 L350.90,113.04 L351.40,112.95 L351.90,112.84 L352.40,112.73 L352.90,112.61 L353.40,112.48 L353.90,112.34 L354.40,112.19 L354.90,112.03 L355.40,111.85 L355.90,111.65 L356.40,111.44 L356.90,111.20 L357.40,110.95 L357.90,110.67 L358.40,110.37 L358.90,110.05 L359.40,109.69 L359.90,109.30 L360.40,108.88 L360.90,108.43 L361.40,107.93 L361.90,107.39 L362.40,106.81 L362.90,106.19 L363.40,105.51 L363.90,104.78 L364.40,104.00 L364.90,103.16 L365.40,102.26 L365.90,101.30 L366.40,100.27 L366.90,99.18 L367.40,98.02 L367.90,96.78 L368.40,95.48 L368.90,94.10 L369.40,92.66 L369.90,91.13 L370.40,89.54 L370.90,87.87 L371.40,86.12 L371.90,84.31 L372.40,82.43 L372.90,80.49 L373.40,78.48 L373.90,76.41 L374.40,74.29 L374.90,72.12 L375.40,69.91 L375.90,67.67 L376.40,65.39 L376.90,63.10 L377.40,60.79 L377.90,58.48 L378.40,56.18 L378.90,53.90 L379.40,51.66 L379.90,49.45 L380.40,47.31 L380.90,45.24 L381.40,43.26 L381.90,41.37 L382.40,39.61 L382.90,37.98 L383.40,36.49 L383.90,35.17 L384.40,34.02 L384.90,33.05 L385.40,32.29 L385.90,31.73 L386.40,31.38 L386.90,31.25 L387.40,31.37 L387.90,31.76 L388.40,32.43 L388.90,33.37 L389.40,34.57 L389.90,36.00 L390.40,37.65 L390.90,39.49 L391.40,41.51 L391.90,43.69 L392.40,46.00 L392.90,48.42 L393.40,50.92 L393.90,53.49 L394.40,56.11 L394.90,58.76 L395.40,61.43 L395.90,64.09 L396.40,66.73 L396.90,69.35 L397.40,71.92 L397.90,74.44 L398.40,76.90 L398.90,79.29 L399.40,81.61 L399.90,83.84 L400.40,85.99 L400.90,88.04 L401.40,90.01 L401.90,91.88 L402.40,93.65 L402.90,95.33 L403.40,96.91 L403.90,98.40 L404.40,99.80 L404.90,101.10 L405.40,102.32 L405.90,103.45 L406.40,104.50 L406.90,105.48 L407.40,106.38 L407.90,107.21 L408.40,107.97 L408.90,108.67 L409.40,109.32 L409.90,109.91 L410.40,110.45 L410.90,110.94 L411.40,111.39 L411.90,111.80 L412.40,112.18 L412.90,112.52 L413.40,112.83 L413.90,113.12 L414.40,113.38 L414.90,113.61 L415.40,113.83 L415.90,114.03 L416.40,114.21 L416.90,114.38 L417.40,114.53 L417.90,114.67 L418.40,114.81 L418.90,114.93 L419.40,115.04 L419.90,115.15 L420.40,115.25 L420.90,115.34 L421.40,115.43 L421.90,115.51 L422.40,115.58 L422.90,115.66 L423.40,115.73 L423.90,115.79 L424.40,115.86 L424.90,115.92 L425.40,115.98 L425.90,116.03 L426.40,116.08 L426.90,116.13 L427.40,116.18 L427.90,116.23 L428.40,116.28 L428.90,116.32 L429.40,116.36 L429.90,116.40 L430.40,116.44 L430.90,116.48 L431.40,116.52 L431.90,116.55 L432.40,116.59 L432.90,116.62 L433.40,116.65 L433.90,116.69 L434.40,116.72 L434.90,116.75 L435.40,116.77 L435.90,116.80 L436.40,116.83 L436.90,116.86 L437.40,116.88 L437.90,116.91 L438.40,116.93 L438.90,116.96 L439.40,116.98 L439.90,117.00 L440.40,117.02 L440.90,117.04 L441.40,117.06 L441.90,117.08 L442.40,117.10 L442.90,117.12 L443.40,117.14 L443.90,117.16 L444.40,117.18 L444.90,117.20 L445.40,117.21 L445.90,117.23 L446.40,117.24 L446.90,117.26 L447.40,117.28 L447.90,117.29 L448.40,117.30 L448.90,117.32 L449.40,117.33 L449.90,117.35 L450.40,117.36 L450.90,117.37 L451.40,117.39 L451.90,117.40 L452.40,117.41 L452.90,117.42 L453.40,117.43 L453.90,117.44 L454.40,117.46 L454.90,117.47 L455.40,117.48 L455.90,117.49 L456.40,117.50 L456.90,117.51 L457.40,117.52 L457.90,117.53 L458.40,117.54 L458.90,117.55 L459.40,117.55 L459.90,117.56 L460.40,117.57 L460.90,117.58 L461.40,117.59 L461.90,117.60 L462.40,117.60 L462.90,117.61 L463.40,117.62 L463.90,117.63 L464.40,117.63 L464.90,117.64 L465.40,117.65 L465.90,117.66 L466.40,117.66 L466.90,117.67 L467.40,117.68 L467.90,117.68 L468.40,117.69 L468.90,117.69 L469.40,117.70 L469.90,117.71" fill="none" stroke="#a23aa6" stroke-width="1.2"/>
<path d="M277.90,115.05 L278.40,115.04 L278.90,115.03 L279.40,115.02 L279.90,115.01 L280.40,115.00 L280.90,114.99 L281.40,114.98 L281.90,114.97 L282.40,114.96 L282.90,114.95 L283.40,114.94 L283.90,114.93 L284.40,114.92 L284.90,114.91 L285.40,114.90 L285.90,114.88 L286.40,114.87 L286.90,114.86 L287.40,114.85 L287.90,114.84 L288.40,114.82 L288.90,114.81 L289.40,114.80 L289.90,114.78 L290.40,114.77 L290.90,114.75 L291.40,114.74 L291.90,114.72 L292.40,114.71 L292.90,114.69 L293.40,114.68 L293.90,114.66 L294.40,114.64 L294.90,114.62 L295.40,114.61 L295.90,114.59 L296.40,114.57 L296.90,114.55 L297.40,114.53 L297.90,114.51 L298.40,114.49 L298.90,114.47 L299.40,114.45 L299.90,114.42 L300.40,114.40 L300.90,114.38 L301.40,114.35 L301.90,114.33 L302.40,114.30 L302.90,114.27 L303.40,114.25 L303.90,114.22 L304.40,114.19 L304.90,114.16 L305.40,114.13 L305.90,114.10 L306.40,114.06 L306.90,114.03 L307.40,113.99 L307.90,113.95 L308.40,113.91 L308.90,113.87 L309.40,113.83 L309.90,113.78 L310.40,113.73 L310.90,113.68 L311.40,113.63 L311.90,113.57 L312.40,113.51 L312.90,113.44 L313.40,113.37 L313.90,113.30 L314.40,113.22 L314.90,113.13 L315.40,113.04 L315.90,112.94 L316.40,112.83 L316.90,112.71 L317.40,112.58 L317.90,112.44 L318.40,112.29 L318.90,112.13 L319.40,111.95 L319.90,111.76 L320.40,111.55 L320.90,111.32 L321.40,111.07 L321.90,110.80 L322.40,110.51 L322.90,110.19 L323.40,109.85 L323.90,109.48 L324.40,109.08 L324.90,108.65 L325.40,108.19 L325.90,107.69 L326.40,107.16 L326.90,106.59 L327.40,105.98 L327.90,105.34 L328.40,104.65 L328.90,103.92 L329.40,103.15 L329.90,102.35 L330.40,101.49 L330.90,100.60 L331.40,99.67 L331.90,98.70 L332.40,97.69 L332.90,96.64 L333.40,95.56 L333.90,94.45 L334.40,93.31 L334.90,92.14 L335.40,90.95 L335.90,89.74 L336.40,88.52 L336.90,87.30 L337.40,86.07 L337.90,84.84 L338.40,83.63 L338.90,82.44 L339.40,81.27 L339.90,80.14 L340.40,79.05 L340.90,78.01 L341.40,77.03 L341.90,76.12 L342.40,75.29 L342.90,74.55 L343.40,73.90 L343.90,73.36 L344.40,72.93 L344.90,72.60 L345.40,72.40 L345.90,72.31 L346.40,72.33 L346.90,72.44 L347.40,72.65 L347.90,72.94 L348.40,73.31 L348.90,73.77 L349.40,74.30 L349.90,74.90 L350.40,75.56 L350.90,76.27 L351.40,77.03 L351.90,77.83 L352.40,78.67 L352.90,79.53 L353.40,80.41 L353.90,81.31 L354.40,82.21 L354.90,83.11 L355.40,84.00 L355.90,84.88 L356.40,85.73 L356.90,86.57 L357.40,87.37 L357.90,88.14 L358.40,88.87 L358.90,89.55 L359.40,90.18 L359.90,90.75 L360.40,91.27 L360.90,91.72 L361.40,92.11 L361.90,92.42 L362.40,92.66 L362.90,92.82 L363.40,92.90 L363.90,92.90 L364.40,92.80 L364.90,92.62 L365.40,92.35 L365.90,91.98 L366.40,91.51 L366.90,90.95 L367.40,90.29 L367.90,89.53 L368.40,88.67 L368.90,87.71 L369.40,86.65 L369.90,85.49 L370.40,84.24 L370.90,82.88 L371.40,81.44 L371.90,79.90 L372.40,78.28 L372.90,76.57 L373.40,74.78 L373.90,72.92 L374.40,70.98 L374.90,68.99 L375.40,66.94 L375.90,64.84 L376.40,62.71 L376.90,60.54 L377.40,58.35 L377.90,56.15 L378.40,53.95 L378.90,51.77 L379.40,49.61 L379.90,47.49 L380.40,45.42 L380.90,43.41 L381.40,41.50 L381.90,39.67 L382.40,37.96 L382.90,36.38 L383.40,34.95 L383.90,33.67 L384.40,32.56 L384.90,31.64 L385.40,30.91 L385.90,30.39 L386.40,30.08 L386.90,29.98 L387.40,30.13 L387.90,30.55 L388.40,31.25 L388.90,32.22 L389.40,33.44 L389.90,34.90 L390.40,36.57 L390.90,38.44 L391.40,40.48 L391.90,42.68 L392.40,45.01 L392.90,47.44 L393.40,49.97 L393.90,52.56 L394.40,55.20 L394.90,57.87 L395.40,60.55 L395.90,63.22 L396.40,65.88 L396.90,68.51 L397.40,71.10 L397.90,73.64 L398.40,76.11 L398.90,78.52 L399.40,80.85 L399.90,83.09 L400.40,85.25 L400.90,87.32 L401.40,89.30 L401.90,91.18 L402.40,92.97 L402.90,94.66 L403.40,96.25 L403.90,97.75 L404.40,99.15 L404.90,100.47 L405.40,101.70 L405.90,102.84 L406.40,103.90 L406.90,104.89 L407.40,105.80 L407.90,106.63 L408.40,107.41 L408.90,108.12 L409.40,108.77 L409.90,109.37 L410.40,109.92 L410.90,110.42 L411.40,110.88 L411.90,111.29 L412.40,111.68 L412.90,112.03 L413.40,112.34 L413.90,112.64 L414.40,112.90 L414.90,113.15 L415.40,113.37 L415.90,113.57 L416.40,113.76 L416.90,113.94 L417.40,114.10 L417.90,114.24 L418.40,114.38 L418.90,114.51 L419.40,114.63 L419.90,114.74 L420.40,114.84 L420.90,114.94 L421.40,115.03 L421.90,115.12 L422.40,115.20 L422.90,115.28 L423.40,115.35 L423.90,115.43 L424.40,115.49 L424.90,115.56 L425.40,115.62 L425.90,115.68 L426.40,115.74 L426.90,115.79 L427.40,115.85 L427.90,115.90 L428.40,115.95 L428.90,115.99 L429.40,116.04 L429.90,116.08 L430.40,116.13 L430.90,116.17 L431.40,116.21 L431.90,116.25 L432.40,116.29 L432.90,116.32 L433.40,116.36 L433.90,116.39 L434.40,116.43 L434.90,116.46 L435.40,116.49 L435.90,116.52 L436.40,116.55 L436.90,116.58 L437.40,116.61 L437.90,116.64 L438.40,116.67 L438.90,116.69 L439.40,116.72 L439.90,116.75 L440.40,116.77 L440.90,116.79 L441.40,116.82 L441.90,116.84 L442.40,116.86 L442.90,116.88 L443.40,116.90 L443.90,116.92 L444.40,116.94 L444.90,116.96 L445.40,116.98 L445.90,117.00 L446.40,117.02 L446.90,117.04 L447.40,117.06 L447.90,117.07 L448.40,117.09 L448.90,117.11 L449.40,117.12 L449.90,117.14 L450.40,117.15 L450.90,117.17 L451.40,117.18 L451.90,117.20 L452.40,117.21 L452.90,117.22 L453.40,117.24 L453.90,117.25 L454.40,117.26 L454.90,117.28 L455.40,117.29 L455.90,117.30 L456.40,117.31 L456.90,117.32 L457.40,117.33 L457.90,117.35 L458.40,117.36 L458.90,117.37 L459.40,117.38 L459.90,117.39 L460.40,117.40 L460.90,117.41 L461.40,117.42 L461.90,117.43 L462.40,117.44 L462.90,117.45 L463.40,117.45 L463.90,117.46 L464.40,117.47 L464.90,117.48 L465.40,117.49 L465.90,117.50 L466.40,117.51 L466.90,117.51 L467.40,117.52 L467.90,117.53 L468.40,117.54 L468.90,117.54 L469.40,117.55 L469.90,117.56" fill="none" stroke="#3fbdb6" stroke-width="1.5"/>
<path d="M277.90,115.80 L278.40,115.80 L278.90,115.80 L279.40,115.80 L279.90,115.81 L280.40,115.81 L280.90,115.81 L281.40,115.81 L281.90,115.81 L282.40,115.81 L282.90,115.81 L283.40,115.81 L283.90,115.81 L284.40,115.81 L284.90,115.81 L285.40,115.81 L285.90,115.81 L286.40,115.81 L286.90,115.81 L287.40,115.81 L287.90,115.81 L288.40,115.81 L288.90,115.81 L289.40,115.81 L289.90,115.81 L290.40,115.81 L290.90,115.81 L291.40,115.81 L291.90,115.81 L292.40,115.81 L292.90,115.81 L293.40,115.81 L293.90,115.81 L294.40,115.81 L294.90,115.81 L295.40,115.81 L295.90,115.81 L296.40,115.82 L296.90,115.82 L297.40,115.82 L297.90,115.82 L298.40,115.82 L298.90,115.82 L299.40,115.82 L299.90,115.82 L300.40,115.82 L300.90,115.82 L301.40,115.82 L301.90,115.82 L302.40,115.82 L302.90,115.82 L303.40,115.82 L303.90,115.83 L304.40,115.83 L304.90,115.83 L305.40,115.83 L305.90,115.83 L306.40,115.83 L306.90,115.83 L307.40,115.83 L307.90,115.83 L308.40,115.83 L308.90,115.84 L309.40,115.84 L309.90,115.84 L310.40,115.84 L310.90,115.84 L311.40,115.84 L311.90,115.84 L312.40,115.84 L312.90,115.85 L313.40,115.85 L313.90,115.85 L314.40,115.85 L314.90,115.85 L315.40,115.85 L315.90,115.86 L316.40,115.86 L316.90,115.86 L317.40,115.86 L317.90,115.86 L318.40,115.87 L318.90,115.87 L319.40,115.87 L319.90,115.87 L320.40,115.87 L320.90,115.88 L321.40,115.88 L321.90,115.88 L322.40,115.88 L322.90,115.89 L323.40,115.89 L323.90,115.89 L324.40,115.90 L324.90,115.90 L325.40,115.90 L325.90,115.91 L326.40,115.91 L326.90,115.91 L327.40,115.92 L327.90,115.92 L328.40,115.92 L328.90,115.93 L329.40,115.93 L329.90,115.94 L330.40,115.94 L330.90,115.95 L331.40,115.95 L331.90,115.95 L332.40,115.96 L332.90,115.96 L333.40,115.97 L333.90,115.98 L334.40,115.98 L334.90,115.99 L335.40,115.99 L335.90,116.00 L336.40,116.00 L336.90,116.01 L337.40,116.02 L337.90,116.02 L338.40,116.03 L338.90,116.04 L339.40,116.05 L339.90,116.05 L340.40,116.06 L340.90,116.07 L341.40,116.08 L341.90,116.08 L342.40,116.09 L342.90,116.10 L343.40,116.11 L343.90,116.12 L344.40,116.13 L344.90,116.14 L345.40,116.15 L345.90,116.16 L346.40,116.17 L346.90,116.18 L347.40,116.19 L347.90,116.20 L348.40,116.21 L348.90,116.22 L349.40,116.24 L349.90,116.25 L350.40,116.26 L350.90,116.27 L351.40,116.28 L351.90,116.30 L352.40,116.31 L352.90,116.32 L353.40,116.34 L353.90,116.35 L354.40,116.37 L354.90,116.38 L355.40,116.40 L355.90,116.41 L356.40,116.43 L356.90,116.44 L357.40,116.46 L357.90,116.47 L358.40,116.49 L358.90,116.51 L359.40,116.52 L359.90,116.54 L360.40,116.56 L360.90,116.58 L361.40,116.59 L361.90,116.61 L362.40,116.63 L362.90,116.65 L363.40,116.67 L363.90,116.68 L364.40,116.70 L364.90,116.72 L365.40,116.74 L365.90,116.76 L366.40,116.78 L366.90,116.80 L367.40,116.82 L367.90,116.84 L368.40,116.86 L368.90,116.88 L369.40,116.90 L369.90,116.92 L370.40,116.94 L370.90,116.96 L371.40,116.98 L371.90,117.00 L372.40,117.02 L372.90,117.04 L373.40,117.06 L373.90,117.08 L374.40,117.10 L374.90,117.12 L375.40,117.14 L375.90,117.16 L376.40,117.17 L376.90,117.19 L377.40,117.21 L377.90,117.23 L378.40,117.25 L378.90,117.27 L379.40,117.29 L379.90,117.31 L380.40,117.33 L380.90,117.35 L381.40,117.36 L381.90,117.38 L382.40,117.40 L382.90,117.42 L383.40,117.44 L383.90,117.45 L384.40,117.47 L384.90,117.49 L385.40,117.50 L385.90,117.52 L386.40,117.54 L386.90,117.55 L387.40,117.57 L387.90,117.58 L388.40,117.60 L388.90,117.61 L389.40,117.63 L389.90,117.64 L390.40,117.66 L390.90,117.67 L391.40,117.68 L391.90,117.70 L392.40,117.71 L392.90,117.72 L393.40,117.74 L393.90,117.75 L394.40,117.76 L394.90,117.77 L395.40,117.78 L395.90,117.79 L396.40,117.81 L396.90,117.82 L397.40,117.83 L397.90,117.84 L398.40,117.85 L398.90,117.86 L399.40,117.87 L399.90,117.88 L400.40,117.89 L400.90,117.89 L401.40,117.90 L401.90,117.91 L402.40,117.92 L402.90,117.93 L403.40,117.94 L403.90,117.94 L404.40,117.95 L404.90,117.96 L405.40,117.97 L405.90,117.97 L406.40,117.98 L406.90,117.99 L407.40,117.99 L407.90,118.00 L408.40,118.01 L408.90,118.01 L409.40,118.02 L409.90,118.02 L410.40,118.03 L410.90,118.03 L411.40,118.04 L411.90,118.04 L412.40,118.05 L412.90,118.05 L413.40,118.06 L413.90,118.06 L414.40,118.07 L414.90,118.07 L415.40,118.07 L415.90,118.08 L416.40,118.08 L416.90,118.09 L417.40,118.09 L417.90,118.09 L418.40,118.10 L418.90,118.10 L419.40,118.10 L419.90,118.11 L420.40,118.11 L420.90,118.11 L421.40,118.11 L421.90,118.12 L422.40,118.12 L422.90,118.12 L423.40,118.12 L423.90,118.13 L424.40,118.13 L424.90,118.13 L425.40,118.13 L425.90,118.14 L426.40,118.14 L426.90,118.14 L427.40,118.14 L427.90,118.14 L428.40,118.15 L428.90,118.15 L429.40,118.15 L429.90,118.15 L430.40,118.15 L430.90,118.15 L431.40,118.16 L431.90,118.16 L432.40,118.16 L432.90,118.16 L433.40,118.16 L433.90,118.16 L434.40,118.16 L434.90,118.16 L435.40,118.17 L435.90,118.17 L436.40,118.17 L436.90,118.17 L437.40,118.17 L437.90,118.17 L438.40,118.17 L438.90,118.17 L439.40,118.17 L439.90,118.17 L440.40,118.18 L440.90,118.18 L441.40,118.18 L441.90,118.18 L442.40,118.18 L442.90,118.18 L443.40,118.18 L443.90,118.18 L444.40,118.18 L444.90,118.18 L445.40,118.18 L445.90,118.18 L446.40,118.18 L446.90,118.18 L447.40,118.18 L447.90,118.18 L448.40,118.19 L448.90,118.19 L449.40,118.19 L449.90,118.19 L450.40,118.19 L450.90,118.19 L451.40,118.19 L451.90,118.19 L452.40,118.19 L452.90,118.19 L453.40,118.19 L453.90,118.19 L454.40,118.19 L454.90,118.19 L455.40,118.19 L455.90,118.19 L456.40,118.19 L456.90,118.19 L457.40,118.19 L457.90,118.19 L458.40,118.19 L458.90,118.19 L459.40,118.19 L459.90,118.19 L460.40,118.19 L460.90,118.19 L461.40,118.19 L461.90,118.19 L462.40,118.19 L462.90,118.19 L463.40,118.19 L463.90,118.19 L464.40,118.19 L464.90,118.20 L465.40,118.20 L465.90,118.20 L466.40,118.20 L466.90,118.20 L467.40,118.20 L467.90,118.20 L468.40,118.20 L468.90,118.20 L469.40,118.20 L469.90,118.20" fill="none" stroke="#e8841e" stroke-width="1.2"/>
<path d="M277.90,212.91 L278.40,212.92 L278.90,212.92 L279.40,212.92 L279.90,212.93 L280.40,212.93 L280.90,212.94 L281.40,212.94 L281.90,212.95 L282.40,212.95 L282.90,212.95 L283.40,212.96 L283.90,212.96 L284.40,212.96 L284.90,212.97 L285.40,212.97 L285.90,212.97 L286.40,212.98 L286.90,212.98 L287.40,212.98 L287.90,212.99 L288.40,212.99 L288.90,212.99 L289.40,213.00 L289.90,213.00 L290.40,213.00 L290.90,213.00 L291.40,213.01 L291.90,213.01 L292.40,213.01 L292.90,213.01 L293.40,213.01 L293.90,213.01 L294.40,213.02 L294.90,213.02 L295.40,213.02 L295.90,213.02 L296.40,213.02 L296.90,213.02 L297.40,213.02 L297.90,213.02 L298.40,213.02 L298.90,213.02 L299.40,213.02 L299.90,213.02 L300.40,213.02 L300.90,213.02 L301.40,213.01 L301.90,213.01 L302.40,213.01 L302.90,213.01 L303.40,213.00 L303.90,213.00 L304.40,212.99 L304.90,212.99 L305.40,212.98 L305.90,212.97 L306.40,212.97 L306.90,212.96 L307.40,212.95 L307.90,212.94 L308.40,212.93 L308.90,212.91 L309.40,212.90 L309.90,212.88 L310.40,212.86 L310.90,212.84 L311.40,212.82 L311.90,212.79 L312.40,212.76 L312.90,212.73 L313.40,212.69 L313.90,212.64 L314.40,212.59 L314.90,212.54 L315.40,212.47 L315.90,212.40 L316.40,212.32 L316.90,212.23 L317.40,212.13 L317.90,212.01 L318.40,211.88 L318.90,211.74 L319.40,211.58 L319.90,211.40 L320.40,211.20 L320.90,210.97 L321.40,210.73 L321.90,210.46 L322.40,210.16 L322.90,209.84 L323.40,209.48 L323.90,209.09 L324.40,208.67 L324.90,208.22 L325.40,207.72 L325.90,207.20 L326.40,206.63 L326.90,206.03 L327.40,205.39 L327.90,204.71 L328.40,203.99 L328.90,203.24 L329.40,202.45 L329.90,201.63 L330.40,200.78 L330.90,199.89 L331.40,198.99 L331.90,198.06 L332.40,197.12 L332.90,196.16 L333.40,195.20 L333.90,194.24 L334.40,193.29 L334.90,192.35 L335.40,191.43 L335.90,190.54 L336.40,189.68 L336.90,188.88 L337.40,188.13 L337.90,187.45 L338.40,186.84 L338.90,186.31 L339.40,185.88 L339.90,185.54 L340.40,185.31 L340.90,185.19 L341.40,185.18 L341.90,185.26 L342.40,185.42 L342.90,185.64 L343.40,185.93 L343.90,186.29 L344.40,186.71 L344.90,187.19 L345.40,187.72 L345.90,188.31 L346.40,188.94 L346.90,189.62 L347.40,190.33 L347.90,191.07 L348.40,191.85 L348.90,192.64 L349.40,193.46 L349.90,194.29 L350.40,195.14 L350.90,195.99 L351.40,196.84 L351.90,197.70 L352.40,198.56 L352.90,199.41 L353.40,200.25 L353.90,201.08 L354.40,201.91 L354.90,202.71 L355.40,203.50 L355.90,204.28 L356.40,205.03 L356.90,205.77 L357.40,206.48 L357.90,207.18 L358.40,207.85 L358.90,208.49 L359.40,209.12 L359.90,209.72 L360.40,210.30 L360.90,210.85 L361.40,211.38 L361.90,211.89 L362.40,212.38 L362.90,212.84 L363.40,213.28 L363.90,213.71 L364.40,214.11 L364.90,214.49 L365.40,214.86 L365.90,215.21 L366.40,215.54 L366.90,215.85 L367.40,216.15 L367.90,216.44 L368.40,216.71 L368.90,216.97 L369.40,217.21 L369.90,217.45 L370.40,217.68 L370.90,217.89 L371.40,218.10 L371.90,218.30 L372.40,218.49 L372.90,218.67 L373.40,218.85 L373.90,219.02 L374.40,219.18 L374.90,219.34 L375.40,219.49 L375.90,219.64 L376.40,219.79 L376.90,219.93 L377.40,220.06 L377.90,220.20 L378.40,220.33 L378.90,220.46 L379.40,220.58 L379.90,220.70 L380.40,220.82 L380.90,220.94 L381.40,221.06 L381.90,221.17 L382.40,221.28 L382.90,221.39 L383.40,221.50 L383.90,221.60 L384.40,221.70 L384.90,221.81 L385.40,221.91 L385.90,222.01 L386.40,222.10 L386.90,222.20 L387.40,222.29 L387.90,222.38 L388.40,222.47 L388.90,222.56 L389.40,222.65 L389.90,222.74 L390.40,222.82 L390.90,222.91 L391.40,222.99 L391.90,223.07 L392.40,223.15 L392.90,223.23 L393.40,223.30 L393.90,223.38 L394.40,223.45 L394.90,223.53 L395.40,223.60 L395.90,223.67 L396.40,223.74 L396.90,223.80 L397.40,223.87 L397.90,223.93 L398.40,224.00 L398.90,224.06 L399.40,224.12 L399.90,224.18 L400.40,224.24 L400.90,224.30 L401.40,224.35 L401.90,224.41 L402.40,224.46 L402.90,224.52 L403.40,224.57 L403.90,224.62 L404.40,224.67 L404.90,224.72 L405.40,224.77 L405.90,224.82 L406.40,224.86 L406.90,224.91 L407.40,224.95 L407.90,225.00 L408.40,225.04 L408.90,225.08 L409.40,225.12 L409.90,225.16 L410.40,225.20 L410.90,225.24 L411.40,225.28 L411.90,225.31 L412.40,225.35 L412.90,225.38 L413.40,225.42 L413.90,225.45 L414.40,225.49 L414.90,225.52 L415.40,225.55 L415.90,225.58 L416.40,225.61 L416.90,225.64 L417.40,225.67 L417.90,225.70 L418.40,225.73 L418.90,225.76 L419.40,225.78 L419.90,225.81 L420.40,225.84 L420.90,225.86 L421.40,225.89 L421.90,225.91 L422.40,225.93 L422.90,225.96 L423.40,225.98 L423.90,226.00 L424.40,226.03 L424.90,226.05 L425.40,226.07 L425.90,226.09 L426.40,226.11 L426.90,226.13 L427.40,226.15 L427.90,226.17 L428.40,226.19 L428.90,226.21 L429.40,226.23 L429.90,226.25 L430.40,226.27 L430.90,226.28 L431.40,226.30 L431.90,226.32 L432.40,226.34 L432.90,226.35 L433.40,226.37 L433.90,226.39 L434.40,226.40 L434.90,226.42 L435.40,226.43 L435.90,226.45 L436.40,226.46 L436.90,226.48 L437.40,226.49 L437.90,226.51 L438.40,226.52 L438.90,226.53 L439.40,226.55 L439.90,226.56 L440.40,226.58 L440.90,226.59 L441.40,226.60 L441.90,226.62 L442.40,226.63 L442.90,226.64 L443.40,226.65 L443.90,226.67 L444.40,226.68 L444.90,226.69 L445.40,226.70 L445.90,226.71 L446.40,226.73 L446.90,226.74 L447.40,226.75 L447.90,226.76 L448.40,226.77 L448.90,226.78 L449.40,226.79 L449.90,226.80 L450.40,226.82 L450.90,226.83 L451.40,226.84 L451.90,226.85 L452.40,226.86 L452.90,226.87 L453.40,226.88 L453.90,226.89 L454.40,226.90 L454.90,226.91 L455.40,226.92 L455.90,226.93 L456.40,226.94 L456.90,226.95 L457.40,226.96 L457.90,226.97 L458.40,226.98 L458.90,226.99 L459.40,227.00 L459.90,227.01 L460.40,227.01 L460.90,227.02 L461.40,227.03 L461.90,227.04 L462.40,227.05 L462.90,227.06 L463.40,227.07 L463.90,227.08 L464.40,227.09 L464.90,227.10 L465.40,227.11 L465.90,227.11 L466.40,227.12 L466.90,227.13 L467.40,227.14 L467.90,227.15 L468.40,227.16 L468.90,227.17 L469.40,227.17 L469.90,227.18" fill="none" stroke="#a23aa6" stroke-width="1.2"/>
<path d="M277.90,212.85 L278.40,212.86 L278.90,212.86 L279.40,212.87 L279.90,212.87 L280.40,212.88 L280.90,212.88 L281.40,212.89 L281.90,212.89 L282.40,212.90 L282.90,212.90 L283.40,212.91 L283.90,212.92 L284.40,212.92 L284.90,212.93 L285.40,212.93 L285.90,212.94 L286.40,212.94 L286.90,212.95 L287.40,212.95 L287.90,212.96 L288.40,212.96 L288.90,212.97 L289.40,212.97 L289.90,212.98 L290.40,212.98 L290.90,212.99 L291.40,212.99 L291.90,213.00 L292.40,213.00 L292.90,213.01 L293.40,213.01 L293.90,213.02 L294.40,213.02 L294.90,213.03 L295.40,213.03 L295.90,213.04 L296.40,213.05 L296.90,213.05 L297.40,213.06 L297.90,213.06 L298.40,213.07 L298.90,213.07 L299.40,213.08 L299.90,213.08 L300.40,213.09 L300.90,213.09 L301.40,213.10 L301.90,213.11 L302.40,213.11 L302.90,213.12 L303.40,213.12 L303.90,213.13 L304.40,213.13 L304.90,213.14 L305.40,213.14 L305.90,213.15 L306.40,213.16 L306.90,213.16 L307.40,213.17 L307.90,213.17 L308.40,213.18 L308.90,213.19 L309.40,213.19 L309.90,213.20 L310.40,213.20 L310.90,213.21 L311.40,213.22 L311.90,213.22 L312.40,213.23 L312.90,213.24 L313.40,213.24 L313.90,213.25 L314.40,213.26 L314.90,213.26 L315.40,213.27 L315.90,213.28 L316.40,213.29 L316.90,213.29 L317.40,213.30 L317.90,213.31 L318.40,213.31 L318.90,213.32 L319.40,213.33 L319.90,213.34 L320.40,213.35 L320.90,213.35 L321.40,213.36 L321.90,213.37 L322.40,213.38 L322.90,213.39 L323.40,213.39 L323.90,213.40 L324.40,213.41 L324.90,213.42 L325.40,213.43 L325.90,213.44 L326.40,213.45 L326.90,213.46 L327.40,213.47 L327.90,213.48 L328.40,213.49 L328.90,213.50 L329.40,213.51 L329.90,213.52 L330.40,213.53 L330.90,213.54 L331.40,213.55 L331.90,213.56 L332.40,213.57 L332.90,213.58 L333.40,213.59 L333.90,213.60 L334.40,213.61 L334.90,213.62 L335.40,213.63 L335.90,213.64 L336.40,213.65 L336.90,213.66 L337.40,213.67 L337.90,213.68 L338.40,213.69 L338.90,213.70 L339.40,213.71 L339.90,213.71 L340.40,213.72 L340.90,213.73 L341.40,213.74 L341.90,213.74 L342.40,213.75 L342.90,213.75 L343.40,213.75 L343.90,213.75 L344.40,213.75 L344.90,213.75 L345.40,213.74 L345.90,213.74 L346.40,213.73 L346.90,213.71 L347.40,213.69 L347.90,213.67 L348.40,213.64 L348.90,213.61 L349.40,213.57 L349.90,213.53 L350.40,213.47 L350.90,213.41 L351.40,213.34 L351.90,213.25 L352.40,213.16 L352.90,213.05 L353.40,212.92 L353.90,212.78 L354.40,212.62 L354.90,212.44 L355.40,212.24 L355.90,212.01 L356.40,211.76 L356.90,211.48 L357.40,211.17 L357.90,210.83 L358.40,210.45 L358.90,210.04 L359.40,209.58 L359.90,209.08 L360.40,208.54 L360.90,207.95 L361.40,207.31 L361.90,206.61 L362.40,205.87 L362.90,205.06 L363.40,204.19 L363.90,203.27 L364.40,202.28 L364.90,201.22 L365.40,200.11 L365.90,198.92 L366.40,197.67 L366.90,196.35 L367.40,194.97 L367.90,193.52 L368.40,192.01 L368.90,190.44 L369.40,188.81 L369.90,187.12 L370.40,185.38 L370.90,183.60 L371.40,181.77 L371.90,179.90 L372.40,178.01 L372.90,176.09 L373.40,174.15 L373.90,172.21 L374.40,170.27 L374.90,168.34 L375.40,166.43 L375.90,164.55 L376.40,162.72 L376.90,160.95 L377.40,159.24 L377.90,157.62 L378.40,156.09 L378.90,154.68 L379.40,153.39 L379.90,152.23 L380.40,151.22 L380.90,150.37 L381.40,149.69 L381.90,149.19 L382.40,148.88 L382.90,148.75 L383.40,148.83 L383.90,149.16 L384.40,149.77 L384.90,150.64 L385.40,151.76 L385.90,153.11 L386.40,154.68 L386.90,156.44 L387.40,158.37 L387.90,160.45 L388.40,162.65 L388.90,164.96 L389.40,167.35 L389.90,169.79 L390.40,172.28 L390.90,174.79 L391.40,177.30 L391.90,179.80 L392.40,182.27 L392.90,184.71 L393.40,187.09 L393.90,189.41 L394.40,191.67 L394.90,193.84 L395.40,195.94 L395.90,197.94 L396.40,199.86 L396.90,201.68 L397.40,203.40 L397.90,205.03 L398.40,206.56 L398.90,208.00 L399.40,209.34 L399.90,210.59 L400.40,211.76 L400.90,212.83 L401.40,213.83 L401.90,214.75 L402.40,215.59 L402.90,216.37 L403.40,217.08 L403.90,217.73 L404.40,218.32 L404.90,218.86 L405.40,219.36 L405.90,219.81 L406.40,220.21 L406.90,220.59 L407.40,220.93 L407.90,221.23 L408.40,221.52 L408.90,221.77 L409.40,222.01 L409.90,222.22 L410.40,222.42 L410.90,222.60 L411.40,222.77 L411.90,222.93 L412.40,223.07 L412.90,223.20 L413.40,223.33 L413.90,223.45 L414.40,223.56 L414.90,223.66 L415.40,223.76 L415.90,223.85 L416.40,223.94 L416.90,224.03 L417.40,224.11 L417.90,224.18 L418.40,224.26 L418.90,224.33 L419.40,224.40 L419.90,224.46 L420.40,224.53 L420.90,224.59 L421.40,224.65 L421.90,224.71 L422.40,224.76 L422.90,224.82 L423.40,224.87 L423.90,224.92 L424.40,224.97 L424.90,225.02 L425.40,225.07 L425.90,225.11 L426.40,225.16 L426.90,225.20 L427.40,225.24 L427.90,225.28 L428.40,225.32 L428.90,225.36 L429.40,225.40 L429.90,225.44 L430.40,225.47 L430.90,225.51 L431.40,225.54 L431.90,225.58 L432.40,225.61 L432.90,225.64 L433.40,225.67 L433.90,225.70 L434.40,225.73 L434.90,225.76 L435.40,225.79 L435.90,225.82 L436.40,225.85 L436.90,225.88 L437.40,225.90 L437.90,225.93 L438.40,225.95 L438.90,225.98 L439.40,226.00 L439.90,226.03 L440.40,226.05 L440.90,226.07 L441.40,226.10 L441.90,226.12 L442.40,226.14 L442.90,226.16 L443.40,226.18 L443.90,226.20 L444.40,226.22 L444.90,226.24 L445.40,226.26 L445.90,226.28 L446.40,226.30 L446.90,226.32 L447.40,226.34 L447.90,226.36 L448.40,226.38 L448.90,226.39 L449.40,226.41 L449.90,226.43 L450.40,226.45 L450.90,226.46 L451.40,226.48 L451.90,226.50 L452.40,226.51 L452.90,226.53 L453.40,226.54 L453.90,226.56 L454.40,226.57 L454.90,226.59 L455.40,226.60 L455.90,226.62 L456.40,226.63 L456.90,226.65 L457.40,226.66 L457.90,226.68 L458.40,226.69 L458.90,226.70 L459.40,226.72 L459.90,226.73 L460.40,226.74 L460.90,226.76 L461.40,226.77 L461.90,226.78 L462.40,226.80 L462.90,226.81 L463.40,226.82 L463.90,226.83 L464.40,226.85 L464.90,226.86 L465.40,226.87 L465.90,226.88 L466.40,226.89 L466.90,226.91 L467.40,226.92 L467.90,226.93 L468.40,226.94 L468.90,226.95 L469.40,226.96 L469.90,226.97" fill="none" stroke="#a23aa6" stroke-width="1.2"/>
<path d="M277.90,212.62 L278.40,212.62 L278.90,212.62 L279.40,212.62 L279.90,212.63 L280.40,212.63 L280.90,212.63 L281.40,212.63 L281.90,212.63 L282.40,212.63 L282.90,212.63 L283.40,212.63 L283.90,212.63 L284.40,212.63 L284.90,212.63 L285.40,212.63 L285.90,212.63 L286.40,212.63 L286.90,212.63 L287.40,212.63 L287.90,212.63 L288.40,212.63 L288.90,212.63 L289.40,212.63 L289.90,212.63 L290.40,212.63 L290.90,212.62 L291.40,212.62 L291.90,212.62 L292.40,212.62 L292.90,212.62 L293.40,212.61 L293.90,212.61 L294.40,212.61 L294.90,212.60 L295.40,212.60 L295.90,212.60 L296.40,212.59 L296.90,212.59 L297.40,212.58 L297.90,212.58 L298.40,212.57 L298.90,212.57 L299.40,212.56 L299.90,212.56 L300.40,212.55 L300.90,212.54 L301.40,212.53 L301.90,212.53 L302.40,212.52 L302.90,212.51 L303.40,212.50 L303.90,212.49 L304.40,212.48 L304.90,212.46 L305.40,212.45 L305.90,212.44 L306.40,212.42 L306.90,212.41 L307.40,212.39 L307.90,212.38 L308.40,212.36 L308.90,212.34 L309.40,212.31 L309.90,212.29 L310.40,212.26 L310.90,212.23 L311.40,212.20 L311.90,212.16 L312.40,212.13 L312.90,212.08 L313.40,212.03 L313.90,211.98 L314.40,211.92 L314.90,211.86 L315.40,211.78 L315.90,211.70 L316.40,211.61 L316.90,211.51 L317.40,211.39 L317.90,211.27 L318.40,211.13 L318.90,210.97 L319.40,210.80 L319.90,210.61 L320.40,210.39 L320.90,210.16 L321.40,209.90 L321.90,209.62 L322.40,209.31 L322.90,208.97 L323.40,208.60 L323.90,208.20 L324.40,207.76 L324.90,207.29 L325.40,206.78 L325.90,206.24 L326.40,205.66 L326.90,205.04 L327.40,204.38 L327.90,203.68 L328.40,202.95 L328.90,202.18 L329.40,201.37 L329.90,200.53 L330.40,199.66 L330.90,198.76 L331.40,197.83 L331.90,196.88 L332.40,195.92 L332.90,194.94 L333.40,193.95 L333.90,192.97 L334.40,191.99 L334.90,191.02 L335.40,190.08 L335.90,189.16 L336.40,188.28 L336.90,187.44 L337.40,186.66 L337.90,185.95 L338.40,185.31 L338.90,184.75 L339.40,184.28 L339.90,183.91 L340.40,183.64 L340.90,183.49 L341.40,183.44 L341.90,183.48 L342.40,183.59 L342.90,183.76 L343.40,184.01 L343.90,184.31 L344.40,184.68 L344.90,185.10 L345.40,185.58 L345.90,186.10 L346.40,186.66 L346.90,187.27 L347.40,187.90 L347.90,188.56 L348.40,189.25 L348.90,189.95 L349.40,190.67 L349.90,191.39 L350.40,192.11 L350.90,192.84 L351.40,193.55 L351.90,194.26 L352.40,194.95 L352.90,195.62 L353.40,196.26 L353.90,196.88 L354.40,197.47 L354.90,198.02 L355.40,198.54 L355.90,199.01 L356.40,199.43 L356.90,199.81 L357.40,200.14 L357.90,200.40 L358.40,200.62 L358.90,200.77 L359.40,200.85 L359.90,200.87 L360.40,200.82 L360.90,200.69 L361.40,200.50 L361.90,200.22 L362.40,199.87 L362.90,199.44 L363.40,198.93 L363.90,198.33 L364.40,197.65 L364.90,196.89 L365.40,196.05 L365.90,195.12 L366.40,194.10 L366.90,193.01 L367.40,191.83 L367.90,190.57 L368.40,189.24 L368.90,187.83 L369.40,186.35 L369.90,184.80 L370.40,183.19 L370.90,181.52 L371.40,179.80 L371.90,178.04 L372.40,176.24 L372.90,174.40 L373.40,172.55 L373.90,170.68 L374.40,168.80 L374.90,166.93 L375.40,165.08 L375.90,163.26 L376.40,161.48 L376.90,159.75 L377.40,158.09 L377.90,156.51 L378.40,155.02 L378.90,153.64 L379.40,152.38 L379.90,151.25 L380.40,150.27 L380.90,149.45 L381.40,148.80 L381.90,148.32 L382.40,148.03 L382.90,147.92 L383.40,148.02 L383.90,148.37 L384.40,149.00 L384.90,149.88 L385.40,151.02 L385.90,152.39 L386.40,153.97 L386.90,155.75 L387.40,157.69 L387.90,159.79 L388.40,162.00 L388.90,164.32 L389.40,166.72 L389.90,169.18 L390.40,171.68 L390.90,174.20 L391.40,176.72 L391.90,179.23 L392.40,181.72 L392.90,184.16 L393.40,186.55 L393.90,188.89 L394.40,191.15 L394.90,193.34 L395.40,195.44 L395.90,197.45 L396.40,199.38 L396.90,201.20 L397.40,202.94 L397.90,204.57 L398.40,206.11 L398.90,207.56 L399.40,208.91 L399.90,210.17 L400.40,211.34 L400.90,212.42 L401.40,213.42 L401.90,214.35 L402.40,215.20 L402.90,215.98 L403.40,216.70 L403.90,217.35 L404.40,217.95 L404.90,218.50 L405.40,219.00 L405.90,219.45 L406.40,219.86 L406.90,220.24 L407.40,220.59 L407.90,220.90 L408.40,221.19 L408.90,221.45 L409.40,221.69 L409.90,221.91 L410.40,222.11 L410.90,222.30 L411.40,222.47 L411.90,222.63 L412.40,222.77 L412.90,222.91 L413.40,223.04 L413.90,223.16 L414.40,223.28 L414.90,223.39 L415.40,223.49 L415.90,223.58 L416.40,223.68 L416.90,223.76 L417.40,223.85 L417.90,223.93 L418.40,224.01 L418.90,224.08 L419.40,224.15 L419.90,224.22 L420.40,224.29 L420.90,224.35 L421.40,224.42 L421.90,224.48 L422.40,224.53 L422.90,224.59 L423.40,224.65 L423.90,224.70 L424.40,224.75 L424.90,224.80 L425.40,224.85 L425.90,224.90 L426.40,224.95 L426.90,224.99 L427.40,225.04 L427.90,225.08 L428.40,225.12 L428.90,225.16 L429.40,225.20 L429.90,225.24 L430.40,225.28 L430.90,225.32 L431.40,225.36 L431.90,225.39 L432.40,225.43 L432.90,225.46 L433.40,225.49 L433.90,225.53 L434.40,225.56 L434.90,225.59 L435.40,225.62 L435.90,225.65 L436.40,225.68 L436.90,225.71 L437.40,225.74 L437.90,225.77 L438.40,225.79 L438.90,225.82 L439.40,225.85 L439.90,225.87 L440.40,225.90 L440.90,225.92 L441.40,225.95 L441.90,225.97 L442.40,225.99 L442.90,226.02 L443.40,226.04 L443.90,226.06 L444.40,226.08 L444.90,226.10 L445.40,226.12 L445.90,226.15 L446.40,226.17 L446.90,226.19 L447.40,226.21 L447.90,226.23 L448.40,226.24 L448.90,226.26 L449.40,226.28 L449.90,226.30 L450.40,226.32 L450.90,226.34 L451.40,226.35 L451.90,226.37 L452.40,226.39 L452.90,226.41 L453.40,226.42 L453.90,226.44 L454.40,226.46 L454.90,226.47 L455.40,226.49 L455.90,226.50 L456.40,226.52 L456.90,226.53 L457.40,226.55 L457.90,226.56 L458.40,226.58 L458.90,226.59 L459.40,226.61 L459.90,226.62 L460.40,226.64 L460.90,226.65 L461.40,226.66 L461.90,226.68 L462.40,226.69 L462.90,226.71 L463.40,226.72 L463.90,226.73 L464.40,226.75 L464.90,226.76 L465.40,226.77 L465.90,226.78 L466.40,226.80 L466.90,226.81 L467.40,226.82 L467.90,226.83 L468.40,226.85 L468.90,226.86 L469.40,226.87 L469.90,226.88" fill="none" stroke="#3fbdb6" stroke-width="1.5"/>
<path d="M277.90,213.14 L278.40,213.15 L278.90,213.16 L279.40,213.17 L279.90,213.18 L280.40,213.19 L280.90,213.19 L281.40,213.20 L281.90,213.21 L282.40,213.22 L282.90,213.23 L283.40,213.23 L283.90,213.24 L284.40,213.25 L284.90,213.26 L285.40,213.27 L285.90,213.28 L286.40,213.29 L286.90,213.29 L287.40,213.30 L287.90,213.31 L288.40,213.32 L288.90,213.33 L289.40,213.34 L289.90,213.35 L290.40,213.36 L290.90,213.37 L291.40,213.38 L291.90,213.39 L292.40,213.39 L292.90,213.40 L293.40,213.41 L293.90,213.42 L294.40,213.43 L294.90,213.44 L295.40,213.45 L295.90,213.46 L296.40,213.47 L296.90,213.48 L297.40,213.49 L297.90,213.50 L298.40,213.51 L298.90,213.52 L299.40,213.54 L299.90,213.55 L300.40,213.56 L300.90,213.57 L301.40,213.58 L301.90,213.59 L302.40,213.60 L302.90,213.61 L303.40,213.63 L303.90,213.64 L304.40,213.65 L304.90,213.66 L305.40,213.67 L305.90,213.69 L306.40,213.70 L306.90,213.71 L307.40,213.72 L307.90,213.74 L308.40,213.75 L308.90,213.77 L309.40,213.78 L309.90,213.79 L310.40,213.81 L310.90,213.82 L311.40,213.84 L311.90,213.85 L312.40,213.87 L312.90,213.88 L313.40,213.90 L313.90,213.91 L314.40,213.93 L314.90,213.95 L315.40,213.96 L315.90,213.98 L316.40,214.00 L316.90,214.01 L317.40,214.03 L317.90,214.05 L318.40,214.07 L318.90,214.09 L319.40,214.11 L319.90,214.13 L320.40,214.15 L320.90,214.17 L321.40,214.19 L321.90,214.21 L322.40,214.23 L322.90,214.25 L323.40,214.28 L323.90,214.30 L324.40,214.32 L324.90,214.35 L325.40,214.37 L325.90,214.40 L326.40,214.42 L326.90,214.45 L327.40,214.47 L327.90,214.50 L328.40,214.53 L328.90,214.56 L329.40,214.58 L329.90,214.61 L330.40,214.64 L330.90,214.67 L331.40,214.70 L331.90,214.74 L332.40,214.77 L332.90,214.80 L333.40,214.84 L333.90,214.87 L334.40,214.90 L334.90,214.94 L335.40,214.98 L335.90,215.01 L336.40,215.05 L336.90,215.09 L337.40,215.13 L337.90,215.17 L338.40,215.21 L338.90,215.26 L339.40,215.30 L339.90,215.34 L340.40,215.39 L340.90,215.43 L341.40,215.48 L341.90,215.53 L342.40,215.58 L342.90,215.63 L343.40,215.68 L343.90,215.73 L344.40,215.78 L344.90,215.84 L345.40,215.89 L345.90,215.95 L346.40,216.00 L346.90,216.06 L347.40,216.12 L347.90,216.18 L348.40,216.24 L348.90,216.30 L349.40,216.37 L349.90,216.43 L350.40,216.50 L350.90,216.56 L351.40,216.63 L351.90,216.70 L352.40,216.77 L352.90,216.84 L353.40,216.91 L353.90,216.98 L354.40,217.06 L354.90,217.13 L355.40,217.21 L355.90,217.28 L356.40,217.36 L356.90,217.44 L357.40,217.52 L357.90,217.60 L358.40,217.68 L358.90,217.77 L359.40,217.85 L359.90,217.93 L360.40,218.02 L360.90,218.11 L361.40,218.19 L361.90,218.28 L362.40,218.37 L362.90,218.46 L363.40,218.55 L363.90,218.64 L364.40,218.73 L364.90,218.83 L365.40,218.92 L365.90,219.01 L366.40,219.11 L366.90,219.20 L367.40,219.29 L367.90,219.39 L368.40,219.49 L368.90,219.58 L369.40,219.68 L369.90,219.77 L370.40,219.87 L370.90,219.97 L371.40,220.06 L371.90,220.16 L372.40,220.26 L372.90,220.35 L373.40,220.45 L373.90,220.55 L374.40,220.64 L374.90,220.74 L375.40,220.84 L375.90,220.93 L376.40,221.03 L376.90,221.12 L377.40,221.22 L377.90,221.31 L378.40,221.40 L378.90,221.50 L379.40,221.59 L379.90,221.68 L380.40,221.77 L380.90,221.86 L381.40,221.95 L381.90,222.04 L382.40,222.13 L382.90,222.22 L383.40,222.31 L383.90,222.39 L384.40,222.48 L384.90,222.56 L385.40,222.64 L385.90,222.73 L386.40,222.81 L386.90,222.89 L387.40,222.97 L387.90,223.05 L388.40,223.12 L388.90,223.20 L389.40,223.27 L389.90,223.35 L390.40,223.42 L390.90,223.49 L391.40,223.57 L391.90,223.64 L392.40,223.70 L392.90,223.77 L393.40,223.84 L393.90,223.90 L394.40,223.97 L394.90,224.03 L395.40,224.09 L395.90,224.16 L396.40,224.22 L396.90,224.28 L397.40,224.33 L397.90,224.39 L398.40,224.45 L398.90,224.50 L399.40,224.56 L399.90,224.61 L400.40,224.66 L400.90,224.71 L401.40,224.76 L401.90,224.81 L402.40,224.86 L402.90,224.91 L403.40,224.95 L403.90,225.00 L404.40,225.04 L404.90,225.09 L405.40,225.13 L405.90,225.17 L406.40,225.21 L406.90,225.25 L407.40,225.29 L407.90,225.33 L408.40,225.37 L408.90,225.40 L409.40,225.44 L409.90,225.48 L410.40,225.51 L410.90,225.55 L411.40,225.58 L411.90,225.61 L412.40,225.64 L412.90,225.67 L413.40,225.71 L413.90,225.74 L414.40,225.76 L414.90,225.79 L415.40,225.82 L415.90,225.85 L416.40,225.88 L416.90,225.90 L417.40,225.93 L417.90,225.95 L418.40,225.98 L418.90,226.00 L419.40,226.03 L419.90,226.05 L420.40,226.08 L420.90,226.10 L421.40,226.12 L421.90,226.14 L422.40,226.16 L422.90,226.18 L423.40,226.20 L423.90,226.22 L424.40,226.24 L424.90,226.26 L425.40,226.28 L425.90,226.30 L426.40,226.32 L426.90,226.34 L427.40,226.36 L427.90,226.37 L428.40,226.39 L428.90,226.41 L429.40,226.42 L429.90,226.44 L430.40,226.46 L430.90,226.47 L431.40,226.49 L431.90,226.50 L432.40,226.52 L432.90,226.53 L433.40,226.55 L433.90,226.56 L434.40,226.58 L434.90,226.59 L435.40,226.60 L435.90,226.62 L436.40,226.63 L436.90,226.64 L437.40,226.66 L437.90,226.67 L438.40,226.68 L438.90,226.69 L439.40,226.71 L439.90,226.72 L440.40,226.73 L440.90,226.74 L441.40,226.75 L441.90,226.76 L442.40,226.78 L442.90,226.79 L443.40,226.80 L443.90,226.81 L444.40,226.82 L444.90,226.83 L445.40,226.84 L445.90,226.85 L446.40,226.86 L446.90,226.87 L447.40,226.88 L447.90,226.89 L448.40,226.90 L448.90,226.91 L449.40,226.92 L449.90,226.93 L450.40,226.94 L450.90,226.95 L451.40,226.96 L451.90,226.97 L452.40,226.98 L452.90,226.99 L453.40,227.00 L453.90,227.01 L454.40,227.02 L454.90,227.03 L455.40,227.04 L455.90,227.04 L456.40,227.05 L456.90,227.06 L457.40,227.07 L457.90,227.08 L458.40,227.09 L458.90,227.10 L459.40,227.11 L459.90,227.11 L460.40,227.12 L460.90,227.13 L461.40,227.14 L461.90,227.15 L462.40,227.16 L462.90,227.16 L463.40,227.17 L463.90,227.18 L464.40,227.19 L464.90,227.20 L465.40,227.20 L465.90,227.21 L466.40,227.22 L466.90,227.23 L467.40,227.24 L467.90,227.24 L468.40,227.25 L468.90,227.26 L469.40,227.27 L469.90,227.28" fill="none" stroke="#e8841e" stroke-width="1.2"/>
<path d="M305.40,293.00 L305.90,293.05 L306.40,293.10 L306.90,293.15 L307.40,293.19 L307.90,293.24 L308.40,293.29 L308.90,293.33 L309.40,293.38 L309.90,293.42 L310.40,293.47 L310.90,293.52 L311.40,293.56 L311.90,293.61 L312.40,293.65 L312.90,293.69 L313.40,293.74 L313.90,293.78 L314.40,293.82 L314.90,293.86 L315.40,293.93 L315.90,294.00 L316.40,294.07 L316.90,294.14 L317.40,294.21 L317.90,294.27 L318.40,294.33 L318.90,294.39 L319.40,294.44 L319.90,294.49 L320.40,294.54 L320.90,294.58 L321.40,294.62 L321.90,294.64 L322.40,294.66 L322.90,294.68 L323.40,294.68 L323.90,294.68 L324.40,294.66 L324.90,294.63 L325.40,294.59 L325.90,294.54 L326.40,294.47 L326.90,294.39 L327.40,294.30 L327.90,294.19 L328.40,294.06 L328.90,293.92 L329.40,293.76 L329.90,293.58 L330.40,293.39 L330.90,293.18 L331.40,292.96 L331.90,292.72 L332.40,292.47 L332.90,292.21 L333.40,291.94 L333.90,291.66 L334.40,291.38 L334.90,291.09 L335.40,290.81 L335.90,290.52 L336.40,290.24 L336.90,289.97 L337.40,289.70 L337.90,289.43 L338.40,289.18 L338.90,288.95 L339.40,288.75 L339.90,288.58 L340.40,288.43 L340.90,288.33 L341.40,288.25 L341.90,288.22 L342.40,288.22 L342.90,288.27 L343.40,288.35 L343.90,288.47 L344.40,288.62 L344.90,288.81 L345.40,289.02 L345.90,289.27 L346.40,289.55 L346.90,289.85 L347.40,290.18 L347.90,290.52 L348.40,290.89 L348.90,291.26 L349.40,291.65 L349.90,292.05 L350.40,292.45 L350.90,292.86 L351.40,293.26 L351.90,293.67 L352.40,294.07 L352.90,294.46 L353.40,294.85 L353.90,295.23 L354.40,295.60 L354.90,295.96 L355.40,296.30 L355.90,296.63 L356.40,296.94 L356.90,297.25 L357.40,297.53 L357.90,297.80 L358.40,298.06 L358.90,298.30 L359.40,298.53 L359.90,298.75 L360.40,298.97 L360.90,299.18 L361.40,299.38 L361.90,299.57 L362.40,299.75 L362.90,299.92 L363.40,300.08 L363.90,300.23 L364.40,300.37 L364.90,300.51 L365.40,300.64 L365.90,300.76 L366.40,300.88 L366.90,301.00 L367.40,301.11 L367.90,301.21 L368.40,301.32 L368.90,301.42 L369.40,301.51 L369.90,301.61 L370.40,301.70 L370.90,301.79 L371.40,301.88 L371.90,301.97 L372.40,302.06 L372.90,302.15 L373.40,302.23 L373.90,302.32 L374.40,302.40 L374.90,302.49 L375.40,302.57 L375.90,302.66 L376.40,302.74 L376.90,302.82 L377.40,302.90 L377.90,302.99 L378.40,303.07 L378.90,303.15 L379.40,303.23 L379.90,303.32 L380.40,303.40 L380.90,303.48 L381.40,303.56 L381.90,303.64 L382.40,303.72 L382.90,303.81 L383.40,303.89 L383.90,303.97 L384.40,304.05 L384.90,304.13 L385.40,304.25 L385.90,304.37 L386.40,304.49 L386.90,304.62 L387.40,304.74 L387.90,304.86 L388.40,304.99 L388.90,305.11 L389.40,305.23 L389.90,305.35 L390.40,305.48 L390.90,305.60 L391.40,305.72 L391.90,305.85 L392.40,305.97 L392.90,306.09 L393.40,306.22 L393.90,306.34 L394.40,306.46 L394.90,306.58 L395.40,306.71 L395.90,306.83 L396.40,306.95 L396.90,307.08 L397.40,307.20 L397.90,307.32 L398.40,307.44 L398.90,307.57 L399.40,307.69 L399.90,307.81 L400.40,307.94 L400.90,308.06 L401.40,308.18 L401.90,308.30 L402.40,308.43 L402.90,308.55 L403.40,308.67 L403.90,308.79 L404.40,308.92 L404.90,309.04 L405.40,309.16 L405.90,309.28 L406.40,309.41 L406.90,309.53 L407.40,309.65 L407.90,309.77 L408.40,309.90 L408.90,310.02 L409.40,310.14 L409.90,310.26 L410.40,310.39 L410.90,310.51 L411.40,310.63 L411.90,310.76 L412.40,310.88 L412.90,311.00 L413.40,311.12 L413.90,311.25 L414.40,311.37 L414.90,311.49 L415.40,311.61 L415.90,311.73 L416.40,311.86 L416.90,311.98 L417.40,312.10 L417.90,312.22 L418.40,312.35 L418.90,312.47 L419.40,312.59 L419.90,312.71 L420.40,312.84 L420.90,312.96 L421.40,313.02 L421.90,313.07 L422.40,313.12 L422.90,313.17 L423.40,313.21 L423.90,313.26 L424.40,313.31 L424.90,313.36 L425.40,313.41 L425.90,313.45 L426.40,313.50 L426.90,313.55 L427.40,313.60 L427.90,313.65 L428.40,313.69 L428.90,313.74 L429.40,313.79 L429.90,313.84 L430.40,313.89 L430.90,313.93 L431.40,313.98 L431.90,314.03 L432.40,314.08 L432.90,314.12 L433.40,314.17 L433.90,314.22 L434.40,314.27 L434.90,314.32 L435.40,314.36 L435.90,314.41 L436.40,314.46 L436.90,314.51 L437.40,314.56 L437.90,314.60 L438.40,314.65 L438.90,314.70 L439.40,314.75 L439.90,314.80 L440.40,314.84 L440.90,314.89 L441.40,314.94 L441.90,314.99 L442.40,315.03 L442.90,315.08 L443.40,315.13 L443.90,315.18 L444.40,315.23 L444.90,315.27" fill="none" stroke="#a23aa6" stroke-width="1.2"/>
<path d="M305.40,293.02 L305.90,293.07 L306.40,293.12 L306.90,293.17 L307.40,293.21 L307.90,293.26 L308.40,293.31 L308.90,293.36 L309.40,293.41 L309.90,293.45 L310.40,293.50 L310.90,293.55 L311.40,293.60 L311.90,293.65 L312.40,293.69 L312.90,293.74 L313.40,293.79 L313.90,293.84 L314.40,293.89 L314.90,293.93 L315.40,294.01 L315.90,294.09 L316.40,294.17 L316.90,294.25 L317.40,294.33 L317.90,294.41 L318.40,294.49 L318.90,294.58 L319.40,294.66 L319.90,294.74 L320.40,294.82 L320.90,294.90 L321.40,294.98 L321.90,295.06 L322.40,295.14 L322.90,295.22 L323.40,295.30 L323.90,295.38 L324.40,295.46 L324.90,295.55 L325.40,295.63 L325.90,295.71 L326.40,295.79 L326.90,295.87 L327.40,295.95 L327.90,296.03 L328.40,296.11 L328.90,296.19 L329.40,296.27 L329.90,296.35 L330.40,296.43 L330.90,296.51 L331.40,296.59 L331.90,296.67 L332.40,296.75 L332.90,296.83 L333.40,296.91 L333.90,296.99 L334.40,297.07 L334.90,297.15 L335.40,297.23 L335.90,297.31 L336.40,297.39 L336.90,297.47 L337.40,297.53 L337.90,297.58 L338.40,297.64 L338.90,297.69 L339.40,297.74 L339.90,297.80 L340.40,297.85 L340.90,297.91 L341.40,297.96 L341.90,298.01 L342.40,298.07 L342.90,298.12 L343.40,298.17 L343.90,298.22 L344.40,298.28 L344.90,298.33 L345.40,298.38 L345.90,298.43 L346.40,298.48 L346.90,298.53 L347.40,298.59 L347.90,298.64 L348.40,298.68 L348.90,298.73 L349.40,298.78 L349.90,298.83 L350.40,298.87 L350.90,298.92 L351.40,298.96 L351.90,299.00 L352.40,299.04 L352.90,299.08 L353.40,299.12 L353.90,299.15 L354.40,299.18 L354.90,299.21 L355.40,299.23 L355.90,299.25 L356.40,299.27 L356.90,299.27 L357.40,299.28 L357.90,299.28 L358.40,299.27 L358.90,299.25 L359.40,299.22 L359.90,299.18 L360.40,299.16 L360.90,299.12 L361.40,299.08 L361.90,299.02 L362.40,298.94 L362.90,298.86 L363.40,298.75 L363.90,298.63 L364.40,298.49 L364.90,298.33 L365.40,298.15 L365.90,297.95 L366.40,297.73 L366.90,297.49 L367.40,297.22 L367.90,296.93 L368.40,296.61 L368.90,296.28 L369.40,295.91 L369.90,295.53 L370.40,295.12 L370.90,294.69 L371.40,294.23 L371.90,293.76 L372.40,293.26 L372.90,292.75 L373.40,292.22 L373.90,291.67 L374.40,291.12 L374.90,290.55 L375.40,289.98 L375.90,289.41 L376.40,288.83 L376.90,288.26 L377.40,287.70 L377.90,287.15 L378.40,286.61 L378.90,286.09 L379.40,285.59 L379.90,285.12 L380.40,284.68 L380.90,284.28 L381.40,283.91 L381.90,283.59 L382.40,283.31 L382.90,283.08 L383.40,282.91 L383.90,282.79 L384.40,282.72 L384.90,282.71 L385.40,282.80 L385.90,282.96 L386.40,283.18 L386.90,283.48 L387.40,283.84 L387.90,284.27 L388.40,284.76 L388.90,285.30 L389.40,285.90 L389.90,286.54 L390.40,287.23 L390.90,287.96 L391.40,288.71 L391.90,289.50 L392.40,290.30 L392.90,291.12 L393.40,291.95 L393.90,292.79 L394.40,293.63 L394.90,294.47 L395.40,295.30 L395.90,296.11 L396.40,296.92 L396.90,297.71 L397.40,298.47 L397.90,299.22 L398.40,299.94 L398.90,300.63 L399.40,301.30 L399.90,301.94 L400.40,302.55 L400.90,303.14 L401.40,303.69 L401.90,304.22 L402.40,304.71 L402.90,305.18 L403.40,305.63 L403.90,306.05 L404.40,306.44 L404.90,306.81 L405.40,307.16 L405.90,307.48 L406.40,307.79 L406.90,308.08 L407.40,308.35 L407.90,308.61 L408.40,308.85 L408.90,309.08 L409.40,309.30 L409.90,309.51 L410.40,309.71 L410.90,309.89 L411.40,310.08 L411.90,310.25 L412.40,310.42 L412.90,310.58 L413.40,310.74 L413.90,310.89 L414.40,311.04 L414.90,311.19 L415.40,311.33 L415.90,311.47 L416.40,311.61 L416.90,311.74 L417.40,311.88 L417.90,312.01 L418.40,312.15 L418.90,312.28 L419.40,312.41 L419.90,312.54 L420.40,312.67 L420.90,312.80 L421.40,312.86 L421.90,312.92 L422.40,312.97 L422.90,313.02 L423.40,313.07 L423.90,313.13 L424.40,313.18 L424.90,313.23 L425.40,313.28 L425.90,313.33 L426.40,313.38 L426.90,313.43 L427.40,313.48 L427.90,313.54 L428.40,313.59 L428.90,313.64 L429.40,313.69 L429.90,313.74 L430.40,313.79 L430.90,313.84 L431.40,313.89 L431.90,313.94 L432.40,313.99 L432.90,314.04 L433.40,314.09 L433.90,314.14 L434.40,314.19 L434.90,314.24 L435.40,314.29 L435.90,314.33 L436.40,314.38 L436.90,314.43 L437.40,314.48 L437.90,314.53 L438.40,314.58 L438.90,314.63 L439.40,314.68 L439.90,314.73 L440.40,314.78 L440.90,314.83 L441.40,314.88 L441.90,314.93 L442.40,314.97 L442.90,315.02 L443.40,315.07 L443.90,315.12 L444.40,315.17 L444.90,315.22" fill="none" stroke="#a23aa6" stroke-width="1.2"/>
<path d="M305.40,292.96 L305.90,293.01 L306.40,293.05 L306.90,293.10 L307.40,293.15 L307.90,293.19 L308.40,293.24 L308.90,293.28 L309.40,293.33 L309.90,293.38 L310.40,293.42 L310.90,293.47 L311.40,293.51 L311.90,293.55 L312.40,293.60 L312.90,293.64 L313.40,293.68 L313.90,293.73 L314.40,293.77 L314.90,293.81 L315.40,293.87 L315.90,293.94 L316.40,294.01 L316.90,294.08 L317.40,294.15 L317.90,294.21 L318.40,294.27 L318.90,294.33 L319.40,294.38 L319.90,294.43 L320.40,294.48 L320.90,294.51 L321.40,294.55 L321.90,294.58 L322.40,294.60 L322.90,294.61 L323.40,294.61 L323.90,294.60 L324.40,294.59 L324.90,294.56 L325.40,294.52 L325.90,294.46 L326.40,294.39 L326.90,294.31 L327.40,294.22 L327.90,294.10 L328.40,293.97 L328.90,293.83 L329.40,293.67 L329.90,293.49 L330.40,293.30 L330.90,293.09 L331.40,292.86 L331.90,292.63 L332.40,292.37 L332.90,292.11 L333.40,291.84 L333.90,291.56 L334.40,291.27 L334.90,290.99 L335.40,290.70 L335.90,290.41 L336.40,290.13 L336.90,289.86 L337.40,289.58 L337.90,289.31 L338.40,289.06 L338.90,288.83 L339.40,288.62 L339.90,288.45 L340.40,288.30 L340.90,288.19 L341.40,288.11 L341.90,288.08 L342.40,288.08 L342.90,288.12 L343.40,288.20 L343.90,288.31 L344.40,288.46 L344.90,288.64 L345.40,288.86 L345.90,289.10 L346.40,289.37 L346.90,289.67 L347.40,289.99 L347.90,290.33 L348.40,290.68 L348.90,291.05 L349.40,291.43 L349.90,291.82 L350.40,292.21 L350.90,292.60 L351.40,293.00 L351.90,293.39 L352.40,293.77 L352.90,294.15 L353.40,294.52 L353.90,294.87 L354.40,295.21 L354.90,295.54 L355.40,295.85 L355.90,296.14 L356.40,296.42 L356.90,296.67 L357.40,296.90 L357.90,297.12 L358.40,297.31 L358.90,297.48 L359.40,297.62 L359.90,297.74 L360.40,297.86 L360.90,297.96 L361.40,298.03 L361.90,298.08 L362.40,298.11 L362.90,298.11 L363.40,298.09 L363.90,298.04 L364.40,297.96 L364.90,297.86 L365.40,297.73 L365.90,297.57 L366.40,297.39 L366.90,297.18 L367.40,296.94 L367.90,296.68 L368.40,296.39 L368.90,296.07 L369.40,295.72 L369.90,295.35 L370.40,294.96 L370.90,294.54 L371.40,294.09 L371.90,293.62 L372.40,293.14 L372.90,292.63 L373.40,292.11 L373.90,291.57 L374.40,291.02 L374.90,290.46 L375.40,289.89 L375.90,289.32 L376.40,288.75 L376.90,288.18 L377.40,287.62 L377.90,287.07 L378.40,286.53 L378.90,286.02 L379.40,285.52 L379.90,285.05 L380.40,284.62 L380.90,284.21 L381.40,283.85 L381.90,283.53 L382.40,283.25 L382.90,283.03 L383.40,282.85 L383.90,282.73 L384.40,282.67 L384.90,282.66 L385.40,282.75 L385.90,282.90 L386.40,283.13 L386.90,283.43 L387.40,283.79 L387.90,284.22 L388.40,284.71 L388.90,285.26 L389.40,285.86 L389.90,286.50 L390.40,287.19 L390.90,287.91 L391.40,288.67 L391.90,289.46 L392.40,290.26 L392.90,291.08 L393.40,291.92 L393.90,292.75 L394.40,293.59 L394.90,294.43 L395.40,295.26 L395.90,296.08 L396.40,296.89 L396.90,297.67 L397.40,298.44 L397.90,299.19 L398.40,299.91 L398.90,300.60 L399.40,301.27 L399.90,301.91 L400.40,302.53 L400.90,303.11 L401.40,303.66 L401.90,304.19 L402.40,304.69 L402.90,305.16 L403.40,305.60 L403.90,306.02 L404.40,306.41 L404.90,306.78 L405.40,307.13 L405.90,307.46 L406.40,307.77 L406.90,308.06 L407.40,308.33 L407.90,308.59 L408.40,308.83 L408.90,309.06 L409.40,309.28 L409.90,309.49 L410.40,309.68 L410.90,309.87 L411.40,310.06 L411.90,310.23 L412.40,310.40 L412.90,310.56 L413.40,310.72 L413.90,310.87 L414.40,311.02 L414.90,311.17 L415.40,311.31 L415.90,311.45 L416.40,311.59 L416.90,311.73 L417.40,311.86 L417.90,312.00 L418.40,312.13 L418.90,312.26 L419.40,312.39 L419.90,312.52 L420.40,312.65 L420.90,312.78 L421.40,312.85 L421.90,312.90 L422.40,312.95 L422.90,313.01 L423.40,313.06 L423.90,313.11 L424.40,313.16 L424.90,313.22 L425.40,313.27 L425.90,313.32 L426.40,313.37 L426.90,313.42 L427.40,313.47 L427.90,313.52 L428.40,313.57 L428.90,313.62 L429.40,313.67 L429.90,313.72 L430.40,313.77 L430.90,313.82 L431.40,313.87 L431.90,313.92 L432.40,313.97 L432.90,314.02 L433.40,314.07 L433.90,314.12 L434.40,314.17 L434.90,314.22 L435.40,314.27 L435.90,314.32 L436.40,314.37 L436.90,314.42 L437.40,314.47 L437.90,314.52 L438.40,314.57 L438.90,314.62 L439.40,314.67 L439.90,314.72 L440.40,314.77 L440.90,314.82 L441.40,314.87 L441.90,314.92 L442.40,314.96 L442.90,315.01 L443.40,315.06 L443.90,315.11 L444.40,315.16 L444.90,315.21" fill="none" stroke="#3fbdb6" stroke-width="1.5"/>
<path d="M277.90,290.39 L278.40,290.44 L278.90,290.49 L279.40,290.53 L279.90,290.58 L280.40,290.63 L280.90,290.68 L281.40,290.73 L281.90,290.78 L282.40,290.83 L282.90,290.87 L283.40,290.92 L283.90,290.97 L284.40,291.02 L284.90,291.07 L285.40,291.12 L285.90,291.17 L286.40,291.22 L286.90,291.26 L287.40,291.31 L287.90,291.36 L288.40,291.41 L288.90,291.46 L289.40,291.51 L289.90,291.56 L290.40,291.60 L290.90,291.65 L291.40,291.70 L291.90,291.75 L292.40,291.80 L292.90,291.85 L293.40,291.90 L293.90,291.95 L294.40,291.99 L294.90,292.04 L295.40,292.09 L295.90,292.14 L296.40,292.19 L296.90,292.24 L297.40,292.29 L297.90,292.33 L298.40,292.38 L298.90,292.43 L299.40,292.48 L299.90,292.53 L300.40,292.58 L300.90,292.63 L301.40,292.68 L301.90,292.72 L302.40,292.77 L302.90,292.82 L303.40,292.87 L303.90,292.92 L304.40,292.97 L304.90,293.02 L305.40,293.07 L305.90,293.11 L306.40,293.16 L306.90,293.21 L307.40,293.26 L307.90,293.31 L308.40,293.36 L308.90,293.41 L309.40,293.45 L309.90,293.50 L310.40,293.55 L310.90,293.60 L311.40,293.65 L311.90,293.70 L312.40,293.75 L312.90,293.80 L313.40,293.84 L313.90,293.89 L314.40,293.94 L314.90,293.99 L315.40,294.07 L315.90,294.15 L316.40,294.23 L316.90,294.31 L317.40,294.39 L317.90,294.47 L318.40,294.56 L318.90,294.64 L319.40,294.72 L319.90,294.80 L320.40,294.88 L320.90,294.97 L321.40,295.05 L321.90,295.13 L322.40,295.21 L322.90,295.29 L323.40,295.37 L323.90,295.46 L324.40,295.54 L324.90,295.62 L325.40,295.70 L325.90,295.78 L326.40,295.87 L326.90,295.95 L327.40,296.03 L327.90,296.11 L328.40,296.19 L328.90,296.27 L329.40,296.36 L329.90,296.44 L330.40,296.52 L330.90,296.60 L331.40,296.68 L331.90,296.77 L332.40,296.85 L332.90,296.93 L333.40,297.01 L333.90,297.09 L334.40,297.17 L334.90,297.26 L335.40,297.34 L335.90,297.42 L336.40,297.50 L336.90,297.58 L337.40,297.65 L337.90,297.70 L338.40,297.76 L338.90,297.81 L339.40,297.87 L339.90,297.93 L340.40,297.98 L340.90,298.04 L341.40,298.10 L341.90,298.15 L342.40,298.21 L342.90,298.27 L343.40,298.32 L343.90,298.38 L344.40,298.44 L344.90,298.49 L345.40,298.55 L345.90,298.61 L346.40,298.66 L346.90,298.72 L347.40,298.78 L347.90,298.83 L348.40,298.89 L348.90,298.95 L349.40,299.00 L349.90,299.06 L350.40,299.11 L350.90,299.17 L351.40,299.23 L351.90,299.28 L352.40,299.34 L352.90,299.40 L353.40,299.45 L353.90,299.51 L354.40,299.57 L354.90,299.62 L355.40,299.68 L355.90,299.74 L356.40,299.79 L356.90,299.85 L357.40,299.91 L357.90,299.96 L358.40,300.02 L358.90,300.08 L359.40,300.13 L359.90,300.19 L360.40,300.26 L360.90,300.34 L361.40,300.42 L361.90,300.50 L362.40,300.58 L362.90,300.66 L363.40,300.74 L363.90,300.82 L364.40,300.90 L364.90,300.98 L365.40,301.06 L365.90,301.14 L366.40,301.22 L366.90,301.30 L367.40,301.38 L367.90,301.46 L368.40,301.54 L368.90,301.62 L369.40,301.70 L369.90,301.78 L370.40,301.86 L370.90,301.94 L371.40,302.02 L371.90,302.10 L372.40,302.18 L372.90,302.26 L373.40,302.34 L373.90,302.42 L374.40,302.50 L374.90,302.58 L375.40,302.66 L375.90,302.74 L376.40,302.82 L376.90,302.90 L377.40,302.98 L377.90,303.06 L378.40,303.14 L378.90,303.22 L379.40,303.30 L379.90,303.38 L380.40,303.46 L380.90,303.54 L381.40,303.62 L381.90,303.70 L382.40,303.78 L382.90,303.86 L383.40,303.94 L383.90,304.02 L384.40,304.10 L384.90,304.18 L385.40,304.30 L385.90,304.42 L386.40,304.54 L386.90,304.66 L387.40,304.79 L387.90,304.91 L388.40,305.03 L388.90,305.15 L389.40,305.28 L389.90,305.40 L390.40,305.52 L390.90,305.64 L391.40,305.76 L391.90,305.89 L392.40,306.01 L392.90,306.13 L393.40,306.25 L393.90,306.38 L394.40,306.50 L394.90,306.62 L395.40,306.74 L395.90,306.86 L396.40,306.99 L396.90,307.11 L397.40,307.23 L397.90,307.35 L398.40,307.48 L398.90,307.60 L399.40,307.72 L399.90,307.84 L400.40,307.96 L400.90,308.09 L401.40,308.21 L401.90,308.33 L402.40,308.45 L402.90,308.58 L403.40,308.70 L403.90,308.82 L404.40,308.94 L404.90,309.06 L405.40,309.19 L405.90,309.31 L406.40,309.43 L406.90,309.55 L407.40,309.68 L407.90,309.80 L408.40,309.92 L408.90,310.04 L409.40,310.16 L409.90,310.29 L410.40,310.41 L410.90,310.53 L411.40,310.65 L411.90,310.78 L412.40,310.90 L412.90,311.02 L413.40,311.14 L413.90,311.26 L414.40,311.39 L414.90,311.51 L415.40,311.63 L415.90,311.75 L416.40,311.88 L416.90,312.00 L417.40,312.12 L417.90,312.24 L418.40,312.36 L418.90,312.49 L419.40,312.61 L419.90,312.73 L420.40,312.85 L420.90,312.98 L421.40,313.04 L421.90,313.09 L422.40,313.13 L422.90,313.18 L423.40,313.23 L423.90,313.28 L424.40,313.32 L424.90,313.37 L425.40,313.42 L425.90,313.47 L426.40,313.52 L426.90,313.56 L427.40,313.61 L427.90,313.66 L428.40,313.71 L428.90,313.75 L429.40,313.80 L429.90,313.85 L430.40,313.90 L430.90,313.95 L431.40,313.99 L431.90,314.04 L432.40,314.09 L432.90,314.14 L433.40,314.18 L433.90,314.23 L434.40,314.28 L434.90,314.33 L435.40,314.38 L435.90,314.42 L436.40,314.47 L436.90,314.52 L437.40,314.57 L437.90,314.61 L438.40,314.66 L438.90,314.71 L439.40,314.76 L439.90,314.81 L440.40,314.85 L440.90,314.90 L441.40,314.95 L441.90,315.00 L442.40,315.04 L442.90,315.09 L443.40,315.14 L443.90,315.19 L444.40,315.24 L444.90,315.28 L445.40,315.33 L445.90,315.38 L446.40,315.43 L446.90,315.47 L447.40,315.52 L447.90,315.57 L448.40,315.62 L448.90,315.67 L449.40,315.71 L449.90,315.76 L450.40,315.81 L450.90,315.86 L451.40,315.90 L451.90,315.95 L452.40,316.00 L452.90,316.05 L453.40,316.10 L453.90,316.14 L454.40,316.19 L454.90,316.24 L455.40,316.29 L455.90,316.33 L456.40,316.38 L456.90,316.43 L457.40,316.48 L457.90,316.53 L458.40,316.57 L458.90,316.62 L459.40,316.67 L459.90,316.72 L460.40,316.76 L460.90,316.81 L461.40,316.86 L461.90,316.91 L462.40,316.96 L462.90,317.00 L463.40,317.05 L463.90,317.10 L464.40,317.15 L464.90,317.19 L465.40,317.24 L465.90,317.29" fill="none" stroke="#e8841e" stroke-width="1.2"/>
<g stroke="#8a8a8a" stroke-width="1.1" fill="none">
<line x1="31.6" y1="133.7" x2="232" y2="133.7" stroke-dasharray="6 2.9 2 2.9 2 3.2"/>
<line x1="32" y1="243.6" x2="232" y2="243.6" stroke-dasharray="6 3.1 1.2 3.1"/>
<line x1="279" y1="127.5" x2="470" y2="127.5" stroke-dasharray="5.6 3.7 1.3 3.6 1.3 3.6"/>
<line x1="277" y1="242.9" x2="470" y2="242.9" stroke-dasharray="4.6 2.9 1.1 3.9 1.1 3.8"/>
</g>
<g fill="none" stroke="#161616" stroke-width="1.4">
<rect x="32.30" y="13.9" width="200.40" height="337.40"/>
<rect x="276.90" y="14.3" width="193.90" height="336.00"/>
<line x1="210.43" y1="351.3" x2="210.43" y2="349.70"/>
<line x1="188.17" y1="351.3" x2="188.17" y2="348.70"/>
<line x1="165.90" y1="351.3" x2="165.90" y2="349.70"/>
<line x1="143.63" y1="351.3" x2="143.63" y2="348.70"/>
<line x1="121.37" y1="351.3" x2="121.37" y2="349.70"/>
<line x1="99.10" y1="351.3" x2="99.10" y2="348.70"/>
<line x1="76.83" y1="351.3" x2="76.83" y2="349.70"/>
<line x1="54.57" y1="351.3" x2="54.57" y2="348.70"/>
<line x1="325.38" y1="350.3" x2="325.38" y2="347.7"/>
<line x1="373.85" y1="350.3" x2="373.85" y2="347.7"/>
<line x1="422.32" y1="350.3" x2="422.32" y2="347.7"/>
</g>
<circle cx="42.2" cy="19.5" r="1.6" fill="none" stroke="#a8a8a8" stroke-width="0.8"/>
<line x1="33.6" y1="28.4" x2="49.9" y2="28.4" stroke="#3fbdb6" stroke-width="1.5"/>
<circle cx="292.6" cy="23.3" r="1.6" fill="none" stroke="#a8a8a8" stroke-width="0.8"/>
<line x1="284.4" y1="31.7" x2="301.8" y2="31.7" stroke="#3fbdb6" stroke-width="1.5"/>
</svg>
<div class="t b" style="left:7.20px;top:12.32px;font-size:12.50px;font-size:12.5px;">(a)</div>
<div class="t b" style="left:253.40px;top:12.32px;font-size:12.50px;font-size:12.5px;">(b)</div>
<div class="t lg" style="left:51.90px;top:15.77px;font-size:7.60px;transform:scaleX(0.92);transform-origin:0 0;">Origin data</div>
<div class="t lg" style="left:51.90px;top:24.07px;font-size:7.60px;transform:scaleX(0.92);transform-origin:0 0;">Fitting</div>
<div class="t lg" style="left:302.60px;top:19.47px;font-size:7.60px;transform:scaleX(0.92);transform-origin:0 0;">Origin data</div>
<div class="t lg" style="left:302.60px;top:28.07px;font-size:7.60px;transform:scaleX(0.92);transform-origin:0 0;">Fitting</div>
<div class="t s" style="left:40.70px;top:40.64px;font-size:10.00px;">BP=CCl<sub>2</sub>-2,</div>
<div class="t s" style="left:40.70px;top:52.14px;font-size:10.00px;">100 &mu;L CHCl<sub>3</sub></div>
<div class="t s" style="left:39.60px;top:142.34px;font-size:10.00px;">BP=CCl<sub>2</sub>-2,</div>
<div class="t s" style="left:39.60px;top:153.44px;font-size:10.00px;">60 &mu;L CHCl<sub>3</sub></div>
<div class="t s" style="left:39.60px;top:258.34px;font-size:10.00px;">BP=CCl<sub>2</sub>-2,</div>
<div class="t s" style="left:39.60px;top:269.64px;font-size:10.00px;">20 &mu;L CHCl<sub>3</sub></div>
<div class="t s" style="left:281.50px;top:43.14px;font-size:10.00px;">BP=CCl<sub>2</sub>-2,</div>
<div class="t s" style="left:281.50px;top:54.64px;font-size:10.00px;">100 &mu;L CHCl<sub>3</sub></div>
<div class="t s" style="left:285.00px;top:133.13px;font-size:10.00px;">BP=CCl<sub>2</sub>-2,</div>
<div class="t s" style="left:285.00px;top:144.63px;font-size:10.00px;">60 &mu;L CHCl<sub>3</sub></div>
<div class="t s" style="left:284.50px;top:252.64px;font-size:10.00px;">BP=CCl<sub>2</sub>-2,</div>
<div class="t s" style="left:284.50px;top:264.54px;font-size:10.00px;">20 &mu;L CHCl<sub>3</sub></div>
<div class="t pk" style="left:84.90px;top:84.47px;font-size:7.00px;color:#4cbc44;">P-O</div>
<div class="t pk" style="left:115.00px;top:79.97px;font-size:7.00px;color:#6e7a2a;">P-C</div>
<div class="t pk" style="left:141.80px;top:80.37px;font-size:7.00px;color:#2a7a3a;">P=C</div>
<div class="t pk" style="left:172.20px;top:23.37px;font-size:7.00px;color:#d3283a;">P-P</div>
<div class="t pk" style="left:82.20px;top:189.97px;font-size:7.00px;color:#4cbc44;">P-O</div>
<div class="t pk" style="left:118.50px;top:187.87px;font-size:7.00px;color:#6e7a2a;">P-C</div>
<div class="t pk" style="left:144.70px;top:203.97px;font-size:7.00px;color:#2a7a3a;">P=C</div>
<div class="t pk" style="left:178.70px;top:156.97px;font-size:7.00px;color:#d3283a;">P-P</div>
<div class="t pk" style="left:75.00px;top:317.17px;font-size:7.00px;color:#4cbc44;">P-O</div>
<div class="t pk" style="left:121.10px;top:314.67px;font-size:7.00px;color:#6e7a2a;">P-C</div>
<div class="t pk" style="left:148.70px;top:322.17px;font-size:7.00px;color:#2a7a3a;">P=C</div>
<div class="t pk" style="left:182.10px;top:270.07px;font-size:7.00px;color:#d3283a;">P-P</div>
<div class="t tk" style="left:46.17px;top:353.61px;font-size:10.50px;width:16.8px;text-align:center;">136</div>
<div class="t tk" style="left:90.70px;top:353.61px;font-size:10.50px;width:16.8px;text-align:center;">134</div>
<div class="t tk" style="left:135.23px;top:353.61px;font-size:10.50px;width:16.8px;text-align:center;">132</div>
<div class="t tk" style="left:179.77px;top:353.61px;font-size:10.50px;width:16.8px;text-align:center;">130</div>
<div class="t tk" style="left:224.30px;top:353.61px;font-size:10.50px;width:16.8px;text-align:center;">128</div>
<div class="t tk" style="left:268.50px;top:352.71px;font-size:10.50px;width:16.8px;text-align:center;">202</div>
<div class="t tk" style="left:316.98px;top:352.71px;font-size:10.50px;width:16.8px;text-align:center;">200</div>
<div class="t tk" style="left:365.45px;top:352.71px;font-size:10.50px;width:16.8px;text-align:center;">198</div>
<div class="t tk" style="left:413.93px;top:352.71px;font-size:10.50px;width:16.8px;text-align:center;">196</div>
<div class="t tk" style="left:462.40px;top:352.71px;font-size:10.50px;width:16.8px;text-align:center;">194</div>
<div class="t lab" style="left:79.20px;top:365.71px;font-size:13.10px;">Binding energy/eV</div>
<div class="t lab" style="left:317.60px;top:363.71px;font-size:13.10px;transform:scaleX(1.065);transform-origin:0 0;">Binding energy/eV</div>
<div class="t" style="left:12.2px;top:202.2px;font-size:15.3px;transform:rotate(-90deg);transform-origin:0 0;">CPS</div>
<div class="t" style="left:257.0px;top:205.0px;font-size:15.7px;transform:rotate(-90deg);transform-origin:0 0;">CPS</div>
</body></html>
